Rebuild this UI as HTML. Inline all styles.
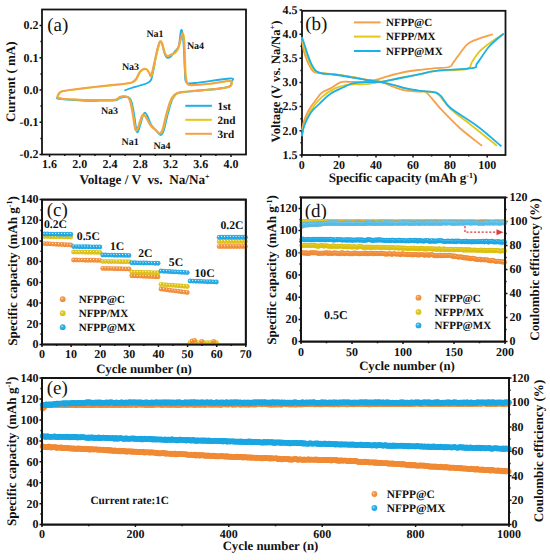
<!DOCTYPE html><html><head><meta charset="utf-8"><style>html,body{margin:0;padding:0;background:#fff;}svg{display:block;}text{font-family:"Liberation Serif", serif;fill:#111;text-rendering:geometricPrecision;}</style></head><body>
<svg width="550" height="560" viewBox="0 0 550 560">
<rect width="550" height="560" fill="#fff"/>
<defs>
<radialGradient id="gb" cx="0.38" cy="0.35" r="0.65"><stop offset="0" stop-color="#fff"/><stop offset="0.28" stop-color="#1aa6e2" stop-opacity="0.85"/><stop offset="1" stop-color="#1aa6e2"/></radialGradient>
<circle id="mb" r="2.45" fill="url(#gb)"/>
<circle id="mlb" r="2.9" fill="url(#gb)"/>
<radialGradient id="gy" cx="0.38" cy="0.35" r="0.65"><stop offset="0" stop-color="#fff"/><stop offset="0.28" stop-color="#dcc00e" stop-opacity="0.85"/><stop offset="1" stop-color="#dcc00e"/></radialGradient>
<circle id="my" r="2.45" fill="url(#gy)"/>
<circle id="mly" r="2.9" fill="url(#gy)"/>
<radialGradient id="go" cx="0.38" cy="0.35" r="0.65"><stop offset="0" stop-color="#fff"/><stop offset="0.28" stop-color="#f08a34" stop-opacity="0.85"/><stop offset="1" stop-color="#f08a34"/></radialGradient>
<circle id="mo" r="2.45" fill="url(#go)"/>
<circle id="mlo" r="2.9" fill="url(#go)"/>
<radialGradient id="gc" cx="0.38" cy="0.35" r="0.65"><stop offset="0" stop-color="#fff"/><stop offset="0.28" stop-color="#52bce8" stop-opacity="0.85"/><stop offset="1" stop-color="#52bce8"/></radialGradient>
<circle id="mc" r="2.45" fill="url(#gc)"/>
<circle id="mlc" r="2.9" fill="url(#gc)"/>
<circle id="msb" r="2.8" fill="#1aa6e2"/><circle id="mso" r="2.8" fill="#f08a34"/>
</defs>
<rect x="42" y="9.5" width="204" height="145" fill="none" stroke="#141414" stroke-width="1.8"/>
<path d="M49.6 154.5v2.5M79.8 154.5v2.5M110.1 154.5v2.5M140.3 154.5v2.5M170.6 154.5v2.5M200.8 154.5v2.5M231 154.5v2.5M64.7 154.5v1.6M95 154.5v1.6M125.2 154.5v1.6M155.4 154.5v1.6M185.7 154.5v1.6M215.9 154.5v1.6" stroke="#141414" stroke-width="1.5" fill="none"/>
<text x="49.6" y="168.2" font-size="12" text-anchor="middle" font-weight="bold">1.6</text>
<text x="79.8" y="168.2" font-size="12" text-anchor="middle" font-weight="bold">2.0</text>
<text x="110.1" y="168.2" font-size="12" text-anchor="middle" font-weight="bold">2.4</text>
<text x="140.3" y="168.2" font-size="12" text-anchor="middle" font-weight="bold">2.8</text>
<text x="170.6" y="168.2" font-size="12" text-anchor="middle" font-weight="bold">3.2</text>
<text x="200.8" y="168.2" font-size="12" text-anchor="middle" font-weight="bold">3.6</text>
<text x="231" y="168.2" font-size="12" text-anchor="middle" font-weight="bold">4.0</text>
<path d="M42 154.5h-2.5M42 122.2h-2.5M42 90h-2.5M42 57.8h-2.5M42 25.5h-2.5M42 138.4h-1.6M42 106.1h-1.6M42 73.9h-1.6M42 41.6h-1.6" stroke="#141414" stroke-width="1.5" fill="none"/>
<text x="38.5" y="158.3" font-size="12" text-anchor="end" font-weight="bold">-0.2</text>
<text x="38.5" y="126" font-size="12" text-anchor="end" font-weight="bold">-0.1</text>
<text x="38.5" y="93.8" font-size="12" text-anchor="end" font-weight="bold">0.0</text>
<text x="38.5" y="61.5" font-size="12" text-anchor="end" font-weight="bold">0.1</text>
<text x="38.5" y="29.3" font-size="12" text-anchor="end" font-weight="bold">0.2</text>
<text x="144.5" y="184.4" font-size="13.2" text-anchor="middle" font-weight="bold">Voltage / V&#160; vs.&#160; Na/Na<tspan dy="-5.5" font-size="8">+</tspan></text>
<text x="15" y="81.8" font-size="13" text-anchor="middle" font-weight="bold" transform="rotate(-90 15 81.8)">Current ( mA)</text>
<text x="47.3" y="31" font-size="19" text-anchor="start" font-weight="normal">(a)</text>
<text x="130.5" y="69.5" font-size="10" text-anchor="middle" font-weight="bold">Na3</text>
<text x="155" y="36.8" font-size="10" text-anchor="middle" font-weight="bold">Na1</text>
<text x="195.5" y="48.5" font-size="10" text-anchor="middle" font-weight="bold">Na4</text>
<text x="109.5" y="113.8" font-size="10" text-anchor="middle" font-weight="bold">Na3</text>
<text x="130.2" y="145.1" font-size="10" text-anchor="middle" font-weight="bold">Na1</text>
<text x="162" y="148.7" font-size="10" text-anchor="middle" font-weight="bold">Na4</text>
<path d="M125 90.3C126.1 89.9 129 88.8 131.5 88C134 87.2 137.4 86.3 140 85.5C142.6 84.7 145.2 84.1 147 83.2C148.8 82.3 149.9 82.2 151 80C152.1 77.8 152.6 74.2 153.5 70C154.4 65.8 155.3 59.2 156.2 55C157.1 50.8 158.1 46.7 158.8 44.5C159.5 42.3 160 41.6 160.6 41.6C161.2 41.6 161.6 42.5 162.3 44.5C163 46.5 163.8 51.3 164.6 53.5C165.4 55.7 165.9 57.3 167 57.8C168.1 58.3 169.7 57.4 171 56.3C172.3 55.2 173.7 53 175 51.3C176.3 49.6 177.7 49.8 178.7 46.3C179.7 42.8 180.3 32.7 181 30.6C181.7 28.5 182.2 31.4 182.6 33.8C183 36.2 183.3 41 183.6 45C183.9 49 184.1 53.2 184.3 58C184.5 62.8 184.7 69.9 185 74C185.3 78.1 184.7 80.9 186.4 82.4C188.1 83.9 187.7 83.7 195 83C202.3 82.3 223.9 78.7 230 78.5C236.1 78.3 231.6 80.4 231.6 81.6C231.6 82.8 232.1 84.8 230.2 85.9C228.3 87.1 225 87.7 220 88.5C215 89.3 206.7 89.9 200 90.6C193.3 91.3 184.2 91.8 180 92.6C175.8 93.4 176.4 93.9 175 95.4C173.6 96.9 172.7 98.3 171.4 101.7C170.1 105.1 168.6 111.1 167.3 115.9C166 120.7 164.9 127.3 163.8 130.5C162.7 133.7 161.8 134.9 160.6 135C159.4 135.1 158.1 132.5 156.5 130.8C154.9 129.1 152.9 127.5 151.3 125C149.8 122.5 148.2 117.5 147.2 115.5C146.1 113.5 145.7 112.8 145 112.7C144.3 112.6 144 112.9 143.2 115C142.4 117.1 141 122.6 140.1 125.5C139.2 128.4 138.2 132.1 137.5 132.4C136.8 132.7 136.6 130.3 136 127.4C135.4 124.5 134.9 119.1 134.2 115C133.5 110.9 132.7 105.9 131.9 103C131.1 100.1 130.6 98.8 129.5 97.8C128.4 96.8 127 96.8 125.5 96.8C124 96.8 122.2 97.2 120.5 97.8C118.8 98.4 118.4 99.9 115 100.4C111.6 100.9 104.5 100.5 100 100.6C95.5 100.7 92.2 101 88 100.9C83.8 100.8 79.3 100.5 75 100.2C70.7 99.9 65 99.5 62 99.2C59 98.9 57.8 98.5 57 98.4" fill="none" stroke="#1ab2e8" stroke-width="1.8" stroke-linejoin="round" stroke-linecap="round"/>
<path d="M57.6 97.7C57.9 97.1 58.3 94.9 59.1 93.9C59.9 92.9 60.7 92.1 62.6 91.5C64.5 90.9 65.9 90.7 70.6 90.1C75.3 89.5 83.9 88.5 90.6 87.7C97.3 86.9 104.8 86.1 110.6 85.5C116.4 84.9 121.9 84.4 125.6 83.9C129.3 83.4 130.8 83.3 132.6 82.5C134.4 81.7 135.3 81 136.6 79.2C137.9 77.4 139 73.3 140.6 71.6C142.2 69.9 144.7 68.9 146.2 69.1C147.7 69.3 148.5 71.6 149.4 72.8C150.3 74 150.7 77.1 151.4 76.3C152.1 75.5 152.8 71.5 153.7 67.8C154.6 64.1 155.8 58 156.8 54.1C157.8 50.1 158.7 46.2 159.4 44.1C160.1 42 160.5 41.3 161 41.3C161.5 41.3 161.9 42.2 162.6 44.1C163.3 46 164.2 50.8 165 52.8C165.8 54.8 166.4 56 167.5 56.3C168.6 56.6 170.4 55.3 171.8 54.7C173.1 54.1 174.4 53.7 175.6 52.6C176.8 51.4 177.8 50 178.7 47.8C179.6 45.5 180.5 41.5 181.2 39.1C181.9 36.7 182.6 33.3 183.1 33.5C183.6 33.7 184.1 36.5 184.4 40.3C184.7 44.1 184.9 50.6 185.1 56.3C185.3 62 185.4 69.8 185.8 74.3C186.2 78.8 186.6 81.7 187.6 83.5C188.6 85.3 188.1 85.2 191.9 85.3C195.7 85.4 204.2 84.6 210.6 83.9C217 83.2 226.7 81.1 230.2 81.1C233.7 81.1 231.8 82.8 231.8 83.7C231.8 84.6 232.1 85.9 230.2 86.7C228.3 87.5 225.5 88 220.6 88.6C215.7 89.2 207.3 89.8 200.6 90.5C193.9 91.2 184.9 91.7 180.6 92.5C176.3 93.3 176.4 93.8 174.7 95.3C173 96.8 172 98.3 170.6 101.8C169.2 105.2 167.7 111.3 166.4 116C165.1 120.7 164 127.3 162.9 130.2C161.8 133.1 161.1 133.6 159.9 133.6C158.7 133.6 157.4 131.7 155.8 130.2C154.2 128.8 152.1 127.1 150.5 124.9C148.9 122.7 147.4 118.9 146.3 117.2C145.2 115.5 144.7 115 144 114.9C143.3 114.8 143 114.8 142.2 116.6C141.4 118.4 140.1 123.1 139.2 125.5C138.3 127.9 137.3 130.5 136.6 130.7C135.9 130.9 135.7 129.3 135.1 126.7C134.5 124.1 134 118.8 133.3 114.9C132.6 110.9 131.8 105.9 131 103C130.2 100.1 129.6 98.8 128.6 97.7C127.6 96.6 126.5 96.6 125.1 96.5C123.7 96.4 121.9 96.5 120.3 97.1C118.7 97.7 118.9 99.4 115.6 99.9C112.3 100.4 105.1 100 100.6 100.1C96.1 100.2 92.8 100.4 88.6 100.3C84.4 100.2 79.9 99.9 75.6 99.7C71.3 99.5 65.6 99.2 62.6 98.9C59.6 98.6 58.4 97.9 57.6 97.7" fill="none" stroke="#e3c81a" stroke-width="1.8" stroke-linejoin="round" stroke-linecap="round"/>
<path d="M57 97.4C57.2 96.8 57.7 94.6 58.5 93.6C59.3 92.6 60.1 91.8 62 91.2C63.9 90.6 65.3 90.4 70 89.8C74.7 89.2 83.3 88.2 90 87.4C96.7 86.6 104.2 85.8 110 85.2C115.8 84.6 121.3 84.1 125 83.6C128.7 83.1 130.2 83 132 82.2C133.8 81.4 134.7 80.7 136 78.9C137.3 77.1 138.4 73 140 71.3C141.6 69.6 144.1 68.6 145.6 68.8C147.1 69 147.9 71.3 148.8 72.5C149.7 73.7 150.1 76.8 150.8 76C151.5 75.2 152.2 71.2 153.1 67.5C154 63.8 155.2 57.8 156.2 53.8C157.1 49.8 158.1 45.9 158.8 43.8C159.5 41.7 159.9 41 160.4 41C160.9 41 161.3 41.9 162 43.8C162.7 45.7 163.6 50.5 164.4 52.5C165.2 54.5 165.8 55.7 166.9 56C168 56.3 169.8 55 171.2 54.4C172.5 53.8 173.8 53.4 175 52.3C176.2 51.1 177.2 49.8 178.1 47.5C179 45.2 179.9 41.2 180.6 38.8C181.3 36.4 182 33 182.5 33.2C183 33.4 183.5 36.2 183.8 40C184.1 43.8 184.3 50.3 184.5 56C184.7 61.7 184.8 69.5 185.2 74C185.6 78.5 186 81.4 187 83.2C188 85 187.5 84.9 191.3 85C195.1 85.1 203.6 84.3 210 83.6C216.4 82.9 226.1 80.8 229.6 80.8C233.1 80.8 231.2 82.5 231.2 83.4C231.2 84.3 231.5 85.6 229.6 86.4C227.7 87.2 224.9 87.7 220 88.3C215.1 88.9 206.7 89.5 200 90.2C193.3 90.9 184.3 91.4 180 92.2C175.7 93 175.8 93.5 174.1 95C172.4 96.5 171.4 98 170 101.5C168.6 105 167.1 111 165.8 115.7C164.5 120.4 163.4 127 162.3 129.9C161.2 132.8 160.5 133.3 159.3 133.3C158.1 133.3 156.8 131.4 155.2 129.9C153.6 128.4 151.5 126.8 149.9 124.6C148.3 122.4 146.8 118.6 145.7 116.9C144.6 115.2 144.1 114.7 143.4 114.6C142.7 114.5 142.4 114.5 141.6 116.3C140.8 118.1 139.5 122.8 138.6 125.2C137.7 127.6 136.7 130.2 136 130.4C135.3 130.6 135.1 129 134.5 126.4C133.9 123.8 133.4 118.5 132.7 114.6C132 110.6 131.2 105.6 130.4 102.7C129.6 99.8 129 98.5 128 97.4C127 96.3 125.9 96.3 124.5 96.2C123.1 96.1 121.3 96.2 119.7 96.8C118.1 97.4 118.3 99.1 115 99.6C111.7 100.1 104.5 99.7 100 99.8C95.5 99.9 92.2 100.1 88 100C83.8 99.9 79.3 99.6 75 99.4C70.7 99.2 65 98.9 62 98.6C59 98.3 57.8 97.6 57 97.4" fill="none" stroke="#f5a04a" stroke-width="1.8" stroke-linejoin="round" stroke-linecap="round"/>
<path d="M185.3 105.8H211.9" stroke="#1ab2e8" stroke-width="2"/>
<text x="217.4" y="110" font-size="11.2" text-anchor="start" font-weight="bold">1st</text>
<path d="M185.3 119.8H211.9" stroke="#e3c81a" stroke-width="2"/>
<text x="217.4" y="124" font-size="11.2" text-anchor="start" font-weight="bold">2nd</text>
<path d="M185.3 133.8H211.9" stroke="#f5a04a" stroke-width="2"/>
<text x="217.4" y="138" font-size="11.2" text-anchor="start" font-weight="bold">3rd</text>
<rect x="302" y="10.8" width="203.5" height="144.2" fill="none" stroke="#141414" stroke-width="1.8"/>
<path d="M301.8 155v2.5M338.9 155v2.5M376 155v2.5M413 155v2.5M450.1 155v2.5M487.2 155v2.5M320.3 155v1.6M357.4 155v1.6M394.5 155v1.6M431.6 155v1.6M468.7 155v1.6" stroke="#141414" stroke-width="1.5" fill="none"/>
<text x="301.8" y="168.7" font-size="12" text-anchor="middle" font-weight="bold">0</text>
<text x="338.9" y="168.7" font-size="12" text-anchor="middle" font-weight="bold">20</text>
<text x="376" y="168.7" font-size="12" text-anchor="middle" font-weight="bold">40</text>
<text x="413" y="168.7" font-size="12" text-anchor="middle" font-weight="bold">60</text>
<text x="450.1" y="168.7" font-size="12" text-anchor="middle" font-weight="bold">80</text>
<text x="487.2" y="168.7" font-size="12" text-anchor="middle" font-weight="bold">100</text>
<path d="M302 154.9h-2.5M302 130.8h-2.5M302 106.6h-2.5M302 82.5h-2.5M302 58.3h-2.5M302 34.2h-2.5M302 10h-2.5M302 142.8h-1.6M302 118.7h-1.6M302 94.5h-1.6M302 70.4h-1.6M302 46.2h-1.6M302 22.1h-1.6" stroke="#141414" stroke-width="1.5" fill="none"/>
<text x="297.5" y="158.7" font-size="12" text-anchor="end" font-weight="bold">1.5</text>
<text x="297.5" y="134.6" font-size="12" text-anchor="end" font-weight="bold">2.0</text>
<text x="297.5" y="110.4" font-size="12" text-anchor="end" font-weight="bold">2.5</text>
<text x="297.5" y="86.3" font-size="12" text-anchor="end" font-weight="bold">3.0</text>
<text x="297.5" y="62.1" font-size="12" text-anchor="end" font-weight="bold">3.5</text>
<text x="297.5" y="38" font-size="12" text-anchor="end" font-weight="bold">4.0</text>
<text x="297.5" y="13.8" font-size="12" text-anchor="end" font-weight="bold">4.5</text>
<text x="403" y="182" font-size="13" text-anchor="middle" font-weight="bold">Specific capacity (mAh g<tspan dy="-4.5" font-size="8">-1</tspan><tspan dy="4.5">)</tspan></text>
<text x="279.5" y="81.5" font-size="12.8" text-anchor="middle" font-weight="bold" transform="rotate(-90 279.5 81.5)">Voltage (V vs. Na/Na<tspan dy="-4.5" font-size="8">+</tspan><tspan dy="4.5">)</tspan></text>
<text x="305.3" y="30" font-size="19" text-anchor="start" font-weight="normal">(b)</text>
<path d="M302 129.8C302.3 128.3 302.9 124.3 304 121C305.1 117.7 306.6 113.8 308.7 110.2C310.8 106.6 314.2 102.2 316.4 99.3C318.6 96.4 319.4 94.5 321.8 92.7C324.2 90.9 327.4 90.1 330.5 88.4C333.6 86.7 337.1 83.4 340.4 82.3C343.7 81.2 346 81.9 350.2 81.8C354.4 81.7 361.1 82.2 365.5 81.8C369.9 81.4 372.8 80.5 376.4 79.6C380 78.7 382.6 77.7 387.3 76.4C392 75.1 399.2 73.1 404.7 72C410.1 70.9 414.9 70.4 420 69.8C425.1 69.2 430.1 68.7 435 68.2C439.9 67.7 446.4 67.9 449.4 67C452.4 66.1 451.6 64.8 453 63C454.4 61.2 455.5 59.4 457.9 56.2C460.3 53.1 464.3 46.9 467.5 44.1C470.7 41.3 473 40.9 477.1 39.3C481.2 37.7 489.6 35.3 492.1 34.5" fill="none" stroke="#f5a04a" stroke-width="1.8" stroke-linejoin="round" stroke-linecap="round"/>
<path d="M302 41C302.3 42.5 302.9 47 303.6 50C304.3 53 305.4 56.3 306.4 59C307.4 61.7 308.5 64.2 309.8 66.4C311.1 68.6 312 70.9 314 72C316 73.1 318.9 72.8 322 73.2C325.1 73.6 327.3 73.5 332.7 74.2C338.1 74.9 349 76.6 354.5 77.5C360 78.4 361.1 78.9 365.5 79.6C369.9 80.3 376 80.6 380.7 81.8C385.4 83 389.8 85.6 393.8 87C397.8 88.4 400.3 89.5 404.7 90.3C409.1 91.1 416.4 91.2 420 91.6C423.6 92 423 89.7 426.5 92.6C430 95.5 435.4 103.2 441 109.2C446.6 115.2 453.6 122.5 460.3 128.5C467.1 134.5 478 142.6 481.5 145.4" fill="none" stroke="#f5a04a" stroke-width="1.8" stroke-linejoin="round" stroke-linecap="round"/>
<path d="M302 135.3C302.4 133.4 303 128.2 304.5 124C306 119.8 308 114.7 310.9 110.2C313.8 105.7 317.8 100.7 321.8 97.1C325.8 93.5 330.9 90.4 334.9 88.4C338.9 86.4 342.5 85.8 345.8 85.1C349.1 84.4 351.2 84.6 354.5 84.4C357.8 84.2 361.9 84.5 365.5 84.2C369.1 83.9 372.8 83.1 376.4 82.5C380 81.9 383.7 81.4 387.3 80.7C390.9 80 392.8 79.4 398.2 78.3C403.6 77.2 413.7 75.5 420 74.2C426.3 73 428.5 71.6 436.2 70.8C443.9 70 460.3 70.7 466.3 69.2C472.3 67.7 469.8 65 472 62C474.2 59 476.3 54.7 479.6 51.3C482.9 47.9 487.8 44.5 491.6 41.7C495.4 38.9 500.7 35.7 502.5 34.5" fill="none" stroke="#e3c81a" stroke-width="1.8" stroke-linejoin="round" stroke-linecap="round"/>
<path d="M302 38C302.3 39.3 303.1 43 304 46C304.9 49 306.1 53.1 307.2 56.2C308.3 59.3 309.1 62 310.5 64.5C311.9 67 313.4 70 315.3 71.5C317.2 73 319.1 72.8 322 73.2C324.9 73.7 327.3 73.5 332.7 74.2C338.1 74.9 349 76.6 354.5 77.5C360 78.4 361.1 78.9 365.5 79.6C369.9 80.3 376 80.9 380.7 81.8C385.4 82.7 389.8 84 393.8 85.1C397.8 86.2 400.3 87.4 404.7 88.4C409.1 89.4 415.8 90.6 420 91.2C424.2 91.8 426.9 91.6 430 92.2C433.1 92.8 435.2 91.9 438.6 94.7C442 97.5 445 104 450.6 109.2C456.2 114.4 464.7 120 472.3 126C479.9 132 492.4 142.2 496.4 145.4" fill="none" stroke="#e3c81a" stroke-width="1.8" stroke-linejoin="round" stroke-linecap="round"/>
<path d="M302 135.5C302.4 133.8 303 128.8 304.5 125C306 121.2 308.4 116 310.9 112.4C313.4 108.8 316.3 106.7 319.6 103.6C322.9 100.5 326.5 96.5 330.5 93.8C334.5 91.1 340 89 343.6 87.3C347.2 85.6 348.8 84.2 352.4 83.4C356 82.6 360.4 82.5 365.5 82.2C370.6 81.9 377.4 82.2 382.9 81.6C388.3 81 392 79.7 398.2 78.5C404.4 77.3 413.7 75.5 420 74.2C426.3 72.9 427.5 71.8 436.2 70.8C444.9 69.8 465.5 69.4 472.3 68.2C479.1 67 474.3 67 477.1 63.4C479.9 59.8 484.9 51.4 489.2 46.5C493.5 41.6 500.9 36.1 503.2 34" fill="none" stroke="#1ab2e8" stroke-width="1.8" stroke-linejoin="round" stroke-linecap="round"/>
<path d="M302 37.5C302.5 38.8 303.8 42.5 304.8 45.5C305.8 48.5 306.9 52.5 308 55.6C309.1 58.7 310.2 61.6 311.5 64.2C312.8 66.8 314.2 69.5 316 71C317.8 72.5 319.2 72.9 322 73.5C324.8 74.1 327.3 73.8 332.7 74.5C338.1 75.2 349 76.9 354.5 77.8C360 78.7 361.1 79.2 365.5 79.9C369.9 80.6 376 81.2 380.7 82.1C385.4 82.9 389.8 84 393.8 85C397.8 86 400.3 87.2 404.7 88.2C409.1 89.2 415.8 90.2 420 90.8C424.2 91.4 427.3 91.3 430 91.6C432.7 91.9 434.4 91.8 436.2 92.5C438 93.2 438.6 93.4 441 96C443.4 98.6 444.6 103 450.6 108C456.6 113 468.7 119.7 477.1 126C485.5 132.3 496.9 142.5 500.8 145.8" fill="none" stroke="#1ab2e8" stroke-width="1.8" stroke-linejoin="round" stroke-linecap="round"/>
<path d="M354 22.4H380.6" stroke="#f5a04a" stroke-width="2"/>
<text x="386" y="26.2" font-size="11" text-anchor="start" font-weight="bold">NFPP@C</text>
<path d="M354 36.6H380.6" stroke="#e3c81a" stroke-width="2"/>
<text x="386" y="40.4" font-size="11" text-anchor="start" font-weight="bold">NFPP/MX</text>
<path d="M354 51H380.6" stroke="#1ab2e8" stroke-width="2"/>
<text x="386" y="54.8" font-size="11" text-anchor="start" font-weight="bold">NFPP@MX</text>
<rect x="42" y="199.6" width="203.8" height="144.9" fill="none" stroke="#141414" stroke-width="1.8"/>
<path d="M42 344.5v2.5M71.1 344.5v2.5M100.2 344.5v2.5M129.3 344.5v2.5M158.4 344.5v2.5M187.6 344.5v2.5M216.7 344.5v2.5M245.8 344.5v2.5M56.6 344.5v1.6M85.7 344.5v1.6M114.8 344.5v1.6M143.9 344.5v1.6M173 344.5v1.6M202.1 344.5v1.6M231.2 344.5v1.6" stroke="#141414" stroke-width="1.5" fill="none"/>
<text x="42" y="358.3" font-size="12" text-anchor="middle" font-weight="bold">0</text>
<text x="71.1" y="358.3" font-size="12" text-anchor="middle" font-weight="bold">10</text>
<text x="100.2" y="358.3" font-size="12" text-anchor="middle" font-weight="bold">20</text>
<text x="129.3" y="358.3" font-size="12" text-anchor="middle" font-weight="bold">30</text>
<text x="158.4" y="358.3" font-size="12" text-anchor="middle" font-weight="bold">40</text>
<text x="187.6" y="358.3" font-size="12" text-anchor="middle" font-weight="bold">50</text>
<text x="216.7" y="358.3" font-size="12" text-anchor="middle" font-weight="bold">60</text>
<text x="245.8" y="358.3" font-size="12" text-anchor="middle" font-weight="bold">70</text>
<path d="M42 344.5h-2.5M42 323.8h-2.5M42 303.1h-2.5M42 282.4h-2.5M42 261.6h-2.5M42 240.9h-2.5M42 220.2h-2.5M42 199.5h-2.5M42 334.1h-1.6M42 313.4h-1.6M42 292.7h-1.6M42 272h-1.6M42 251.3h-1.6M42 230.6h-1.6M42 209.9h-1.6" stroke="#141414" stroke-width="1.5" fill="none"/>
<text x="38.6" y="348.3" font-size="12" text-anchor="end" font-weight="bold">0</text>
<text x="38.6" y="327.6" font-size="12" text-anchor="end" font-weight="bold">20</text>
<text x="38.6" y="306.9" font-size="12" text-anchor="end" font-weight="bold">40</text>
<text x="38.6" y="286.2" font-size="12" text-anchor="end" font-weight="bold">60</text>
<text x="38.6" y="265.4" font-size="12" text-anchor="end" font-weight="bold">80</text>
<text x="38.6" y="244.7" font-size="12" text-anchor="end" font-weight="bold">100</text>
<text x="38.6" y="224" font-size="12" text-anchor="end" font-weight="bold">120</text>
<text x="38.6" y="203.3" font-size="12" text-anchor="end" font-weight="bold">140</text>
<text x="144" y="372.7" font-size="12.8" text-anchor="middle" font-weight="bold">Cycle number (n)</text>
<text x="16.5" y="271" font-size="13.1" text-anchor="middle" font-weight="bold" transform="rotate(-90 16.5 271)">Specific capacity (mAh g<tspan dy="-4.5" font-size="8">-1</tspan><tspan dy="4.5">)</tspan></text>
<text x="46.8" y="216" font-size="19" text-anchor="start" font-weight="normal">(c)</text>
<text x="44" y="227.9" font-size="11.7" text-anchor="start" font-weight="bold">0.2C</text>
<text x="76.8" y="240.3" font-size="11.7" text-anchor="start" font-weight="bold">0.5C</text>
<text x="110" y="250.1" font-size="11.7" text-anchor="start" font-weight="bold">1C</text>
<text x="138.2" y="257.2" font-size="11.7" text-anchor="start" font-weight="bold">2C</text>
<text x="168.8" y="265.9" font-size="11.7" text-anchor="start" font-weight="bold">5C</text>
<text x="194.5" y="276.9" font-size="11.7" text-anchor="start" font-weight="bold">10C</text>
<text x="220.5" y="229.2" font-size="11.7" text-anchor="start" font-weight="bold">0.2C</text>
<use href="#mo" x="44.5" y="243.6"/>
<use href="#mo" x="47.4" y="243.8"/>
<use href="#mo" x="50.3" y="243.9"/>
<use href="#mo" x="53.2" y="244.1"/>
<use href="#mo" x="56.2" y="244.2"/>
<use href="#mo" x="59.1" y="244.4"/>
<use href="#mo" x="62" y="244.5"/>
<use href="#mo" x="64.9" y="244.7"/>
<use href="#mo" x="67.8" y="244.8"/>
<use href="#mo" x="70.7" y="245"/>
<use href="#my" x="44.5" y="236.6"/>
<use href="#my" x="47.4" y="236.6"/>
<use href="#my" x="50.3" y="236.7"/>
<use href="#my" x="53.2" y="236.7"/>
<use href="#my" x="56.2" y="236.8"/>
<use href="#my" x="59.1" y="236.8"/>
<use href="#my" x="62" y="236.9"/>
<use href="#my" x="64.9" y="236.9"/>
<use href="#my" x="67.8" y="237"/>
<use href="#my" x="70.7" y="237"/>
<use href="#mb" x="44.5" y="234"/>
<use href="#mb" x="47.4" y="234"/>
<use href="#mb" x="50.3" y="234.1"/>
<use href="#mb" x="53.2" y="234.1"/>
<use href="#mb" x="56.2" y="234.1"/>
<use href="#mb" x="59.1" y="234.2"/>
<use href="#mb" x="62" y="234.2"/>
<use href="#mb" x="64.9" y="234.2"/>
<use href="#mb" x="67.8" y="234.3"/>
<use href="#mb" x="70.7" y="234.3"/>
<use href="#mo" x="73.6" y="260"/>
<use href="#mo" x="76.5" y="260"/>
<use href="#mo" x="79.4" y="260.1"/>
<use href="#mo" x="82.4" y="260.1"/>
<use href="#mo" x="85.3" y="260.2"/>
<use href="#mo" x="88.2" y="260.2"/>
<use href="#mo" x="91.1" y="260.3"/>
<use href="#mo" x="94" y="260.3"/>
<use href="#mo" x="96.9" y="260.4"/>
<use href="#mo" x="99.8" y="260.4"/>
<use href="#my" x="73.6" y="252"/>
<use href="#my" x="76.5" y="252"/>
<use href="#my" x="79.4" y="252.1"/>
<use href="#my" x="82.4" y="252.1"/>
<use href="#my" x="85.3" y="252.2"/>
<use href="#my" x="88.2" y="252.2"/>
<use href="#my" x="91.1" y="252.3"/>
<use href="#my" x="94" y="252.3"/>
<use href="#my" x="96.9" y="252.4"/>
<use href="#my" x="99.8" y="252.4"/>
<use href="#mb" x="73.6" y="246.6"/>
<use href="#mb" x="76.5" y="246.6"/>
<use href="#mb" x="79.4" y="246.7"/>
<use href="#mb" x="82.4" y="246.7"/>
<use href="#mb" x="85.3" y="246.8"/>
<use href="#mb" x="88.2" y="246.8"/>
<use href="#mb" x="91.1" y="246.9"/>
<use href="#mb" x="94" y="246.9"/>
<use href="#mb" x="96.9" y="247"/>
<use href="#mb" x="99.8" y="247"/>
<use href="#mo" x="102.7" y="268.4"/>
<use href="#mo" x="105.6" y="268.5"/>
<use href="#mo" x="108.6" y="268.5"/>
<use href="#mo" x="111.5" y="268.6"/>
<use href="#mo" x="114.4" y="268.7"/>
<use href="#mo" x="117.3" y="268.7"/>
<use href="#mo" x="120.2" y="268.8"/>
<use href="#mo" x="123.1" y="268.9"/>
<use href="#mo" x="126" y="268.9"/>
<use href="#mo" x="128.9" y="269"/>
<use href="#my" x="102.7" y="261.4"/>
<use href="#my" x="105.6" y="261.4"/>
<use href="#my" x="108.6" y="261.5"/>
<use href="#my" x="111.5" y="261.5"/>
<use href="#my" x="114.4" y="261.6"/>
<use href="#my" x="117.3" y="261.6"/>
<use href="#my" x="120.2" y="261.7"/>
<use href="#my" x="123.1" y="261.7"/>
<use href="#my" x="126" y="261.8"/>
<use href="#my" x="128.9" y="261.8"/>
<use href="#mb" x="102.7" y="255"/>
<use href="#mb" x="105.6" y="255"/>
<use href="#mb" x="108.6" y="255.1"/>
<use href="#mb" x="111.5" y="255.1"/>
<use href="#mb" x="114.4" y="255.2"/>
<use href="#mb" x="117.3" y="255.2"/>
<use href="#mb" x="120.2" y="255.3"/>
<use href="#mb" x="123.1" y="255.3"/>
<use href="#mb" x="126" y="255.4"/>
<use href="#mb" x="128.9" y="255.4"/>
<use href="#mo" x="131.8" y="275.8"/>
<use href="#mo" x="134.8" y="275.9"/>
<use href="#mo" x="137.7" y="276"/>
<use href="#mo" x="140.6" y="276.1"/>
<use href="#mo" x="143.5" y="276.2"/>
<use href="#mo" x="146.4" y="276.4"/>
<use href="#mo" x="149.3" y="276.5"/>
<use href="#mo" x="152.2" y="276.6"/>
<use href="#mo" x="155.1" y="276.7"/>
<use href="#mo" x="158" y="276.8"/>
<use href="#my" x="131.8" y="272"/>
<use href="#my" x="134.8" y="272.1"/>
<use href="#my" x="137.7" y="272.2"/>
<use href="#my" x="140.6" y="272.3"/>
<use href="#my" x="143.5" y="272.4"/>
<use href="#my" x="146.4" y="272.4"/>
<use href="#my" x="149.3" y="272.5"/>
<use href="#my" x="152.2" y="272.6"/>
<use href="#my" x="155.1" y="272.7"/>
<use href="#my" x="158" y="272.8"/>
<use href="#mb" x="131.8" y="262.8"/>
<use href="#mb" x="134.8" y="262.8"/>
<use href="#mb" x="137.7" y="262.9"/>
<use href="#mb" x="140.6" y="262.9"/>
<use href="#mb" x="143.5" y="263"/>
<use href="#mb" x="146.4" y="263"/>
<use href="#mb" x="149.3" y="263.1"/>
<use href="#mb" x="152.2" y="263.1"/>
<use href="#mb" x="155.1" y="263.2"/>
<use href="#mb" x="158" y="263.2"/>
<use href="#mo" x="161" y="289"/>
<use href="#mo" x="163.9" y="289.4"/>
<use href="#mo" x="166.8" y="289.8"/>
<use href="#mo" x="169.7" y="290.2"/>
<use href="#mo" x="172.6" y="290.6"/>
<use href="#mo" x="175.5" y="290.9"/>
<use href="#mo" x="178.4" y="291.3"/>
<use href="#mo" x="181.3" y="291.7"/>
<use href="#mo" x="184.2" y="292.1"/>
<use href="#mo" x="187.2" y="292.5"/>
<use href="#my" x="161" y="284.4"/>
<use href="#my" x="163.9" y="284.6"/>
<use href="#my" x="166.8" y="284.9"/>
<use href="#my" x="169.7" y="285.1"/>
<use href="#my" x="172.6" y="285.3"/>
<use href="#my" x="175.5" y="285.6"/>
<use href="#my" x="178.4" y="285.8"/>
<use href="#my" x="181.3" y="286"/>
<use href="#my" x="184.2" y="286.3"/>
<use href="#my" x="187.2" y="286.5"/>
<use href="#mb" x="161" y="271"/>
<use href="#mb" x="163.9" y="271.2"/>
<use href="#mb" x="166.8" y="271.4"/>
<use href="#mb" x="169.7" y="271.5"/>
<use href="#mb" x="172.6" y="271.7"/>
<use href="#mb" x="175.5" y="271.9"/>
<use href="#mb" x="178.4" y="272.1"/>
<use href="#mb" x="181.3" y="272.2"/>
<use href="#mb" x="184.2" y="272.4"/>
<use href="#mb" x="187.2" y="272.6"/>
<use href="#mb" x="190.1" y="281"/>
<use href="#mb" x="193" y="281.1"/>
<use href="#mb" x="195.9" y="281.2"/>
<use href="#mb" x="198.8" y="281.3"/>
<use href="#mb" x="201.7" y="281.4"/>
<use href="#mb" x="204.6" y="281.6"/>
<use href="#mb" x="207.5" y="281.7"/>
<use href="#mb" x="210.4" y="281.8"/>
<use href="#mb" x="213.3" y="281.9"/>
<use href="#mb" x="216.3" y="282"/>
<use href="#mo" x="219.2" y="246.5"/>
<use href="#mo" x="222.1" y="246.5"/>
<use href="#mo" x="225" y="246.5"/>
<use href="#mo" x="227.9" y="246.5"/>
<use href="#mo" x="230.8" y="246.5"/>
<use href="#mo" x="233.7" y="246.5"/>
<use href="#mo" x="236.6" y="246.5"/>
<use href="#mo" x="239.5" y="246.5"/>
<use href="#mo" x="242.5" y="246.5"/>
<use href="#mo" x="245.4" y="246.5"/>
<use href="#my" x="219.2" y="241.5"/>
<use href="#my" x="222.1" y="241.5"/>
<use href="#my" x="225" y="241.5"/>
<use href="#my" x="227.9" y="241.5"/>
<use href="#my" x="230.8" y="241.5"/>
<use href="#my" x="233.7" y="241.5"/>
<use href="#my" x="236.6" y="241.5"/>
<use href="#my" x="239.5" y="241.5"/>
<use href="#my" x="242.5" y="241.5"/>
<use href="#my" x="245.4" y="241.5"/>
<use href="#mb" x="219.2" y="237.2"/>
<use href="#mb" x="222.1" y="237.2"/>
<use href="#mb" x="225" y="237.2"/>
<use href="#mb" x="227.9" y="237.2"/>
<use href="#mb" x="230.8" y="237.2"/>
<use href="#mb" x="233.7" y="237.2"/>
<use href="#mb" x="236.6" y="237.2"/>
<use href="#mb" x="239.5" y="237.2"/>
<use href="#mb" x="242.5" y="237.2"/>
<use href="#mb" x="245.4" y="237.2"/>
<use href="#my" x="190.1" y="342.6"/>
<use href="#my" x="193" y="342.6"/>
<use href="#my" x="195.9" y="342.6"/>
<use href="#my" x="198.8" y="342.6"/>
<use href="#my" x="201.7" y="342.6"/>
<use href="#my" x="204.6" y="342.6"/>
<use href="#my" x="207.5" y="342.6"/>
<use href="#my" x="210.4" y="342.6"/>
<use href="#my" x="213.3" y="342.6"/>
<use href="#my" x="216.3" y="342.6"/>
<use href="#mo" x="192" y="341"/>
<use href="#mo" x="194.6" y="340.4"/>
<use href="#mo" x="201.8" y="341.4"/>
<use href="#mo" x="213.6" y="341.4"/>
<rect x="42" y="199.6" width="203.8" height="144.9" fill="none" stroke="#141414" stroke-width="1.8"/>
<use href="#mlo" x="62.7" y="299.2"/>
<text x="78.7" y="303.1" font-size="11" text-anchor="start" font-weight="bold">NFPP@C</text>
<use href="#mly" x="62.7" y="313.2"/>
<text x="78.7" y="317.1" font-size="11" text-anchor="start" font-weight="bold">NFPP/MX</text>
<use href="#mlb" x="62.7" y="327.2"/>
<text x="78.7" y="331.1" font-size="11" text-anchor="start" font-weight="bold">NFPP@MX</text>
<rect x="301" y="197.5" width="204" height="144.1" fill="none" stroke="#141414" stroke-width="1.8"/>
<path d="M301 341.6v2.5M352 341.6v2.5M403 341.6v2.5M454 341.6v2.5M505 341.6v2.5M326.5 341.6v1.6M377.5 341.6v1.6M428.5 341.6v1.6M479.5 341.6v1.6" stroke="#141414" stroke-width="1.5" fill="none"/>
<text x="301" y="355.6" font-size="12" text-anchor="middle" font-weight="bold">0</text>
<text x="352" y="355.6" font-size="12" text-anchor="middle" font-weight="bold">50</text>
<text x="403" y="355.6" font-size="12" text-anchor="middle" font-weight="bold">100</text>
<text x="454" y="355.6" font-size="12" text-anchor="middle" font-weight="bold">150</text>
<text x="505" y="355.6" font-size="12" text-anchor="middle" font-weight="bold">200</text>
<path d="M301 341.6h-2.5M301 319.4h-2.5M301 297.2h-2.5M301 275h-2.5M301 252.8h-2.5M301 230.6h-2.5M301 208.4h-2.5M301 330.5h-1.6M301 308.3h-1.6M301 286.1h-1.6M301 263.9h-1.6M301 241.7h-1.6M301 219.5h-1.6M301 197.3h-1.6" stroke="#141414" stroke-width="1.5" fill="none"/>
<text x="297.4" y="345.4" font-size="12" text-anchor="end" font-weight="bold">0</text>
<text x="297.4" y="323.2" font-size="12" text-anchor="end" font-weight="bold">20</text>
<text x="297.4" y="301" font-size="12" text-anchor="end" font-weight="bold">40</text>
<text x="297.4" y="278.8" font-size="12" text-anchor="end" font-weight="bold">60</text>
<text x="297.4" y="256.6" font-size="12" text-anchor="end" font-weight="bold">80</text>
<text x="297.4" y="234.4" font-size="12" text-anchor="end" font-weight="bold">100</text>
<text x="297.4" y="212.2" font-size="12" text-anchor="end" font-weight="bold">120</text>
<path d="M505 341.6h2.5M505 317.6h2.5M505 293.6h2.5M505 269.6h2.5M505 245.6h2.5M505 221.6h2.5M505 197.6h2.5M505 329.6h1.6M505 305.6h1.6M505 281.6h1.6M505 257.6h1.6M505 233.6h1.6M505 209.6h1.6" stroke="#141414" stroke-width="1.5" fill="none"/>
<text x="509.4" y="345.4" font-size="12" text-anchor="start" font-weight="bold">0</text>
<text x="509.4" y="321.4" font-size="12" text-anchor="start" font-weight="bold">20</text>
<text x="509.4" y="297.4" font-size="12" text-anchor="start" font-weight="bold">40</text>
<text x="509.4" y="273.4" font-size="12" text-anchor="start" font-weight="bold">60</text>
<text x="509.4" y="249.4" font-size="12" text-anchor="start" font-weight="bold">80</text>
<text x="509.4" y="225.4" font-size="12" text-anchor="start" font-weight="bold">100</text>
<text x="509.4" y="201.4" font-size="12" text-anchor="start" font-weight="bold">120</text>
<text x="407" y="369.5" font-size="12.8" text-anchor="middle" font-weight="bold">Cycle number (n)</text>
<text x="276" y="270" font-size="13.1" text-anchor="middle" font-weight="bold" transform="rotate(-90 276 270)">Specific capacity (mAh g<tspan dy="-4.5" font-size="8">-1</tspan><tspan dy="4.5">)</tspan></text>
<text x="539" y="269.5" font-size="13.1" text-anchor="middle" font-weight="bold" transform="rotate(-90 539 269.5)">Coulombic efficiency (%)</text>
<text x="304.8" y="216.5" font-size="19" text-anchor="start" font-weight="normal">(d)</text>
<text x="324" y="319" font-size="12" text-anchor="start" font-weight="bold">0.5C</text>
<use href="#my" x="301.6" y="221.6"/>
<use href="#my" x="302.6" y="221.5"/>
<use href="#my" x="303.6" y="221.8"/>
<use href="#my" x="304.7" y="221.5"/>
<use href="#my" x="305.7" y="221.7"/>
<use href="#my" x="306.7" y="221.6"/>
<use href="#my" x="307.7" y="221.5"/>
<use href="#my" x="308.7" y="221.7"/>
<use href="#my" x="309.8" y="221.5"/>
<use href="#my" x="310.8" y="221.7"/>
<use href="#my" x="311.8" y="221.5"/>
<use href="#my" x="312.8" y="221.5"/>
<use href="#my" x="313.8" y="221.7"/>
<use href="#my" x="314.9" y="221.9"/>
<use href="#my" x="315.9" y="221.5"/>
<use href="#my" x="316.9" y="221.6"/>
<use href="#my" x="317.9" y="221.8"/>
<use href="#my" x="318.9" y="221.9"/>
<use href="#my" x="320" y="221.7"/>
<use href="#my" x="321" y="221.6"/>
<use href="#my" x="322" y="221.9"/>
<use href="#my" x="323" y="221.5"/>
<use href="#my" x="324" y="221.9"/>
<use href="#my" x="325.1" y="221.6"/>
<use href="#my" x="326.1" y="221.5"/>
<use href="#my" x="327.1" y="221.5"/>
<use href="#my" x="328.1" y="221.6"/>
<use href="#my" x="329.1" y="221.9"/>
<use href="#my" x="330.2" y="221.5"/>
<use href="#my" x="331.2" y="221.7"/>
<use href="#my" x="332.2" y="221.8"/>
<use href="#my" x="333.2" y="221.6"/>
<use href="#my" x="334.2" y="221.7"/>
<use href="#my" x="335.3" y="221.5"/>
<use href="#my" x="336.3" y="221.5"/>
<use href="#my" x="337.3" y="221.6"/>
<use href="#my" x="338.3" y="221.8"/>
<use href="#my" x="339.3" y="221.7"/>
<use href="#my" x="340.4" y="221.6"/>
<use href="#my" x="341.4" y="221.7"/>
<use href="#my" x="342.4" y="221.7"/>
<use href="#my" x="343.4" y="221.6"/>
<use href="#my" x="344.4" y="221.8"/>
<use href="#my" x="345.5" y="221.8"/>
<use href="#my" x="346.5" y="221.6"/>
<use href="#my" x="347.5" y="221.7"/>
<use href="#my" x="348.5" y="221.7"/>
<use href="#my" x="349.5" y="221.9"/>
<use href="#my" x="350.6" y="221.8"/>
<use href="#my" x="351.6" y="221.6"/>
<use href="#my" x="352.6" y="221.9"/>
<use href="#my" x="353.6" y="221.5"/>
<use href="#my" x="354.6" y="221.7"/>
<use href="#my" x="355.7" y="221.8"/>
<use href="#my" x="356.7" y="221.5"/>
<use href="#my" x="357.7" y="221.7"/>
<use href="#my" x="358.7" y="221.5"/>
<use href="#my" x="359.7" y="221.8"/>
<use href="#my" x="360.8" y="221.8"/>
<use href="#my" x="361.8" y="221.7"/>
<use href="#my" x="362.8" y="221.9"/>
<use href="#my" x="363.8" y="221.6"/>
<use href="#my" x="364.8" y="221.8"/>
<use href="#my" x="365.9" y="221.7"/>
<use href="#my" x="366.9" y="221.7"/>
<use href="#my" x="367.9" y="221.7"/>
<use href="#my" x="368.9" y="221.9"/>
<use href="#my" x="369.9" y="221.9"/>
<use href="#my" x="371" y="221.7"/>
<use href="#my" x="372" y="221.8"/>
<use href="#my" x="373" y="221.5"/>
<use href="#my" x="374" y="221.8"/>
<use href="#my" x="375" y="221.8"/>
<use href="#my" x="376.1" y="221.9"/>
<use href="#my" x="377.1" y="221.9"/>
<use href="#my" x="378.1" y="221.6"/>
<use href="#my" x="379.1" y="221.6"/>
<use href="#my" x="380.1" y="221.8"/>
<use href="#my" x="381.2" y="221.5"/>
<use href="#my" x="382.2" y="221.7"/>
<use href="#my" x="383.2" y="221.5"/>
<use href="#my" x="384.2" y="221.5"/>
<use href="#my" x="385.2" y="221.5"/>
<use href="#my" x="386.3" y="221.8"/>
<use href="#my" x="387.3" y="221.5"/>
<use href="#my" x="388.3" y="221.6"/>
<use href="#my" x="389.3" y="221.6"/>
<use href="#my" x="390.3" y="221.9"/>
<use href="#my" x="391.4" y="221.5"/>
<use href="#my" x="392.4" y="221.7"/>
<use href="#my" x="393.4" y="221.7"/>
<use href="#my" x="394.4" y="221.9"/>
<use href="#my" x="395.4" y="221.9"/>
<use href="#my" x="396.5" y="221.9"/>
<use href="#my" x="397.5" y="221.6"/>
<use href="#my" x="398.5" y="221.7"/>
<use href="#my" x="399.5" y="221.6"/>
<use href="#my" x="400.5" y="221.9"/>
<use href="#my" x="401.6" y="221.9"/>
<use href="#my" x="402.6" y="221.5"/>
<use href="#my" x="403.6" y="221.5"/>
<use href="#my" x="404.6" y="221.6"/>
<use href="#my" x="405.6" y="221.6"/>
<use href="#my" x="406.7" y="221.7"/>
<use href="#my" x="407.7" y="221.7"/>
<use href="#my" x="408.7" y="221.6"/>
<use href="#my" x="409.7" y="221.5"/>
<use href="#my" x="410.7" y="221.7"/>
<use href="#my" x="411.8" y="221.6"/>
<use href="#my" x="412.8" y="221.7"/>
<use href="#my" x="413.8" y="221.9"/>
<use href="#my" x="414.8" y="221.8"/>
<use href="#my" x="415.8" y="221.7"/>
<use href="#my" x="416.9" y="221.8"/>
<use href="#my" x="417.9" y="221.8"/>
<use href="#my" x="418.9" y="221.5"/>
<use href="#my" x="419.9" y="221.9"/>
<use href="#my" x="420.9" y="221.8"/>
<use href="#my" x="422" y="221.9"/>
<use href="#my" x="423" y="221.8"/>
<use href="#my" x="424" y="221.6"/>
<use href="#my" x="425" y="221.6"/>
<use href="#my" x="426" y="221.5"/>
<use href="#my" x="427.1" y="221.8"/>
<use href="#my" x="428.1" y="221.5"/>
<use href="#my" x="429.1" y="221.5"/>
<use href="#my" x="430.1" y="221.6"/>
<use href="#my" x="431.1" y="221.5"/>
<use href="#my" x="432.2" y="221.6"/>
<use href="#my" x="433.2" y="221.5"/>
<use href="#my" x="434.2" y="221.5"/>
<use href="#my" x="435.2" y="221.5"/>
<use href="#my" x="436.2" y="221.5"/>
<use href="#my" x="437.3" y="221.6"/>
<use href="#my" x="438.3" y="221.5"/>
<use href="#my" x="439.3" y="221.9"/>
<use href="#my" x="440.3" y="221.8"/>
<use href="#my" x="441.3" y="221.5"/>
<use href="#my" x="442.4" y="221.6"/>
<use href="#my" x="443.4" y="221.6"/>
<use href="#my" x="444.4" y="221.6"/>
<use href="#my" x="445.4" y="221.5"/>
<use href="#my" x="446.4" y="221.9"/>
<use href="#my" x="447.5" y="221.9"/>
<use href="#my" x="448.5" y="221.7"/>
<use href="#my" x="449.5" y="221.7"/>
<use href="#my" x="450.5" y="221.5"/>
<use href="#my" x="451.5" y="221.5"/>
<use href="#my" x="452.6" y="221.6"/>
<use href="#my" x="453.6" y="221.6"/>
<use href="#my" x="454.6" y="221.9"/>
<use href="#my" x="455.6" y="221.5"/>
<use href="#my" x="456.6" y="221.5"/>
<use href="#my" x="457.7" y="221.9"/>
<use href="#my" x="458.7" y="221.7"/>
<use href="#my" x="459.7" y="221.5"/>
<use href="#my" x="460.7" y="221.7"/>
<use href="#my" x="461.7" y="221.5"/>
<use href="#my" x="462.8" y="221.7"/>
<use href="#my" x="463.8" y="221.9"/>
<use href="#my" x="464.8" y="221.9"/>
<use href="#my" x="465.8" y="221.8"/>
<use href="#my" x="466.8" y="221.6"/>
<use href="#my" x="467.9" y="221.6"/>
<use href="#my" x="468.9" y="221.5"/>
<use href="#my" x="469.9" y="221.8"/>
<use href="#my" x="470.9" y="221.7"/>
<use href="#my" x="471.9" y="221.8"/>
<use href="#my" x="473" y="221.6"/>
<use href="#my" x="474" y="221.6"/>
<use href="#my" x="475" y="221.9"/>
<use href="#my" x="476" y="221.9"/>
<use href="#my" x="477" y="221.9"/>
<use href="#my" x="478.1" y="221.9"/>
<use href="#my" x="479.1" y="221.9"/>
<use href="#my" x="480.1" y="221.8"/>
<use href="#my" x="481.1" y="221.6"/>
<use href="#my" x="482.1" y="221.7"/>
<use href="#my" x="483.2" y="221.6"/>
<use href="#my" x="484.2" y="221.5"/>
<use href="#my" x="485.2" y="221.5"/>
<use href="#my" x="486.2" y="221.6"/>
<use href="#my" x="487.2" y="221.6"/>
<use href="#my" x="488.3" y="221.8"/>
<use href="#my" x="489.3" y="221.9"/>
<use href="#my" x="490.3" y="221.7"/>
<use href="#my" x="491.3" y="221.9"/>
<use href="#my" x="492.3" y="221.9"/>
<use href="#my" x="493.4" y="221.9"/>
<use href="#my" x="494.4" y="221.6"/>
<use href="#my" x="495.4" y="221.6"/>
<use href="#my" x="496.4" y="221.6"/>
<use href="#my" x="497.4" y="221.5"/>
<use href="#my" x="498.5" y="221.6"/>
<use href="#my" x="499.5" y="221.8"/>
<use href="#my" x="500.5" y="221.9"/>
<use href="#my" x="501.5" y="221.9"/>
<use href="#my" x="502.5" y="221.7"/>
<use href="#my" x="503.6" y="221.8"/>
<use href="#my" x="504.6" y="221.8"/>
<use href="#mo" x="301.6" y="226.4"/>
<use href="#mo" x="302.6" y="226"/>
<use href="#mo" x="303.6" y="225.4"/>
<use href="#mo" x="304.7" y="225.1"/>
<use href="#mo" x="305.7" y="225"/>
<use href="#mo" x="306.7" y="224.8"/>
<use href="#mo" x="307.7" y="224.6"/>
<use href="#mo" x="308.7" y="224.8"/>
<use href="#mo" x="309.8" y="224.5"/>
<use href="#mo" x="310.8" y="224.7"/>
<use href="#mo" x="311.8" y="224.6"/>
<use href="#mo" x="312.8" y="224.3"/>
<use href="#mo" x="313.8" y="224.3"/>
<use href="#mo" x="314.9" y="224.4"/>
<use href="#mo" x="315.9" y="224.3"/>
<use href="#mo" x="316.9" y="224"/>
<use href="#mo" x="317.9" y="223.9"/>
<use href="#mo" x="318.9" y="223.8"/>
<use href="#mo" x="320" y="224.1"/>
<use href="#mo" x="321" y="223.9"/>
<use href="#mo" x="322" y="223.6"/>
<use href="#mo" x="323" y="223.8"/>
<use href="#mo" x="324" y="223.8"/>
<use href="#mo" x="325.1" y="223.6"/>
<use href="#mo" x="326.1" y="223.4"/>
<use href="#mo" x="327.1" y="223.4"/>
<use href="#mo" x="328.1" y="223.2"/>
<use href="#mo" x="329.1" y="223.1"/>
<use href="#mo" x="330.2" y="223.4"/>
<use href="#mo" x="331.2" y="223.3"/>
<use href="#mo" x="332.2" y="223.2"/>
<use href="#mo" x="333.2" y="223.4"/>
<use href="#mo" x="334.2" y="223.2"/>
<use href="#mo" x="335.3" y="223.3"/>
<use href="#mo" x="336.3" y="223.3"/>
<use href="#mo" x="337.3" y="223.1"/>
<use href="#mo" x="338.3" y="223.1"/>
<use href="#mo" x="339.3" y="223.1"/>
<use href="#mo" x="340.4" y="223.1"/>
<use href="#mo" x="341.4" y="223.2"/>
<use href="#mo" x="342.4" y="223.1"/>
<use href="#mo" x="343.4" y="223.1"/>
<use href="#mo" x="344.4" y="223"/>
<use href="#mo" x="345.5" y="223.3"/>
<use href="#mo" x="346.5" y="223.1"/>
<use href="#mo" x="347.5" y="223.2"/>
<use href="#mo" x="348.5" y="223.2"/>
<use href="#mo" x="349.5" y="223.3"/>
<use href="#mo" x="350.6" y="223.1"/>
<use href="#mo" x="351.6" y="223.3"/>
<use href="#mo" x="352.6" y="223.2"/>
<use href="#mo" x="353.6" y="223.2"/>
<use href="#mo" x="354.6" y="223.2"/>
<use href="#mo" x="355.7" y="223"/>
<use href="#mo" x="356.7" y="223.1"/>
<use href="#mo" x="357.7" y="223"/>
<use href="#mo" x="358.7" y="223"/>
<use href="#mo" x="359.7" y="223.3"/>
<use href="#mo" x="360.8" y="223"/>
<use href="#mo" x="361.8" y="223.1"/>
<use href="#mo" x="362.8" y="223.2"/>
<use href="#mo" x="363.8" y="223.2"/>
<use href="#mo" x="364.8" y="223.1"/>
<use href="#mo" x="365.9" y="223.1"/>
<use href="#mo" x="366.9" y="223.2"/>
<use href="#mo" x="367.9" y="223.2"/>
<use href="#mo" x="368.9" y="223"/>
<use href="#mo" x="369.9" y="223.2"/>
<use href="#mo" x="371" y="223"/>
<use href="#mo" x="372" y="223"/>
<use href="#mo" x="373" y="223.2"/>
<use href="#mo" x="374" y="223.1"/>
<use href="#mo" x="375" y="223.1"/>
<use href="#mo" x="376.1" y="223.2"/>
<use href="#mo" x="377.1" y="223.3"/>
<use href="#mo" x="378.1" y="223.1"/>
<use href="#mo" x="379.1" y="223.2"/>
<use href="#mo" x="380.1" y="223.1"/>
<use href="#mo" x="381.2" y="223.1"/>
<use href="#mo" x="382.2" y="223.2"/>
<use href="#mo" x="383.2" y="223.1"/>
<use href="#mo" x="384.2" y="223.1"/>
<use href="#mo" x="385.2" y="223.1"/>
<use href="#mo" x="386.3" y="223.3"/>
<use href="#mo" x="387.3" y="223.2"/>
<use href="#mo" x="388.3" y="223.3"/>
<use href="#mo" x="389.3" y="223.3"/>
<use href="#mo" x="390.3" y="223"/>
<use href="#mo" x="391.4" y="223.1"/>
<use href="#mo" x="392.4" y="223.3"/>
<use href="#mo" x="393.4" y="223.2"/>
<use href="#mo" x="394.4" y="222.9"/>
<use href="#mo" x="395.4" y="222.9"/>
<use href="#mo" x="396.5" y="223.1"/>
<use href="#mo" x="397.5" y="222.9"/>
<use href="#mo" x="398.5" y="223"/>
<use href="#mo" x="399.5" y="222.9"/>
<use href="#mo" x="400.5" y="223.1"/>
<use href="#mo" x="401.6" y="223.2"/>
<use href="#mo" x="402.6" y="223.2"/>
<use href="#mo" x="403.6" y="222.9"/>
<use href="#mo" x="404.6" y="223.2"/>
<use href="#mo" x="405.6" y="223.1"/>
<use href="#mo" x="406.7" y="222.9"/>
<use href="#mo" x="407.7" y="223.2"/>
<use href="#mo" x="408.7" y="223.3"/>
<use href="#mo" x="409.7" y="223"/>
<use href="#mo" x="410.7" y="223.2"/>
<use href="#mo" x="411.8" y="223"/>
<use href="#mo" x="412.8" y="223.1"/>
<use href="#mo" x="413.8" y="223.3"/>
<use href="#mo" x="414.8" y="223.2"/>
<use href="#mo" x="415.8" y="222.9"/>
<use href="#mo" x="416.9" y="223"/>
<use href="#mo" x="417.9" y="223.1"/>
<use href="#mo" x="418.9" y="223"/>
<use href="#mo" x="419.9" y="222.9"/>
<use href="#mo" x="420.9" y="223"/>
<use href="#mo" x="422" y="223.1"/>
<use href="#mo" x="423" y="222.8"/>
<use href="#mo" x="424" y="223.1"/>
<use href="#mo" x="425" y="223"/>
<use href="#mo" x="426" y="222.8"/>
<use href="#mo" x="427.1" y="223"/>
<use href="#mo" x="428.1" y="223.1"/>
<use href="#mo" x="429.1" y="223"/>
<use href="#mo" x="430.1" y="222.9"/>
<use href="#mo" x="431.1" y="223.2"/>
<use href="#mo" x="432.2" y="223.1"/>
<use href="#mo" x="433.2" y="223.2"/>
<use href="#mo" x="434.2" y="222.9"/>
<use href="#mo" x="435.2" y="222.9"/>
<use href="#mo" x="436.2" y="222.8"/>
<use href="#mo" x="437.3" y="223.1"/>
<use href="#mo" x="438.3" y="222.9"/>
<use href="#mo" x="439.3" y="222.9"/>
<use href="#mo" x="440.3" y="223"/>
<use href="#mo" x="441.3" y="223.2"/>
<use href="#mo" x="442.4" y="223.1"/>
<use href="#mo" x="443.4" y="222.9"/>
<use href="#mo" x="444.4" y="222.9"/>
<use href="#mo" x="445.4" y="223.2"/>
<use href="#mo" x="446.4" y="223"/>
<use href="#mo" x="447.5" y="223.1"/>
<use href="#mo" x="448.5" y="222.8"/>
<use href="#mo" x="449.5" y="222.8"/>
<use href="#mo" x="450.5" y="223.1"/>
<use href="#mo" x="451.5" y="223"/>
<use href="#mo" x="452.6" y="222.8"/>
<use href="#mo" x="453.6" y="223.2"/>
<use href="#mo" x="454.6" y="223"/>
<use href="#mo" x="455.6" y="223.1"/>
<use href="#mo" x="456.6" y="222.8"/>
<use href="#mo" x="457.7" y="223.1"/>
<use href="#mo" x="458.7" y="222.8"/>
<use href="#mo" x="459.7" y="223.1"/>
<use href="#mo" x="460.7" y="223"/>
<use href="#mo" x="461.7" y="222.9"/>
<use href="#mo" x="462.8" y="223"/>
<use href="#mo" x="463.8" y="223.1"/>
<use href="#mo" x="464.8" y="222.9"/>
<use href="#mo" x="465.8" y="222.8"/>
<use href="#mo" x="466.8" y="223"/>
<use href="#mo" x="467.9" y="222.9"/>
<use href="#mo" x="468.9" y="222.8"/>
<use href="#mo" x="469.9" y="222.8"/>
<use href="#mo" x="470.9" y="222.8"/>
<use href="#mo" x="471.9" y="222.8"/>
<use href="#mo" x="473" y="222.9"/>
<use href="#mo" x="474" y="222.9"/>
<use href="#mo" x="475" y="223.1"/>
<use href="#mo" x="476" y="222.9"/>
<use href="#mo" x="477" y="222.9"/>
<use href="#mo" x="478.1" y="222.8"/>
<use href="#mo" x="479.1" y="222.9"/>
<use href="#mo" x="480.1" y="222.7"/>
<use href="#mo" x="481.1" y="222.8"/>
<use href="#mo" x="482.1" y="222.7"/>
<use href="#mo" x="483.2" y="223"/>
<use href="#mo" x="484.2" y="223"/>
<use href="#mo" x="485.2" y="222.8"/>
<use href="#mo" x="486.2" y="222.9"/>
<use href="#mo" x="487.2" y="223.1"/>
<use href="#mo" x="488.3" y="222.8"/>
<use href="#mo" x="489.3" y="223.1"/>
<use href="#mo" x="490.3" y="222.9"/>
<use href="#mo" x="491.3" y="222.9"/>
<use href="#mo" x="492.3" y="223.1"/>
<use href="#mo" x="493.4" y="222.9"/>
<use href="#mo" x="494.4" y="222.9"/>
<use href="#mo" x="495.4" y="223"/>
<use href="#mo" x="496.4" y="223.1"/>
<use href="#mo" x="497.4" y="222.9"/>
<use href="#mo" x="498.5" y="223"/>
<use href="#mo" x="499.5" y="223"/>
<use href="#mo" x="500.5" y="223"/>
<use href="#mo" x="501.5" y="222.9"/>
<use href="#mo" x="502.5" y="222.8"/>
<use href="#mo" x="503.6" y="222.7"/>
<use href="#mo" x="504.6" y="222.8"/>
<use href="#mc" x="301.6" y="224.7"/>
<use href="#mc" x="302.6" y="225.3"/>
<use href="#mc" x="303.6" y="224.8"/>
<use href="#mc" x="304.7" y="224.6"/>
<use href="#mc" x="305.7" y="224.5"/>
<use href="#mc" x="306.7" y="225.1"/>
<use href="#mc" x="307.7" y="225.1"/>
<use href="#mc" x="308.7" y="224.8"/>
<use href="#mc" x="309.8" y="224.4"/>
<use href="#mc" x="310.8" y="224.3"/>
<use href="#mc" x="311.8" y="224.2"/>
<use href="#mc" x="312.8" y="224.3"/>
<use href="#mc" x="313.8" y="224"/>
<use href="#mc" x="314.9" y="224.2"/>
<use href="#mc" x="315.9" y="223.9"/>
<use href="#mc" x="316.9" y="224.6"/>
<use href="#mc" x="317.9" y="224.5"/>
<use href="#mc" x="318.9" y="224"/>
<use href="#mc" x="320" y="223.6"/>
<use href="#mc" x="321" y="224.3"/>
<use href="#mc" x="322" y="223.6"/>
<use href="#mc" x="323" y="223.5"/>
<use href="#mc" x="324" y="223.1"/>
<use href="#mc" x="325.1" y="223.4"/>
<use href="#mc" x="326.1" y="223.4"/>
<use href="#mc" x="327.1" y="223.4"/>
<use href="#mc" x="328.1" y="223"/>
<use href="#mc" x="329.1" y="223.3"/>
<use href="#mc" x="330.2" y="222.7"/>
<use href="#mc" x="331.2" y="223"/>
<use href="#mc" x="332.2" y="222.8"/>
<use href="#mc" x="333.2" y="223.1"/>
<use href="#mc" x="334.2" y="222.7"/>
<use href="#mc" x="335.3" y="222.7"/>
<use href="#mc" x="336.3" y="223"/>
<use href="#mc" x="337.3" y="222.9"/>
<use href="#mc" x="338.3" y="223.3"/>
<use href="#mc" x="339.3" y="223.2"/>
<use href="#mc" x="340.4" y="223.4"/>
<use href="#mc" x="341.4" y="223.3"/>
<use href="#mc" x="342.4" y="223.4"/>
<use href="#mc" x="343.4" y="223.5"/>
<use href="#mc" x="344.4" y="223.1"/>
<use href="#mc" x="345.5" y="223"/>
<use href="#mc" x="346.5" y="223.6"/>
<use href="#mc" x="347.5" y="222.8"/>
<use href="#mc" x="348.5" y="223.4"/>
<use href="#mc" x="349.5" y="223.3"/>
<use href="#mc" x="350.6" y="222.7"/>
<use href="#mc" x="351.6" y="223.5"/>
<use href="#mc" x="352.6" y="223.5"/>
<use href="#mc" x="353.6" y="223.3"/>
<use href="#mc" x="354.6" y="223.4"/>
<use href="#mc" x="355.7" y="223.5"/>
<use href="#mc" x="356.7" y="222.8"/>
<use href="#mc" x="357.7" y="223.2"/>
<use href="#mc" x="358.7" y="223.1"/>
<use href="#mc" x="359.7" y="223.5"/>
<use href="#mc" x="360.8" y="223.4"/>
<use href="#mc" x="361.8" y="223.5"/>
<use href="#mc" x="362.8" y="223.2"/>
<use href="#mc" x="363.8" y="223.5"/>
<use href="#mc" x="364.8" y="223.3"/>
<use href="#mc" x="365.9" y="223.3"/>
<use href="#mc" x="366.9" y="222.8"/>
<use href="#mc" x="367.9" y="222.6"/>
<use href="#mc" x="368.9" y="222.7"/>
<use href="#mc" x="369.9" y="223"/>
<use href="#mc" x="371" y="222.7"/>
<use href="#mc" x="372" y="223.4"/>
<use href="#mc" x="373" y="223.2"/>
<use href="#mc" x="374" y="223.2"/>
<use href="#mc" x="375" y="223.2"/>
<use href="#mc" x="376.1" y="223.3"/>
<use href="#mc" x="377.1" y="223.1"/>
<use href="#mc" x="378.1" y="222.6"/>
<use href="#mc" x="379.1" y="223.4"/>
<use href="#mc" x="380.1" y="223.3"/>
<use href="#mc" x="381.2" y="223.1"/>
<use href="#mc" x="382.2" y="223.1"/>
<use href="#mc" x="383.2" y="223.2"/>
<use href="#mc" x="384.2" y="222.6"/>
<use href="#mc" x="385.2" y="223.3"/>
<use href="#mc" x="386.3" y="222.8"/>
<use href="#mc" x="387.3" y="222.6"/>
<use href="#mc" x="388.3" y="222.8"/>
<use href="#mc" x="389.3" y="223.3"/>
<use href="#mc" x="390.3" y="222.8"/>
<use href="#mc" x="391.4" y="223.3"/>
<use href="#mc" x="392.4" y="223.5"/>
<use href="#mc" x="393.4" y="223"/>
<use href="#mc" x="394.4" y="222.9"/>
<use href="#mc" x="395.4" y="223"/>
<use href="#mc" x="396.5" y="223.2"/>
<use href="#mc" x="397.5" y="223.3"/>
<use href="#mc" x="398.5" y="223.2"/>
<use href="#mc" x="399.5" y="223.2"/>
<use href="#mc" x="400.5" y="222.6"/>
<use href="#mc" x="401.6" y="222.7"/>
<use href="#mc" x="402.6" y="222.8"/>
<use href="#mc" x="403.6" y="223.3"/>
<use href="#mc" x="404.6" y="222.8"/>
<use href="#mc" x="405.6" y="223.1"/>
<use href="#mc" x="406.7" y="222.5"/>
<use href="#mc" x="407.7" y="222.6"/>
<use href="#mc" x="408.7" y="222.8"/>
<use href="#mc" x="409.7" y="223.2"/>
<use href="#mc" x="410.7" y="223.2"/>
<use href="#mc" x="411.8" y="223.2"/>
<use href="#mc" x="412.8" y="222.8"/>
<use href="#mc" x="413.8" y="223"/>
<use href="#mc" x="414.8" y="223"/>
<use href="#mc" x="415.8" y="223"/>
<use href="#mc" x="416.9" y="222.6"/>
<use href="#mc" x="417.9" y="223.4"/>
<use href="#mc" x="418.9" y="222.7"/>
<use href="#mc" x="419.9" y="223.5"/>
<use href="#mc" x="420.9" y="223.4"/>
<use href="#mc" x="422" y="222.5"/>
<use href="#mc" x="423" y="222.9"/>
<use href="#mc" x="424" y="223.3"/>
<use href="#mc" x="425" y="223.5"/>
<use href="#mc" x="426" y="222.9"/>
<use href="#mc" x="427.1" y="222.7"/>
<use href="#mc" x="428.1" y="222.7"/>
<use href="#mc" x="429.1" y="223.4"/>
<use href="#mc" x="430.1" y="222.7"/>
<use href="#mc" x="431.1" y="223.1"/>
<use href="#mc" x="432.2" y="222.6"/>
<use href="#mc" x="433.2" y="223"/>
<use href="#mc" x="434.2" y="223.4"/>
<use href="#mc" x="435.2" y="222.6"/>
<use href="#mc" x="436.2" y="223.3"/>
<use href="#mc" x="437.3" y="223"/>
<use href="#mc" x="438.3" y="223.3"/>
<use href="#mc" x="439.3" y="223.2"/>
<use href="#mc" x="440.3" y="222.7"/>
<use href="#mc" x="441.3" y="223.3"/>
<use href="#mc" x="442.4" y="222.9"/>
<use href="#mc" x="443.4" y="222.5"/>
<use href="#mc" x="444.4" y="222.4"/>
<use href="#mc" x="445.4" y="222.9"/>
<use href="#mc" x="446.4" y="222.9"/>
<use href="#mc" x="447.5" y="222.7"/>
<use href="#mc" x="448.5" y="222.6"/>
<use href="#mc" x="449.5" y="222.8"/>
<use href="#mc" x="450.5" y="222.7"/>
<use href="#mc" x="451.5" y="223.3"/>
<use href="#mc" x="452.6" y="222.4"/>
<use href="#mc" x="453.6" y="223.2"/>
<use href="#mc" x="454.6" y="223.3"/>
<use href="#mc" x="455.6" y="222.5"/>
<use href="#mc" x="456.6" y="223.3"/>
<use href="#mc" x="457.7" y="223.1"/>
<use href="#mc" x="458.7" y="223.3"/>
<use href="#mc" x="459.7" y="222.7"/>
<use href="#mc" x="460.7" y="222.8"/>
<use href="#mc" x="461.7" y="222.8"/>
<use href="#mc" x="462.8" y="223.4"/>
<use href="#mc" x="463.8" y="223"/>
<use href="#mc" x="464.8" y="222.8"/>
<use href="#mc" x="465.8" y="222.8"/>
<use href="#mc" x="466.8" y="222.7"/>
<use href="#mc" x="467.9" y="222.4"/>
<use href="#mc" x="468.9" y="222.5"/>
<use href="#mc" x="469.9" y="223.2"/>
<use href="#mc" x="470.9" y="222.7"/>
<use href="#mc" x="471.9" y="223.3"/>
<use href="#mc" x="473" y="222.6"/>
<use href="#mc" x="474" y="222.6"/>
<use href="#mc" x="475" y="222.9"/>
<use href="#mc" x="476" y="222.6"/>
<use href="#mc" x="477" y="222.7"/>
<use href="#mc" x="478.1" y="223.3"/>
<use href="#mc" x="479.1" y="223.2"/>
<use href="#mc" x="480.1" y="223.2"/>
<use href="#mc" x="481.1" y="223"/>
<use href="#mc" x="482.1" y="223.3"/>
<use href="#mc" x="483.2" y="223.3"/>
<use href="#mc" x="484.2" y="222.9"/>
<use href="#mc" x="485.2" y="223.1"/>
<use href="#mc" x="486.2" y="222.4"/>
<use href="#mc" x="487.2" y="223.1"/>
<use href="#mc" x="488.3" y="222.8"/>
<use href="#mc" x="489.3" y="223.1"/>
<use href="#mc" x="490.3" y="223"/>
<use href="#mc" x="491.3" y="222.6"/>
<use href="#mc" x="492.3" y="222.4"/>
<use href="#mc" x="493.4" y="223.3"/>
<use href="#mc" x="494.4" y="222.5"/>
<use href="#mc" x="495.4" y="222.8"/>
<use href="#mc" x="496.4" y="222.7"/>
<use href="#mc" x="497.4" y="222.6"/>
<use href="#mc" x="498.5" y="223.1"/>
<use href="#mc" x="499.5" y="223.3"/>
<use href="#mc" x="500.5" y="222.6"/>
<use href="#mc" x="501.5" y="223"/>
<use href="#mc" x="502.5" y="222.6"/>
<use href="#mc" x="503.6" y="222.9"/>
<use href="#mc" x="504.6" y="222.7"/>
<use href="#mo" x="301.6" y="252.7"/>
<use href="#mo" x="302.6" y="252.7"/>
<use href="#mo" x="303.6" y="252.7"/>
<use href="#mo" x="304.7" y="253.4"/>
<use href="#mo" x="305.7" y="253"/>
<use href="#mo" x="306.7" y="252.8"/>
<use href="#mo" x="307.7" y="253.5"/>
<use href="#mo" x="308.7" y="253.6"/>
<use href="#mo" x="309.8" y="253"/>
<use href="#mo" x="310.8" y="252.7"/>
<use href="#mo" x="311.8" y="252.8"/>
<use href="#mo" x="312.8" y="252.7"/>
<use href="#mo" x="313.8" y="252.9"/>
<use href="#mo" x="314.9" y="252.7"/>
<use href="#mo" x="315.9" y="252.9"/>
<use href="#mo" x="316.9" y="252.9"/>
<use href="#mo" x="317.9" y="253.2"/>
<use href="#mo" x="318.9" y="253.5"/>
<use href="#mo" x="320" y="253.4"/>
<use href="#mo" x="321" y="253.1"/>
<use href="#mo" x="322" y="253.1"/>
<use href="#mo" x="323" y="253.2"/>
<use href="#mo" x="324" y="253.1"/>
<use href="#mo" x="325.1" y="253"/>
<use href="#mo" x="326.1" y="252.8"/>
<use href="#mo" x="327.1" y="253"/>
<use href="#mo" x="328.1" y="253.7"/>
<use href="#mo" x="329.1" y="252.8"/>
<use href="#mo" x="330.2" y="253.2"/>
<use href="#mo" x="331.2" y="253.4"/>
<use href="#mo" x="332.2" y="253.6"/>
<use href="#mo" x="333.2" y="253"/>
<use href="#mo" x="334.2" y="253"/>
<use href="#mo" x="335.3" y="253"/>
<use href="#mo" x="336.3" y="253.2"/>
<use href="#mo" x="337.3" y="253.2"/>
<use href="#mo" x="338.3" y="253.7"/>
<use href="#mo" x="339.3" y="253.6"/>
<use href="#mo" x="340.4" y="253.7"/>
<use href="#mo" x="341.4" y="252.8"/>
<use href="#mo" x="342.4" y="252.8"/>
<use href="#mo" x="343.4" y="253.5"/>
<use href="#mo" x="344.4" y="253.7"/>
<use href="#mo" x="345.5" y="253.3"/>
<use href="#mo" x="346.5" y="253.4"/>
<use href="#mo" x="347.5" y="252.9"/>
<use href="#mo" x="348.5" y="253.3"/>
<use href="#mo" x="349.5" y="253.8"/>
<use href="#mo" x="350.6" y="253.7"/>
<use href="#mo" x="351.6" y="253.7"/>
<use href="#mo" x="352.6" y="253.9"/>
<use href="#mo" x="353.6" y="253.1"/>
<use href="#mo" x="354.6" y="253"/>
<use href="#mo" x="355.7" y="253.1"/>
<use href="#mo" x="356.7" y="253.4"/>
<use href="#mo" x="357.7" y="253.6"/>
<use href="#mo" x="358.7" y="253.9"/>
<use href="#mo" x="359.7" y="253.7"/>
<use href="#mo" x="360.8" y="253.6"/>
<use href="#mo" x="361.8" y="253.7"/>
<use href="#mo" x="362.8" y="253.4"/>
<use href="#mo" x="363.8" y="253.5"/>
<use href="#mo" x="364.8" y="253"/>
<use href="#mo" x="365.9" y="253.8"/>
<use href="#mo" x="366.9" y="253.2"/>
<use href="#mo" x="367.9" y="253.9"/>
<use href="#mo" x="368.9" y="253.7"/>
<use href="#mo" x="369.9" y="253.3"/>
<use href="#mo" x="371" y="253.2"/>
<use href="#mo" x="372" y="253.3"/>
<use href="#mo" x="373" y="253.7"/>
<use href="#mo" x="374" y="253.8"/>
<use href="#mo" x="375" y="253.2"/>
<use href="#mo" x="376.1" y="253.1"/>
<use href="#mo" x="377.1" y="253.6"/>
<use href="#mo" x="378.1" y="253.7"/>
<use href="#mo" x="379.1" y="253.5"/>
<use href="#mo" x="380.1" y="253.3"/>
<use href="#mo" x="381.2" y="253.7"/>
<use href="#mo" x="382.2" y="253.2"/>
<use href="#mo" x="383.2" y="253.5"/>
<use href="#mo" x="384.2" y="253.7"/>
<use href="#mo" x="385.2" y="254.2"/>
<use href="#mo" x="386.3" y="253.9"/>
<use href="#mo" x="387.3" y="254.2"/>
<use href="#mo" x="388.3" y="253.8"/>
<use href="#mo" x="389.3" y="253.6"/>
<use href="#mo" x="390.3" y="253.7"/>
<use href="#mo" x="391.4" y="254.4"/>
<use href="#mo" x="392.4" y="254.2"/>
<use href="#mo" x="393.4" y="253.8"/>
<use href="#mo" x="394.4" y="253.6"/>
<use href="#mo" x="395.4" y="254.1"/>
<use href="#mo" x="396.5" y="254.3"/>
<use href="#mo" x="397.5" y="254.1"/>
<use href="#mo" x="398.5" y="253.9"/>
<use href="#mo" x="399.5" y="254.4"/>
<use href="#mo" x="400.5" y="254.7"/>
<use href="#mo" x="401.6" y="254"/>
<use href="#mo" x="402.6" y="253.8"/>
<use href="#mo" x="403.6" y="254.2"/>
<use href="#mo" x="404.6" y="254.3"/>
<use href="#mo" x="405.6" y="254.6"/>
<use href="#mo" x="406.7" y="254.1"/>
<use href="#mo" x="407.7" y="254.8"/>
<use href="#mo" x="408.7" y="254.7"/>
<use href="#mo" x="409.7" y="254.5"/>
<use href="#mo" x="410.7" y="254.3"/>
<use href="#mo" x="411.8" y="255.1"/>
<use href="#mo" x="412.8" y="254.4"/>
<use href="#mo" x="413.8" y="255"/>
<use href="#mo" x="414.8" y="254.4"/>
<use href="#mo" x="415.8" y="254.4"/>
<use href="#mo" x="416.9" y="255"/>
<use href="#mo" x="417.9" y="254.6"/>
<use href="#mo" x="418.9" y="255.3"/>
<use href="#mo" x="419.9" y="254.8"/>
<use href="#mo" x="420.9" y="254.6"/>
<use href="#mo" x="422" y="254.6"/>
<use href="#mo" x="423" y="254.8"/>
<use href="#mo" x="424" y="255.1"/>
<use href="#mo" x="425" y="255.4"/>
<use href="#mo" x="426" y="254.7"/>
<use href="#mo" x="427.1" y="255"/>
<use href="#mo" x="428.1" y="254.8"/>
<use href="#mo" x="429.1" y="255.6"/>
<use href="#mo" x="430.1" y="254.8"/>
<use href="#mo" x="431.1" y="254.7"/>
<use href="#mo" x="432.2" y="254.8"/>
<use href="#mo" x="433.2" y="255.1"/>
<use href="#mo" x="434.2" y="255.7"/>
<use href="#mo" x="435.2" y="255.7"/>
<use href="#mo" x="436.2" y="255.6"/>
<use href="#mo" x="437.3" y="255.9"/>
<use href="#mo" x="438.3" y="255.8"/>
<use href="#mo" x="439.3" y="255.3"/>
<use href="#mo" x="440.3" y="255.2"/>
<use href="#mo" x="441.3" y="255.9"/>
<use href="#mo" x="442.4" y="255.8"/>
<use href="#mo" x="443.4" y="255.1"/>
<use href="#mo" x="444.4" y="255.8"/>
<use href="#mo" x="445.4" y="255.5"/>
<use href="#mo" x="446.4" y="255.5"/>
<use href="#mo" x="447.5" y="255.5"/>
<use href="#mo" x="448.5" y="255.4"/>
<use href="#mo" x="449.5" y="255.3"/>
<use href="#mo" x="450.5" y="255.6"/>
<use href="#mo" x="451.5" y="255.7"/>
<use href="#mo" x="452.6" y="256.5"/>
<use href="#mo" x="453.6" y="255.8"/>
<use href="#mo" x="454.6" y="256.8"/>
<use href="#mo" x="455.6" y="256.2"/>
<use href="#mo" x="456.6" y="256.5"/>
<use href="#mo" x="457.7" y="257.1"/>
<use href="#mo" x="458.7" y="257.2"/>
<use href="#mo" x="459.7" y="257"/>
<use href="#mo" x="460.7" y="256.7"/>
<use href="#mo" x="461.7" y="257.3"/>
<use href="#mo" x="462.8" y="257.3"/>
<use href="#mo" x="463.8" y="258"/>
<use href="#mo" x="464.8" y="257.5"/>
<use href="#mo" x="465.8" y="257.8"/>
<use href="#mo" x="466.8" y="258.4"/>
<use href="#mo" x="467.9" y="257.7"/>
<use href="#mo" x="468.9" y="258.3"/>
<use href="#mo" x="469.9" y="258.8"/>
<use href="#mo" x="470.9" y="258.9"/>
<use href="#mo" x="471.9" y="258.2"/>
<use href="#mo" x="473" y="258.3"/>
<use href="#mo" x="474" y="258.5"/>
<use href="#mo" x="475" y="259.4"/>
<use href="#mo" x="476" y="258.9"/>
<use href="#mo" x="477" y="259.5"/>
<use href="#mo" x="478.1" y="259.7"/>
<use href="#mo" x="479.1" y="259.2"/>
<use href="#mo" x="480.1" y="259.3"/>
<use href="#mo" x="481.1" y="260.1"/>
<use href="#mo" x="482.1" y="259.8"/>
<use href="#mo" x="483.2" y="259.6"/>
<use href="#mo" x="484.2" y="260.1"/>
<use href="#mo" x="485.2" y="259.8"/>
<use href="#mo" x="486.2" y="259.9"/>
<use href="#mo" x="487.2" y="259.7"/>
<use href="#mo" x="488.3" y="260.6"/>
<use href="#mo" x="489.3" y="260.8"/>
<use href="#mo" x="490.3" y="260.7"/>
<use href="#mo" x="491.3" y="261.1"/>
<use href="#mo" x="492.3" y="260.3"/>
<use href="#mo" x="493.4" y="260.6"/>
<use href="#mo" x="494.4" y="260.9"/>
<use href="#mo" x="495.4" y="261.5"/>
<use href="#mo" x="496.4" y="261.6"/>
<use href="#mo" x="497.4" y="261.1"/>
<use href="#mo" x="498.5" y="261.1"/>
<use href="#mo" x="499.5" y="261.4"/>
<use href="#mo" x="500.5" y="261.5"/>
<use href="#mo" x="501.5" y="262.1"/>
<use href="#mo" x="502.5" y="261.4"/>
<use href="#mo" x="503.6" y="262.2"/>
<use href="#mo" x="504.6" y="262.2"/>
<use href="#my" x="301.6" y="245.6"/>
<use href="#my" x="302.6" y="245.6"/>
<use href="#my" x="303.6" y="245.5"/>
<use href="#my" x="304.7" y="245.2"/>
<use href="#my" x="305.7" y="245.3"/>
<use href="#my" x="306.7" y="245.3"/>
<use href="#my" x="307.7" y="245.8"/>
<use href="#my" x="308.7" y="245.1"/>
<use href="#my" x="309.8" y="245.2"/>
<use href="#my" x="310.8" y="245.8"/>
<use href="#my" x="311.8" y="245.3"/>
<use href="#my" x="312.8" y="245.2"/>
<use href="#my" x="313.8" y="245.2"/>
<use href="#my" x="314.9" y="245.7"/>
<use href="#my" x="315.9" y="245.5"/>
<use href="#my" x="316.9" y="246.2"/>
<use href="#my" x="317.9" y="246.2"/>
<use href="#my" x="318.9" y="246.3"/>
<use href="#my" x="320" y="245.6"/>
<use href="#my" x="321" y="245.4"/>
<use href="#my" x="322" y="245.5"/>
<use href="#my" x="323" y="245.9"/>
<use href="#my" x="324" y="246.2"/>
<use href="#my" x="325.1" y="245.9"/>
<use href="#my" x="326.1" y="245.7"/>
<use href="#my" x="327.1" y="245.9"/>
<use href="#my" x="328.1" y="246.2"/>
<use href="#my" x="329.1" y="246.3"/>
<use href="#my" x="330.2" y="246.4"/>
<use href="#my" x="331.2" y="246.5"/>
<use href="#my" x="332.2" y="246.3"/>
<use href="#my" x="333.2" y="245.8"/>
<use href="#my" x="334.2" y="246.6"/>
<use href="#my" x="335.3" y="246.1"/>
<use href="#my" x="336.3" y="246.4"/>
<use href="#my" x="337.3" y="246.2"/>
<use href="#my" x="338.3" y="246.6"/>
<use href="#my" x="339.3" y="246.1"/>
<use href="#my" x="340.4" y="246.1"/>
<use href="#my" x="341.4" y="246.2"/>
<use href="#my" x="342.4" y="246.1"/>
<use href="#my" x="343.4" y="246.9"/>
<use href="#my" x="344.4" y="246.6"/>
<use href="#my" x="345.5" y="246.4"/>
<use href="#my" x="346.5" y="246.5"/>
<use href="#my" x="347.5" y="247.1"/>
<use href="#my" x="348.5" y="246.6"/>
<use href="#my" x="349.5" y="246.4"/>
<use href="#my" x="350.6" y="247"/>
<use href="#my" x="351.6" y="246.9"/>
<use href="#my" x="352.6" y="247.2"/>
<use href="#my" x="353.6" y="246.4"/>
<use href="#my" x="354.6" y="246.8"/>
<use href="#my" x="355.7" y="247.1"/>
<use href="#my" x="356.7" y="247.2"/>
<use href="#my" x="357.7" y="247.3"/>
<use href="#my" x="358.7" y="246.5"/>
<use href="#my" x="359.7" y="246.7"/>
<use href="#my" x="360.8" y="246.6"/>
<use href="#my" x="361.8" y="246.7"/>
<use href="#my" x="362.8" y="247.5"/>
<use href="#my" x="363.8" y="247.1"/>
<use href="#my" x="364.8" y="247.5"/>
<use href="#my" x="365.9" y="247"/>
<use href="#my" x="366.9" y="247.5"/>
<use href="#my" x="367.9" y="247.1"/>
<use href="#my" x="368.9" y="247"/>
<use href="#my" x="369.9" y="247.5"/>
<use href="#my" x="371" y="247.7"/>
<use href="#my" x="372" y="246.9"/>
<use href="#my" x="373" y="247.4"/>
<use href="#my" x="374" y="247.5"/>
<use href="#my" x="375" y="247.1"/>
<use href="#my" x="376.1" y="247.3"/>
<use href="#my" x="377.1" y="247.1"/>
<use href="#my" x="378.1" y="247.2"/>
<use href="#my" x="379.1" y="247.2"/>
<use href="#my" x="380.1" y="247.6"/>
<use href="#my" x="381.2" y="247.7"/>
<use href="#my" x="382.2" y="247.3"/>
<use href="#my" x="383.2" y="247.1"/>
<use href="#my" x="384.2" y="247.5"/>
<use href="#my" x="385.2" y="247.8"/>
<use href="#my" x="386.3" y="247.4"/>
<use href="#my" x="387.3" y="247.5"/>
<use href="#my" x="388.3" y="247.4"/>
<use href="#my" x="389.3" y="248.1"/>
<use href="#my" x="390.3" y="247.8"/>
<use href="#my" x="391.4" y="247.4"/>
<use href="#my" x="392.4" y="247.5"/>
<use href="#my" x="393.4" y="247.8"/>
<use href="#my" x="394.4" y="248"/>
<use href="#my" x="395.4" y="248.1"/>
<use href="#my" x="396.5" y="247.6"/>
<use href="#my" x="397.5" y="247.7"/>
<use href="#my" x="398.5" y="248.2"/>
<use href="#my" x="399.5" y="248"/>
<use href="#my" x="400.5" y="247.9"/>
<use href="#my" x="401.6" y="247.9"/>
<use href="#my" x="402.6" y="248.6"/>
<use href="#my" x="403.6" y="248"/>
<use href="#my" x="404.6" y="248.3"/>
<use href="#my" x="405.6" y="248.1"/>
<use href="#my" x="406.7" y="248.2"/>
<use href="#my" x="407.7" y="248.7"/>
<use href="#my" x="408.7" y="248.8"/>
<use href="#my" x="409.7" y="248.2"/>
<use href="#my" x="410.7" y="248.1"/>
<use href="#my" x="411.8" y="248.6"/>
<use href="#my" x="412.8" y="248.1"/>
<use href="#my" x="413.8" y="248"/>
<use href="#my" x="414.8" y="248.9"/>
<use href="#my" x="415.8" y="248.4"/>
<use href="#my" x="416.9" y="248.9"/>
<use href="#my" x="417.9" y="248.5"/>
<use href="#my" x="418.9" y="249"/>
<use href="#my" x="419.9" y="248.6"/>
<use href="#my" x="420.9" y="248.3"/>
<use href="#my" x="422" y="248.2"/>
<use href="#my" x="423" y="248.8"/>
<use href="#my" x="424" y="248.9"/>
<use href="#my" x="425" y="249.2"/>
<use href="#my" x="426" y="248.4"/>
<use href="#my" x="427.1" y="249"/>
<use href="#my" x="428.1" y="248.7"/>
<use href="#my" x="429.1" y="248.9"/>
<use href="#my" x="430.1" y="248.6"/>
<use href="#my" x="431.1" y="248.7"/>
<use href="#my" x="432.2" y="249"/>
<use href="#my" x="433.2" y="249.4"/>
<use href="#my" x="434.2" y="248.6"/>
<use href="#my" x="435.2" y="249"/>
<use href="#my" x="436.2" y="249.4"/>
<use href="#my" x="437.3" y="249.6"/>
<use href="#my" x="438.3" y="248.8"/>
<use href="#my" x="439.3" y="248.8"/>
<use href="#my" x="440.3" y="249.6"/>
<use href="#my" x="441.3" y="249.7"/>
<use href="#my" x="442.4" y="249.2"/>
<use href="#my" x="443.4" y="248.8"/>
<use href="#my" x="444.4" y="249.7"/>
<use href="#my" x="445.4" y="249.2"/>
<use href="#my" x="446.4" y="249.8"/>
<use href="#my" x="447.5" y="249.5"/>
<use href="#my" x="448.5" y="249.8"/>
<use href="#my" x="449.5" y="249.1"/>
<use href="#my" x="450.5" y="249.8"/>
<use href="#my" x="451.5" y="249.2"/>
<use href="#my" x="452.6" y="249.4"/>
<use href="#my" x="453.6" y="249.9"/>
<use href="#my" x="454.6" y="249.9"/>
<use href="#my" x="455.6" y="249.3"/>
<use href="#my" x="456.6" y="249.4"/>
<use href="#my" x="457.7" y="249.6"/>
<use href="#my" x="458.7" y="249.7"/>
<use href="#my" x="459.7" y="249.6"/>
<use href="#my" x="460.7" y="249.4"/>
<use href="#my" x="461.7" y="249.5"/>
<use href="#my" x="462.8" y="250.1"/>
<use href="#my" x="463.8" y="250.3"/>
<use href="#my" x="464.8" y="249.4"/>
<use href="#my" x="465.8" y="250"/>
<use href="#my" x="466.8" y="250.2"/>
<use href="#my" x="467.9" y="249.5"/>
<use href="#my" x="468.9" y="250.3"/>
<use href="#my" x="469.9" y="249.6"/>
<use href="#my" x="470.9" y="250.2"/>
<use href="#my" x="471.9" y="250.1"/>
<use href="#my" x="473" y="250.2"/>
<use href="#my" x="474" y="249.9"/>
<use href="#my" x="475" y="250.1"/>
<use href="#my" x="476" y="250.3"/>
<use href="#my" x="477" y="250.2"/>
<use href="#my" x="478.1" y="250.4"/>
<use href="#my" x="479.1" y="250.2"/>
<use href="#my" x="480.1" y="250.3"/>
<use href="#my" x="481.1" y="249.9"/>
<use href="#my" x="482.1" y="250.5"/>
<use href="#my" x="483.2" y="250.4"/>
<use href="#my" x="484.2" y="250.2"/>
<use href="#my" x="485.2" y="250.7"/>
<use href="#my" x="486.2" y="250.8"/>
<use href="#my" x="487.2" y="250.5"/>
<use href="#my" x="488.3" y="250.2"/>
<use href="#my" x="489.3" y="250.5"/>
<use href="#my" x="490.3" y="250.2"/>
<use href="#my" x="491.3" y="250.3"/>
<use href="#my" x="492.3" y="250.6"/>
<use href="#my" x="493.4" y="250.3"/>
<use href="#my" x="494.4" y="250.7"/>
<use href="#my" x="495.4" y="250.8"/>
<use href="#my" x="496.4" y="250.3"/>
<use href="#my" x="497.4" y="250.9"/>
<use href="#my" x="498.5" y="250.4"/>
<use href="#my" x="499.5" y="251.1"/>
<use href="#my" x="500.5" y="251.2"/>
<use href="#my" x="501.5" y="250.9"/>
<use href="#my" x="502.5" y="250.5"/>
<use href="#my" x="503.6" y="251"/>
<use href="#my" x="504.6" y="250.9"/>
<use href="#mb" x="301.6" y="239.8"/>
<use href="#mb" x="302.6" y="239"/>
<use href="#mb" x="303.6" y="239.7"/>
<use href="#mb" x="304.7" y="239.8"/>
<use href="#mb" x="305.7" y="239.6"/>
<use href="#mb" x="306.7" y="239.7"/>
<use href="#mb" x="307.7" y="239.1"/>
<use href="#mb" x="308.7" y="239.9"/>
<use href="#mb" x="309.8" y="239.4"/>
<use href="#mb" x="310.8" y="239.9"/>
<use href="#mb" x="311.8" y="239.9"/>
<use href="#mb" x="312.8" y="239.1"/>
<use href="#mb" x="313.8" y="239.8"/>
<use href="#mb" x="314.9" y="239.9"/>
<use href="#mb" x="315.9" y="239.1"/>
<use href="#mb" x="316.9" y="239.4"/>
<use href="#mb" x="317.9" y="239.8"/>
<use href="#mb" x="318.9" y="239.2"/>
<use href="#mb" x="320" y="239.9"/>
<use href="#mb" x="321" y="239.3"/>
<use href="#mb" x="322" y="239.9"/>
<use href="#mb" x="323" y="239.2"/>
<use href="#mb" x="324" y="239.6"/>
<use href="#mb" x="325.1" y="240"/>
<use href="#mb" x="326.1" y="239.3"/>
<use href="#mb" x="327.1" y="239.4"/>
<use href="#mb" x="328.1" y="239.7"/>
<use href="#mb" x="329.1" y="239.5"/>
<use href="#mb" x="330.2" y="239.2"/>
<use href="#mb" x="331.2" y="239.4"/>
<use href="#mb" x="332.2" y="239.4"/>
<use href="#mb" x="333.2" y="240.2"/>
<use href="#mb" x="334.2" y="239.9"/>
<use href="#mb" x="335.3" y="240.1"/>
<use href="#mb" x="336.3" y="239.4"/>
<use href="#mb" x="337.3" y="240.1"/>
<use href="#mb" x="338.3" y="239.4"/>
<use href="#mb" x="339.3" y="239.8"/>
<use href="#mb" x="340.4" y="239.9"/>
<use href="#mb" x="341.4" y="239.7"/>
<use href="#mb" x="342.4" y="240.2"/>
<use href="#mb" x="343.4" y="239.9"/>
<use href="#mb" x="344.4" y="239.9"/>
<use href="#mb" x="345.5" y="240.3"/>
<use href="#mb" x="346.5" y="239.5"/>
<use href="#mb" x="347.5" y="240.4"/>
<use href="#mb" x="348.5" y="240"/>
<use href="#mb" x="349.5" y="239.8"/>
<use href="#mb" x="350.6" y="240.2"/>
<use href="#mb" x="351.6" y="239.7"/>
<use href="#mb" x="352.6" y="240.5"/>
<use href="#mb" x="353.6" y="240.1"/>
<use href="#mb" x="354.6" y="239.9"/>
<use href="#mb" x="355.7" y="240.3"/>
<use href="#mb" x="356.7" y="240"/>
<use href="#mb" x="357.7" y="239.7"/>
<use href="#mb" x="358.7" y="240.3"/>
<use href="#mb" x="359.7" y="239.6"/>
<use href="#mb" x="360.8" y="240.4"/>
<use href="#mb" x="361.8" y="239.8"/>
<use href="#mb" x="362.8" y="240.2"/>
<use href="#mb" x="363.8" y="240.6"/>
<use href="#mb" x="364.8" y="240.2"/>
<use href="#mb" x="365.9" y="240.3"/>
<use href="#mb" x="366.9" y="240"/>
<use href="#mb" x="367.9" y="239.7"/>
<use href="#mb" x="368.9" y="239.7"/>
<use href="#mb" x="369.9" y="239.8"/>
<use href="#mb" x="371" y="240.3"/>
<use href="#mb" x="372" y="240.2"/>
<use href="#mb" x="373" y="240.2"/>
<use href="#mb" x="374" y="240.6"/>
<use href="#mb" x="375" y="239.9"/>
<use href="#mb" x="376.1" y="240"/>
<use href="#mb" x="377.1" y="240.4"/>
<use href="#mb" x="378.1" y="239.8"/>
<use href="#mb" x="379.1" y="239.8"/>
<use href="#mb" x="380.1" y="240.2"/>
<use href="#mb" x="381.2" y="239.9"/>
<use href="#mb" x="382.2" y="240.2"/>
<use href="#mb" x="383.2" y="240.1"/>
<use href="#mb" x="384.2" y="240.5"/>
<use href="#mb" x="385.2" y="240.5"/>
<use href="#mb" x="386.3" y="240.1"/>
<use href="#mb" x="387.3" y="240.5"/>
<use href="#mb" x="388.3" y="240.4"/>
<use href="#mb" x="389.3" y="240.1"/>
<use href="#mb" x="390.3" y="240.9"/>
<use href="#mb" x="391.4" y="240.2"/>
<use href="#mb" x="392.4" y="240.1"/>
<use href="#mb" x="393.4" y="240.1"/>
<use href="#mb" x="394.4" y="240.7"/>
<use href="#mb" x="395.4" y="240.9"/>
<use href="#mb" x="396.5" y="240.8"/>
<use href="#mb" x="397.5" y="240.5"/>
<use href="#mb" x="398.5" y="240.3"/>
<use href="#mb" x="399.5" y="240.1"/>
<use href="#mb" x="400.5" y="240.7"/>
<use href="#mb" x="401.6" y="240.7"/>
<use href="#mb" x="402.6" y="240.5"/>
<use href="#mb" x="403.6" y="240.8"/>
<use href="#mb" x="404.6" y="240.6"/>
<use href="#mb" x="405.6" y="241.1"/>
<use href="#mb" x="406.7" y="240.9"/>
<use href="#mb" x="407.7" y="240.4"/>
<use href="#mb" x="408.7" y="241.1"/>
<use href="#mb" x="409.7" y="240.3"/>
<use href="#mb" x="410.7" y="240.8"/>
<use href="#mb" x="411.8" y="240.6"/>
<use href="#mb" x="412.8" y="240.5"/>
<use href="#mb" x="413.8" y="240.3"/>
<use href="#mb" x="414.8" y="241.1"/>
<use href="#mb" x="415.8" y="240.3"/>
<use href="#mb" x="416.9" y="240.9"/>
<use href="#mb" x="417.9" y="241.3"/>
<use href="#mb" x="418.9" y="240.5"/>
<use href="#mb" x="419.9" y="240.5"/>
<use href="#mb" x="420.9" y="241"/>
<use href="#mb" x="422" y="240.9"/>
<use href="#mb" x="423" y="241"/>
<use href="#mb" x="424" y="241.2"/>
<use href="#mb" x="425" y="240.6"/>
<use href="#mb" x="426" y="240.7"/>
<use href="#mb" x="427.1" y="240.7"/>
<use href="#mb" x="428.1" y="240.5"/>
<use href="#mb" x="429.1" y="241.4"/>
<use href="#mb" x="430.1" y="241.3"/>
<use href="#mb" x="431.1" y="241.2"/>
<use href="#mb" x="432.2" y="240.5"/>
<use href="#mb" x="433.2" y="241.4"/>
<use href="#mb" x="434.2" y="241.3"/>
<use href="#mb" x="435.2" y="241"/>
<use href="#mb" x="436.2" y="241.3"/>
<use href="#mb" x="437.3" y="241"/>
<use href="#mb" x="438.3" y="240.8"/>
<use href="#mb" x="439.3" y="240.7"/>
<use href="#mb" x="440.3" y="240.8"/>
<use href="#mb" x="441.3" y="240.7"/>
<use href="#mb" x="442.4" y="241"/>
<use href="#mb" x="443.4" y="241.4"/>
<use href="#mb" x="444.4" y="241.4"/>
<use href="#mb" x="445.4" y="241.5"/>
<use href="#mb" x="446.4" y="241.4"/>
<use href="#mb" x="447.5" y="241"/>
<use href="#mb" x="448.5" y="241.3"/>
<use href="#mb" x="449.5" y="241.2"/>
<use href="#mb" x="450.5" y="241.5"/>
<use href="#mb" x="451.5" y="241.3"/>
<use href="#mb" x="452.6" y="241"/>
<use href="#mb" x="453.6" y="241.4"/>
<use href="#mb" x="454.6" y="241.8"/>
<use href="#mb" x="455.6" y="241"/>
<use href="#mb" x="456.6" y="241.7"/>
<use href="#mb" x="457.7" y="240.9"/>
<use href="#mb" x="458.7" y="241.1"/>
<use href="#mb" x="459.7" y="241.1"/>
<use href="#mb" x="460.7" y="241.6"/>
<use href="#mb" x="461.7" y="241.8"/>
<use href="#mb" x="462.8" y="241.6"/>
<use href="#mb" x="463.8" y="241.2"/>
<use href="#mb" x="464.8" y="241.8"/>
<use href="#mb" x="465.8" y="241.3"/>
<use href="#mb" x="466.8" y="241.2"/>
<use href="#mb" x="467.9" y="241.9"/>
<use href="#mb" x="468.9" y="241.6"/>
<use href="#mb" x="469.9" y="241.7"/>
<use href="#mb" x="470.9" y="241.7"/>
<use href="#mb" x="471.9" y="242"/>
<use href="#mb" x="473" y="241.5"/>
<use href="#mb" x="474" y="241.9"/>
<use href="#mb" x="475" y="241.8"/>
<use href="#mb" x="476" y="241.9"/>
<use href="#mb" x="477" y="241.5"/>
<use href="#mb" x="478.1" y="241.8"/>
<use href="#mb" x="479.1" y="241.7"/>
<use href="#mb" x="480.1" y="241.4"/>
<use href="#mb" x="481.1" y="241.4"/>
<use href="#mb" x="482.1" y="241.8"/>
<use href="#mb" x="483.2" y="241.2"/>
<use href="#mb" x="484.2" y="242.1"/>
<use href="#mb" x="485.2" y="241.3"/>
<use href="#mb" x="486.2" y="241.2"/>
<use href="#mb" x="487.2" y="241.3"/>
<use href="#mb" x="488.3" y="242.2"/>
<use href="#mb" x="489.3" y="241.6"/>
<use href="#mb" x="490.3" y="241.4"/>
<use href="#mb" x="491.3" y="241.3"/>
<use href="#mb" x="492.3" y="241.3"/>
<use href="#mb" x="493.4" y="242"/>
<use href="#mb" x="494.4" y="241.9"/>
<use href="#mb" x="495.4" y="242"/>
<use href="#mb" x="496.4" y="242.1"/>
<use href="#mb" x="497.4" y="241.4"/>
<use href="#mb" x="498.5" y="242"/>
<use href="#mb" x="499.5" y="241.7"/>
<use href="#mb" x="500.5" y="242.2"/>
<use href="#mb" x="501.5" y="242.2"/>
<use href="#mb" x="502.5" y="242.3"/>
<use href="#mb" x="503.6" y="241.5"/>
<use href="#mb" x="504.6" y="242.3"/>
<rect x="301" y="197.5" width="204" height="144.1" fill="none" stroke="#141414" stroke-width="1.8"/>
<path d="M465 226V232.2H497" fill="none" stroke="#e23a3a" stroke-width="1.3" stroke-dasharray="2.2 1.6"/>
<path d="M503.5 232.2L496.5 229.2V235.2Z" fill="#e23a3a"/>
<use href="#mlo" x="418.5" y="297.7"/>
<text x="434.5" y="301.5" font-size="11" text-anchor="start" font-weight="bold">NFPP@C</text>
<use href="#mly" x="418.5" y="311.9"/>
<text x="434.5" y="315.7" font-size="11" text-anchor="start" font-weight="bold">NFPP/MX</text>
<use href="#mlb" x="418.5" y="325.4"/>
<text x="434.5" y="329.2" font-size="11" text-anchor="start" font-weight="bold">NFPP@MX</text>
<rect x="42" y="378" width="467" height="146.6" fill="none" stroke="#141414" stroke-width="1.8"/>
<path d="M42 524.6v2.5M135.4 524.6v2.5M228.8 524.6v2.5M322.2 524.6v2.5M415.6 524.6v2.5M509 524.6v2.5M88.7 524.6v1.6M182.1 524.6v1.6M275.5 524.6v1.6M368.9 524.6v1.6M462.3 524.6v1.6" stroke="#141414" stroke-width="1.5" fill="none"/>
<text x="42" y="537.9" font-size="12" text-anchor="middle" font-weight="bold">0</text>
<text x="135.4" y="537.9" font-size="12" text-anchor="middle" font-weight="bold">200</text>
<text x="228.8" y="537.9" font-size="12" text-anchor="middle" font-weight="bold">400</text>
<text x="322.2" y="537.9" font-size="12" text-anchor="middle" font-weight="bold">600</text>
<text x="415.6" y="537.9" font-size="12" text-anchor="middle" font-weight="bold">800</text>
<text x="509" y="537.9" font-size="12" text-anchor="middle" font-weight="bold">1000</text>
<path d="M42 524.6h-2.5M42 503.7h-2.5M42 482.7h-2.5M42 461.8h-2.5M42 440.9h-2.5M42 420h-2.5M42 399h-2.5M42 378.1h-2.5M42 514.1h-1.6M42 493.2h-1.6M42 472.3h-1.6M42 451.4h-1.6M42 430.4h-1.6M42 409.5h-1.6M42 388.6h-1.6" stroke="#141414" stroke-width="1.5" fill="none"/>
<text x="38.6" y="528.4" font-size="12" text-anchor="end" font-weight="bold">0</text>
<text x="38.6" y="507.5" font-size="12" text-anchor="end" font-weight="bold">20</text>
<text x="38.6" y="486.5" font-size="12" text-anchor="end" font-weight="bold">40</text>
<text x="38.6" y="465.6" font-size="12" text-anchor="end" font-weight="bold">60</text>
<text x="38.6" y="444.7" font-size="12" text-anchor="end" font-weight="bold">80</text>
<text x="38.6" y="423.8" font-size="12" text-anchor="end" font-weight="bold">100</text>
<text x="38.6" y="402.8" font-size="12" text-anchor="end" font-weight="bold">120</text>
<text x="38.6" y="381.9" font-size="12" text-anchor="end" font-weight="bold">140</text>
<path d="M509 524.6h2.5M509 500.2h2.5M509 475.7h2.5M509 451.3h2.5M509 426.9h2.5M509 402.4h2.5M509 378h2.5M509 512.4h1.6M509 487.9h1.6M509 463.5h1.6M509 439.1h1.6M509 414.6h1.6M509 390.2h1.6" stroke="#141414" stroke-width="1.5" fill="none"/>
<text x="511.5" y="528.4" font-size="12" text-anchor="start" font-weight="bold">0</text>
<text x="511.5" y="504" font-size="12" text-anchor="start" font-weight="bold">20</text>
<text x="511.5" y="479.5" font-size="12" text-anchor="start" font-weight="bold">40</text>
<text x="511.5" y="455.1" font-size="12" text-anchor="start" font-weight="bold">60</text>
<text x="511.5" y="430.7" font-size="12" text-anchor="start" font-weight="bold">80</text>
<text x="511.5" y="406.2" font-size="12" text-anchor="start" font-weight="bold">100</text>
<text x="511.5" y="381.8" font-size="12" text-anchor="start" font-weight="bold">120</text>
<text x="270.5" y="549.7" font-size="12.8" text-anchor="middle" font-weight="bold">Cycle number (n)</text>
<text x="16" y="451.3" font-size="13.1" text-anchor="middle" font-weight="bold" transform="rotate(-90 16 451.3)">Specific capacity (mAh g<tspan dy="-4.5" font-size="8">-1</tspan><tspan dy="4.5">)</tspan></text>
<text x="543" y="451" font-size="13.1" text-anchor="middle" font-weight="bold" transform="rotate(-90 543 451)">Coulombic efficiency (%)</text>
<text x="46.8" y="393.6" font-size="19" text-anchor="start" font-weight="normal">(e)</text>
<text x="90.5" y="503.6" font-size="11.2" text-anchor="start" font-weight="bold">Current rate:1C</text>
<use href="#mso" x="42.6" y="408.4"/>
<use href="#mso" x="43.5" y="407.8"/>
<use href="#mso" x="44.5" y="406.5"/>
<use href="#mso" x="45.4" y="405.9"/>
<use href="#mso" x="46.3" y="405.2"/>
<use href="#mso" x="47.3" y="404.6"/>
<use href="#mso" x="48.2" y="405.3"/>
<use href="#mso" x="49.1" y="405.2"/>
<use href="#mso" x="50.1" y="405.1"/>
<use href="#mso" x="51" y="405.2"/>
<use href="#mso" x="51.9" y="405.1"/>
<use href="#mso" x="52.9" y="404.8"/>
<use href="#mso" x="53.8" y="404.7"/>
<use href="#mso" x="54.7" y="404.7"/>
<use href="#mso" x="55.7" y="405.2"/>
<use href="#mso" x="56.6" y="404.7"/>
<use href="#mso" x="57.5" y="404.8"/>
<use href="#mso" x="58.5" y="404.9"/>
<use href="#mso" x="59.4" y="404.6"/>
<use href="#mso" x="60.3" y="404.8"/>
<use href="#mso" x="61.3" y="404.8"/>
<use href="#mso" x="62.2" y="405.1"/>
<use href="#mso" x="63.1" y="404.8"/>
<use href="#mso" x="64.1" y="404.8"/>
<use href="#mso" x="65" y="405.3"/>
<use href="#mso" x="66" y="404.9"/>
<use href="#mso" x="66.9" y="405.2"/>
<use href="#mso" x="67.8" y="405"/>
<use href="#mso" x="68.8" y="404.6"/>
<use href="#mso" x="69.7" y="404.9"/>
<use href="#mso" x="70.6" y="404.9"/>
<use href="#mso" x="71.6" y="405.1"/>
<use href="#mso" x="72.5" y="404.8"/>
<use href="#mso" x="73.4" y="405.1"/>
<use href="#mso" x="74.4" y="404.9"/>
<use href="#mso" x="75.3" y="404.7"/>
<use href="#mso" x="76.2" y="405.2"/>
<use href="#mso" x="77.2" y="404.6"/>
<use href="#mso" x="78.1" y="405.2"/>
<use href="#mso" x="79" y="404.6"/>
<use href="#mso" x="80" y="404.5"/>
<use href="#mso" x="80.9" y="404.7"/>
<use href="#mso" x="81.8" y="405.1"/>
<use href="#mso" x="82.8" y="405.3"/>
<use href="#mso" x="83.7" y="404.5"/>
<use href="#mso" x="84.6" y="404.9"/>
<use href="#mso" x="85.6" y="404.9"/>
<use href="#mso" x="86.5" y="405.1"/>
<use href="#mso" x="87.4" y="404.6"/>
<use href="#mso" x="88.4" y="404.9"/>
<use href="#mso" x="89.3" y="404.7"/>
<use href="#mso" x="90.2" y="405.1"/>
<use href="#mso" x="91.2" y="404.7"/>
<use href="#mso" x="92.1" y="405.2"/>
<use href="#mso" x="93" y="404.7"/>
<use href="#mso" x="94" y="404.6"/>
<use href="#mso" x="94.9" y="405"/>
<use href="#mso" x="95.8" y="404.9"/>
<use href="#mso" x="96.8" y="404.5"/>
<use href="#mso" x="97.7" y="405"/>
<use href="#mso" x="98.6" y="404.5"/>
<use href="#mso" x="99.6" y="405.1"/>
<use href="#mso" x="100.5" y="405"/>
<use href="#mso" x="101.4" y="405.1"/>
<use href="#mso" x="102.4" y="404.9"/>
<use href="#mso" x="103.3" y="404.7"/>
<use href="#mso" x="104.2" y="404.7"/>
<use href="#mso" x="105.2" y="404.7"/>
<use href="#mso" x="106.1" y="405.1"/>
<use href="#mso" x="107" y="404.5"/>
<use href="#mso" x="108" y="405.1"/>
<use href="#mso" x="108.9" y="404.4"/>
<use href="#mso" x="109.8" y="404.6"/>
<use href="#mso" x="110.8" y="404.6"/>
<use href="#mso" x="111.7" y="405.1"/>
<use href="#mso" x="112.7" y="404.8"/>
<use href="#mso" x="113.6" y="404.7"/>
<use href="#mso" x="114.5" y="405.1"/>
<use href="#mso" x="115.5" y="404.6"/>
<use href="#mso" x="116.4" y="404.8"/>
<use href="#mso" x="117.3" y="404.8"/>
<use href="#mso" x="118.3" y="405"/>
<use href="#mso" x="119.2" y="405"/>
<use href="#mso" x="120.1" y="404.9"/>
<use href="#mso" x="121.1" y="404.7"/>
<use href="#mso" x="122" y="404.6"/>
<use href="#mso" x="122.9" y="404.5"/>
<use href="#mso" x="123.9" y="405"/>
<use href="#mso" x="124.8" y="404.9"/>
<use href="#mso" x="125.7" y="405"/>
<use href="#mso" x="126.7" y="404.5"/>
<use href="#mso" x="127.6" y="404.7"/>
<use href="#mso" x="128.5" y="405"/>
<use href="#mso" x="129.5" y="404.8"/>
<use href="#mso" x="130.4" y="404.4"/>
<use href="#mso" x="131.3" y="404.7"/>
<use href="#mso" x="132.3" y="405"/>
<use href="#mso" x="133.2" y="404.5"/>
<use href="#mso" x="134.1" y="404.5"/>
<use href="#mso" x="135.1" y="404.6"/>
<use href="#mso" x="136" y="404.9"/>
<use href="#mso" x="136.9" y="405"/>
<use href="#mso" x="137.9" y="404.4"/>
<use href="#mso" x="138.8" y="404.4"/>
<use href="#mso" x="139.7" y="404.5"/>
<use href="#mso" x="140.7" y="404.6"/>
<use href="#mso" x="141.6" y="404.7"/>
<use href="#mso" x="142.5" y="404.4"/>
<use href="#mso" x="143.5" y="404.6"/>
<use href="#mso" x="144.4" y="404.5"/>
<use href="#mso" x="145.3" y="405.1"/>
<use href="#mso" x="146.3" y="404.9"/>
<use href="#mso" x="147.2" y="404.4"/>
<use href="#mso" x="148.1" y="405.1"/>
<use href="#mso" x="149.1" y="404.4"/>
<use href="#mso" x="150" y="404.6"/>
<use href="#mso" x="150.9" y="405.1"/>
<use href="#mso" x="151.9" y="404.9"/>
<use href="#mso" x="152.8" y="404.9"/>
<use href="#mso" x="153.7" y="404.6"/>
<use href="#mso" x="154.7" y="404.4"/>
<use href="#mso" x="155.6" y="404.8"/>
<use href="#mso" x="156.5" y="404.4"/>
<use href="#mso" x="157.5" y="404.4"/>
<use href="#mso" x="158.4" y="404.6"/>
<use href="#mso" x="159.3" y="404.3"/>
<use href="#mso" x="160.3" y="404.6"/>
<use href="#mso" x="161.2" y="404.9"/>
<use href="#mso" x="162.2" y="404.8"/>
<use href="#mso" x="163.1" y="404.6"/>
<use href="#mso" x="164" y="404.8"/>
<use href="#mso" x="165" y="404.6"/>
<use href="#mso" x="165.9" y="404.4"/>
<use href="#mso" x="166.8" y="404.7"/>
<use href="#mso" x="167.8" y="404.6"/>
<use href="#mso" x="168.7" y="404.8"/>
<use href="#mso" x="169.6" y="405"/>
<use href="#mso" x="170.6" y="404.6"/>
<use href="#mso" x="171.5" y="404.7"/>
<use href="#mso" x="172.4" y="404.8"/>
<use href="#mso" x="173.4" y="404.6"/>
<use href="#mso" x="174.3" y="404.4"/>
<use href="#mso" x="175.2" y="404.8"/>
<use href="#mso" x="176.2" y="404.9"/>
<use href="#mso" x="177.1" y="404.8"/>
<use href="#mso" x="178" y="404.8"/>
<use href="#mso" x="179" y="404.9"/>
<use href="#mso" x="179.9" y="404.7"/>
<use href="#mso" x="180.8" y="404.7"/>
<use href="#mso" x="181.8" y="404.6"/>
<use href="#mso" x="182.7" y="404.4"/>
<use href="#mso" x="183.6" y="404.7"/>
<use href="#mso" x="184.6" y="404.3"/>
<use href="#mso" x="185.5" y="404.5"/>
<use href="#mso" x="186.4" y="404.8"/>
<use href="#mso" x="187.4" y="404.7"/>
<use href="#mso" x="188.3" y="404.7"/>
<use href="#mso" x="189.2" y="404.4"/>
<use href="#mso" x="190.2" y="404.5"/>
<use href="#mso" x="191.1" y="404.5"/>
<use href="#mso" x="192" y="404.7"/>
<use href="#mso" x="193" y="404.5"/>
<use href="#mso" x="193.9" y="404.7"/>
<use href="#mso" x="194.8" y="404.9"/>
<use href="#mso" x="195.8" y="404.3"/>
<use href="#mso" x="196.7" y="404.7"/>
<use href="#mso" x="197.6" y="404.8"/>
<use href="#mso" x="198.6" y="404.5"/>
<use href="#mso" x="199.5" y="404.5"/>
<use href="#mso" x="200.4" y="404.9"/>
<use href="#mso" x="201.4" y="404.2"/>
<use href="#mso" x="202.3" y="404.6"/>
<use href="#mso" x="203.2" y="404.3"/>
<use href="#mso" x="204.2" y="404.7"/>
<use href="#mso" x="205.1" y="404.9"/>
<use href="#mso" x="206.1" y="404.5"/>
<use href="#mso" x="207" y="404.2"/>
<use href="#mso" x="207.9" y="404.6"/>
<use href="#mso" x="208.9" y="404.5"/>
<use href="#mso" x="209.8" y="404.7"/>
<use href="#mso" x="210.7" y="404.5"/>
<use href="#mso" x="211.7" y="404.6"/>
<use href="#mso" x="212.6" y="404.8"/>
<use href="#mso" x="213.5" y="404.5"/>
<use href="#mso" x="214.5" y="404.4"/>
<use href="#mso" x="215.4" y="404.8"/>
<use href="#mso" x="216.3" y="404.3"/>
<use href="#mso" x="217.3" y="404.6"/>
<use href="#mso" x="218.2" y="404.4"/>
<use href="#mso" x="219.1" y="404.7"/>
<use href="#mso" x="220.1" y="404.2"/>
<use href="#mso" x="221" y="404.9"/>
<use href="#mso" x="221.9" y="404.4"/>
<use href="#mso" x="222.9" y="404.1"/>
<use href="#mso" x="223.8" y="404.3"/>
<use href="#mso" x="224.7" y="404.4"/>
<use href="#mso" x="225.7" y="404.1"/>
<use href="#mso" x="226.6" y="404.4"/>
<use href="#mso" x="227.5" y="404.4"/>
<use href="#mso" x="228.5" y="404.6"/>
<use href="#mso" x="229.4" y="404.3"/>
<use href="#mso" x="230.3" y="404.3"/>
<use href="#mso" x="231.3" y="404.2"/>
<use href="#mso" x="232.2" y="404.6"/>
<use href="#mso" x="233.1" y="404.8"/>
<use href="#mso" x="234.1" y="404.5"/>
<use href="#mso" x="235" y="404.2"/>
<use href="#mso" x="235.9" y="404.7"/>
<use href="#mso" x="236.9" y="404.3"/>
<use href="#mso" x="237.8" y="404.2"/>
<use href="#mso" x="238.7" y="404.1"/>
<use href="#mso" x="239.7" y="404.6"/>
<use href="#mso" x="240.6" y="404.7"/>
<use href="#mso" x="241.5" y="404.5"/>
<use href="#mso" x="242.5" y="404.4"/>
<use href="#mso" x="243.4" y="404.5"/>
<use href="#mso" x="244.3" y="404.2"/>
<use href="#mso" x="245.3" y="404.8"/>
<use href="#mso" x="246.2" y="404.3"/>
<use href="#mso" x="247.1" y="404.5"/>
<use href="#mso" x="248.1" y="404.6"/>
<use href="#mso" x="249" y="404.6"/>
<use href="#mso" x="249.9" y="404.4"/>
<use href="#mso" x="250.9" y="404.2"/>
<use href="#mso" x="251.8" y="404.4"/>
<use href="#mso" x="252.8" y="404.1"/>
<use href="#mso" x="253.7" y="404.6"/>
<use href="#mso" x="254.6" y="404.3"/>
<use href="#mso" x="255.6" y="404.6"/>
<use href="#mso" x="256.5" y="404.2"/>
<use href="#mso" x="257.4" y="404.3"/>
<use href="#mso" x="258.4" y="404.2"/>
<use href="#mso" x="259.3" y="404.3"/>
<use href="#mso" x="260.2" y="404.1"/>
<use href="#mso" x="261.2" y="404"/>
<use href="#mso" x="262.1" y="404.5"/>
<use href="#mso" x="263" y="404.2"/>
<use href="#mso" x="264" y="404.1"/>
<use href="#mso" x="264.9" y="404.2"/>
<use href="#mso" x="265.8" y="404.3"/>
<use href="#mso" x="266.8" y="404.3"/>
<use href="#mso" x="267.7" y="404.4"/>
<use href="#mso" x="268.6" y="404.5"/>
<use href="#mso" x="269.6" y="404.2"/>
<use href="#mso" x="270.5" y="404.7"/>
<use href="#mso" x="271.4" y="404.6"/>
<use href="#mso" x="272.4" y="404"/>
<use href="#mso" x="273.3" y="404.6"/>
<use href="#mso" x="274.2" y="404.6"/>
<use href="#mso" x="275.2" y="404.5"/>
<use href="#mso" x="276.1" y="404"/>
<use href="#mso" x="277" y="404.6"/>
<use href="#mso" x="278" y="404.4"/>
<use href="#mso" x="278.9" y="403.9"/>
<use href="#mso" x="279.8" y="403.9"/>
<use href="#mso" x="280.8" y="404.7"/>
<use href="#mso" x="281.7" y="404.4"/>
<use href="#mso" x="282.6" y="404.1"/>
<use href="#mso" x="283.6" y="404"/>
<use href="#mso" x="284.5" y="404"/>
<use href="#mso" x="285.4" y="404.1"/>
<use href="#mso" x="286.4" y="404.5"/>
<use href="#mso" x="287.3" y="404.1"/>
<use href="#mso" x="288.2" y="404"/>
<use href="#mso" x="289.2" y="404.6"/>
<use href="#mso" x="290.1" y="404.5"/>
<use href="#mso" x="291" y="404"/>
<use href="#mso" x="292" y="404.6"/>
<use href="#mso" x="292.9" y="404.3"/>
<use href="#mso" x="293.8" y="404.5"/>
<use href="#mso" x="294.8" y="404.4"/>
<use href="#mso" x="295.7" y="404.6"/>
<use href="#mso" x="296.6" y="404.5"/>
<use href="#mso" x="297.6" y="404.5"/>
<use href="#mso" x="298.5" y="404"/>
<use href="#mso" x="299.5" y="404.4"/>
<use href="#mso" x="300.4" y="404.3"/>
<use href="#mso" x="301.3" y="404.4"/>
<use href="#mso" x="302.3" y="404.2"/>
<use href="#mso" x="303.2" y="404.5"/>
<use href="#mso" x="304.1" y="404.3"/>
<use href="#mso" x="305.1" y="404"/>
<use href="#mso" x="306" y="404"/>
<use href="#mso" x="306.9" y="403.9"/>
<use href="#mso" x="307.9" y="404.2"/>
<use href="#mso" x="308.8" y="403.9"/>
<use href="#mso" x="309.7" y="404.2"/>
<use href="#mso" x="310.7" y="403.9"/>
<use href="#mso" x="311.6" y="404.2"/>
<use href="#mso" x="312.5" y="404.2"/>
<use href="#mso" x="313.5" y="404.2"/>
<use href="#mso" x="314.4" y="404.5"/>
<use href="#mso" x="315.3" y="403.8"/>
<use href="#mso" x="316.3" y="404.5"/>
<use href="#mso" x="317.2" y="404.2"/>
<use href="#mso" x="318.1" y="404.2"/>
<use href="#mso" x="319.1" y="404.3"/>
<use href="#mso" x="320" y="404.4"/>
<use href="#mso" x="320.9" y="404.1"/>
<use href="#mso" x="321.9" y="404.1"/>
<use href="#mso" x="322.8" y="404.5"/>
<use href="#mso" x="323.7" y="403.8"/>
<use href="#mso" x="324.7" y="404.3"/>
<use href="#mso" x="325.6" y="404.3"/>
<use href="#mso" x="326.5" y="403.8"/>
<use href="#mso" x="327.5" y="404.2"/>
<use href="#mso" x="328.4" y="404.3"/>
<use href="#mso" x="329.3" y="404.5"/>
<use href="#mso" x="330.3" y="404"/>
<use href="#mso" x="331.2" y="404.5"/>
<use href="#mso" x="332.1" y="404.1"/>
<use href="#mso" x="333.1" y="404.1"/>
<use href="#mso" x="334" y="404.4"/>
<use href="#mso" x="334.9" y="403.8"/>
<use href="#mso" x="335.9" y="404.3"/>
<use href="#mso" x="336.8" y="404.2"/>
<use href="#mso" x="337.7" y="404"/>
<use href="#mso" x="338.7" y="404.4"/>
<use href="#mso" x="339.6" y="404"/>
<use href="#mso" x="340.5" y="404.1"/>
<use href="#mso" x="341.5" y="404.1"/>
<use href="#mso" x="342.4" y="404.3"/>
<use href="#mso" x="343.3" y="403.9"/>
<use href="#mso" x="344.3" y="404"/>
<use href="#mso" x="345.2" y="404"/>
<use href="#mso" x="346.2" y="404.1"/>
<use href="#mso" x="347.1" y="404.4"/>
<use href="#mso" x="348" y="403.9"/>
<use href="#mso" x="349" y="404.3"/>
<use href="#mso" x="349.9" y="404"/>
<use href="#mso" x="350.8" y="404.1"/>
<use href="#mso" x="351.8" y="403.9"/>
<use href="#mso" x="352.7" y="404.1"/>
<use href="#mso" x="353.6" y="404.5"/>
<use href="#mso" x="354.6" y="404.2"/>
<use href="#mso" x="355.5" y="404.3"/>
<use href="#mso" x="356.4" y="403.9"/>
<use href="#mso" x="357.4" y="403.9"/>
<use href="#mso" x="358.3" y="403.9"/>
<use href="#mso" x="359.2" y="404.1"/>
<use href="#mso" x="360.2" y="404.2"/>
<use href="#mso" x="361.1" y="404.3"/>
<use href="#mso" x="362" y="403.7"/>
<use href="#mso" x="363" y="404.2"/>
<use href="#mso" x="363.9" y="404.3"/>
<use href="#mso" x="364.8" y="404.1"/>
<use href="#mso" x="365.8" y="403.7"/>
<use href="#mso" x="366.7" y="403.9"/>
<use href="#mso" x="367.6" y="403.6"/>
<use href="#mso" x="368.6" y="403.8"/>
<use href="#mso" x="369.5" y="404.4"/>
<use href="#mso" x="370.4" y="404.1"/>
<use href="#mso" x="371.4" y="404.1"/>
<use href="#mso" x="372.3" y="404.2"/>
<use href="#mso" x="373.2" y="404.3"/>
<use href="#mso" x="374.2" y="404.1"/>
<use href="#mso" x="375.1" y="404.1"/>
<use href="#mso" x="376" y="404.1"/>
<use href="#mso" x="377" y="404.2"/>
<use href="#mso" x="377.9" y="404.1"/>
<use href="#mso" x="378.8" y="404.1"/>
<use href="#mso" x="379.8" y="403.8"/>
<use href="#mso" x="380.7" y="404.1"/>
<use href="#mso" x="381.6" y="404"/>
<use href="#mso" x="382.6" y="404.2"/>
<use href="#mso" x="383.5" y="403.7"/>
<use href="#mso" x="384.4" y="403.7"/>
<use href="#mso" x="385.4" y="403.6"/>
<use href="#mso" x="386.3" y="404.2"/>
<use href="#mso" x="387.2" y="404.3"/>
<use href="#mso" x="388.2" y="404.1"/>
<use href="#mso" x="389.1" y="403.9"/>
<use href="#mso" x="390" y="404.2"/>
<use href="#mso" x="391" y="404.2"/>
<use href="#mso" x="391.9" y="404"/>
<use href="#mso" x="392.9" y="403.8"/>
<use href="#mso" x="393.8" y="403.8"/>
<use href="#mso" x="394.7" y="403.9"/>
<use href="#mso" x="395.7" y="403.8"/>
<use href="#mso" x="396.6" y="403.9"/>
<use href="#mso" x="397.5" y="404.1"/>
<use href="#mso" x="398.5" y="404.3"/>
<use href="#mso" x="399.4" y="403.6"/>
<use href="#mso" x="400.3" y="404"/>
<use href="#mso" x="401.3" y="403.6"/>
<use href="#mso" x="402.2" y="403.6"/>
<use href="#mso" x="403.1" y="404.2"/>
<use href="#mso" x="404.1" y="404"/>
<use href="#mso" x="405" y="404.3"/>
<use href="#mso" x="405.9" y="403.9"/>
<use href="#mso" x="406.9" y="403.5"/>
<use href="#mso" x="407.8" y="403.8"/>
<use href="#mso" x="408.7" y="404"/>
<use href="#mso" x="409.7" y="404.3"/>
<use href="#mso" x="410.6" y="404.3"/>
<use href="#mso" x="411.5" y="403.9"/>
<use href="#mso" x="412.5" y="403.8"/>
<use href="#mso" x="413.4" y="403.6"/>
<use href="#mso" x="414.3" y="404"/>
<use href="#mso" x="415.3" y="403.7"/>
<use href="#mso" x="416.2" y="403.6"/>
<use href="#mso" x="417.1" y="403.5"/>
<use href="#mso" x="418.1" y="403.5"/>
<use href="#mso" x="419" y="404"/>
<use href="#mso" x="419.9" y="403.6"/>
<use href="#mso" x="420.9" y="404.2"/>
<use href="#mso" x="421.8" y="403.5"/>
<use href="#mso" x="422.7" y="404.2"/>
<use href="#mso" x="423.7" y="403.6"/>
<use href="#mso" x="424.6" y="403.5"/>
<use href="#mso" x="425.5" y="404"/>
<use href="#mso" x="426.5" y="403.6"/>
<use href="#mso" x="427.4" y="404"/>
<use href="#mso" x="428.3" y="403.6"/>
<use href="#mso" x="429.3" y="403.5"/>
<use href="#mso" x="430.2" y="404.1"/>
<use href="#mso" x="431.1" y="404"/>
<use href="#mso" x="432.1" y="404.1"/>
<use href="#mso" x="433" y="404"/>
<use href="#mso" x="433.9" y="403.5"/>
<use href="#mso" x="434.9" y="403.9"/>
<use href="#mso" x="435.8" y="404"/>
<use href="#mso" x="436.7" y="403.8"/>
<use href="#mso" x="437.7" y="404.2"/>
<use href="#mso" x="438.6" y="403.6"/>
<use href="#mso" x="439.6" y="404.2"/>
<use href="#mso" x="440.5" y="404"/>
<use href="#mso" x="441.4" y="403.4"/>
<use href="#mso" x="442.4" y="403.4"/>
<use href="#mso" x="443.3" y="403.9"/>
<use href="#mso" x="444.2" y="404.1"/>
<use href="#mso" x="445.2" y="403.5"/>
<use href="#mso" x="446.1" y="403.6"/>
<use href="#mso" x="447" y="404"/>
<use href="#mso" x="448" y="403.5"/>
<use href="#mso" x="448.9" y="404.1"/>
<use href="#mso" x="449.8" y="403.8"/>
<use href="#mso" x="450.8" y="403.4"/>
<use href="#mso" x="451.7" y="403.7"/>
<use href="#mso" x="452.6" y="403.8"/>
<use href="#mso" x="453.6" y="403.7"/>
<use href="#mso" x="454.5" y="403.9"/>
<use href="#mso" x="455.4" y="403.5"/>
<use href="#mso" x="456.4" y="404"/>
<use href="#mso" x="457.3" y="403.6"/>
<use href="#mso" x="458.2" y="403.9"/>
<use href="#mso" x="459.2" y="403.9"/>
<use href="#mso" x="460.1" y="403.7"/>
<use href="#mso" x="461" y="403.7"/>
<use href="#mso" x="462" y="404"/>
<use href="#mso" x="462.9" y="404.1"/>
<use href="#mso" x="463.8" y="404"/>
<use href="#mso" x="464.8" y="403.8"/>
<use href="#mso" x="465.7" y="403.6"/>
<use href="#mso" x="466.6" y="403.4"/>
<use href="#mso" x="467.6" y="404.1"/>
<use href="#mso" x="468.5" y="403.9"/>
<use href="#mso" x="469.4" y="404"/>
<use href="#mso" x="470.4" y="403.6"/>
<use href="#mso" x="471.3" y="403.8"/>
<use href="#mso" x="472.2" y="404.1"/>
<use href="#mso" x="473.2" y="404"/>
<use href="#mso" x="474.1" y="403.8"/>
<use href="#mso" x="475" y="403.5"/>
<use href="#mso" x="476" y="403.6"/>
<use href="#mso" x="476.9" y="404"/>
<use href="#mso" x="477.8" y="403.6"/>
<use href="#mso" x="478.8" y="403.8"/>
<use href="#mso" x="479.7" y="403.8"/>
<use href="#mso" x="480.6" y="404"/>
<use href="#mso" x="481.6" y="403.9"/>
<use href="#mso" x="482.5" y="403.5"/>
<use href="#mso" x="483.4" y="403.3"/>
<use href="#mso" x="484.4" y="403.5"/>
<use href="#mso" x="485.3" y="403.6"/>
<use href="#mso" x="486.3" y="403.7"/>
<use href="#mso" x="487.2" y="403.9"/>
<use href="#mso" x="488.1" y="404"/>
<use href="#mso" x="489.1" y="403.3"/>
<use href="#mso" x="490" y="403.9"/>
<use href="#mso" x="490.9" y="403.9"/>
<use href="#mso" x="491.9" y="403.9"/>
<use href="#mso" x="492.8" y="403.7"/>
<use href="#mso" x="493.7" y="403.5"/>
<use href="#mso" x="494.7" y="403.9"/>
<use href="#mso" x="495.6" y="403.9"/>
<use href="#mso" x="496.5" y="403.8"/>
<use href="#mso" x="497.5" y="404"/>
<use href="#mso" x="498.4" y="403.5"/>
<use href="#mso" x="499.3" y="403.3"/>
<use href="#mso" x="500.3" y="403.7"/>
<use href="#mso" x="501.2" y="403.9"/>
<use href="#mso" x="502.1" y="403.4"/>
<use href="#mso" x="503.1" y="403.8"/>
<use href="#mso" x="504" y="404"/>
<use href="#mso" x="504.9" y="403.4"/>
<use href="#mso" x="505.9" y="403.7"/>
<use href="#mso" x="506.8" y="403.7"/>
<use href="#mso" x="507.7" y="403.6"/>
<use href="#mso" x="508.7" y="403.4"/>
<use href="#msb" x="42.6" y="404.7"/>
<use href="#msb" x="43.5" y="405.1"/>
<use href="#msb" x="44.5" y="405.1"/>
<use href="#msb" x="45.4" y="404.7"/>
<use href="#msb" x="46.3" y="404.3"/>
<use href="#msb" x="47.3" y="404.9"/>
<use href="#msb" x="48.2" y="404.8"/>
<use href="#msb" x="49.1" y="404.2"/>
<use href="#msb" x="50.1" y="404.4"/>
<use href="#msb" x="51" y="404.7"/>
<use href="#msb" x="51.9" y="404.6"/>
<use href="#msb" x="52.9" y="404.2"/>
<use href="#msb" x="53.8" y="404.1"/>
<use href="#msb" x="54.7" y="404.1"/>
<use href="#msb" x="55.7" y="403.7"/>
<use href="#msb" x="56.6" y="403.6"/>
<use href="#msb" x="57.5" y="403.5"/>
<use href="#msb" x="58.5" y="403.9"/>
<use href="#msb" x="59.4" y="403.5"/>
<use href="#msb" x="60.3" y="403.6"/>
<use href="#msb" x="61.3" y="403.5"/>
<use href="#msb" x="62.2" y="403.5"/>
<use href="#msb" x="63.1" y="403.2"/>
<use href="#msb" x="64.1" y="403.1"/>
<use href="#msb" x="65" y="403.9"/>
<use href="#msb" x="66" y="403.3"/>
<use href="#msb" x="66.9" y="403"/>
<use href="#msb" x="67.8" y="403.5"/>
<use href="#msb" x="68.8" y="403.6"/>
<use href="#msb" x="69.7" y="403"/>
<use href="#msb" x="70.6" y="403.3"/>
<use href="#msb" x="71.6" y="403.1"/>
<use href="#msb" x="72.5" y="403.2"/>
<use href="#msb" x="73.4" y="402.7"/>
<use href="#msb" x="74.4" y="402.7"/>
<use href="#msb" x="75.3" y="403.5"/>
<use href="#msb" x="76.2" y="403.4"/>
<use href="#msb" x="77.2" y="403"/>
<use href="#msb" x="78.1" y="403.1"/>
<use href="#msb" x="79" y="402.8"/>
<use href="#msb" x="80" y="403.2"/>
<use href="#msb" x="80.9" y="402.8"/>
<use href="#msb" x="81.8" y="403.3"/>
<use href="#msb" x="82.8" y="403.1"/>
<use href="#msb" x="83.7" y="403.1"/>
<use href="#msb" x="84.6" y="403.2"/>
<use href="#msb" x="85.6" y="402.5"/>
<use href="#msb" x="86.5" y="402.3"/>
<use href="#msb" x="87.4" y="402.4"/>
<use href="#msb" x="88.4" y="402.4"/>
<use href="#msb" x="89.3" y="402.2"/>
<use href="#msb" x="90.2" y="402.2"/>
<use href="#msb" x="91.2" y="402.7"/>
<use href="#msb" x="92.1" y="402.9"/>
<use href="#msb" x="93" y="402.6"/>
<use href="#msb" x="94" y="403"/>
<use href="#msb" x="94.9" y="403"/>
<use href="#msb" x="95.8" y="402.2"/>
<use href="#msb" x="96.8" y="402.7"/>
<use href="#msb" x="97.7" y="402.5"/>
<use href="#msb" x="98.6" y="402.3"/>
<use href="#msb" x="99.6" y="403"/>
<use href="#msb" x="100.5" y="402.4"/>
<use href="#msb" x="101.4" y="402.7"/>
<use href="#msb" x="102.4" y="402.7"/>
<use href="#msb" x="103.3" y="403"/>
<use href="#msb" x="104.2" y="402.7"/>
<use href="#msb" x="105.2" y="402.5"/>
<use href="#msb" x="106.1" y="402.5"/>
<use href="#msb" x="107" y="402.3"/>
<use href="#msb" x="108" y="403"/>
<use href="#msb" x="108.9" y="403"/>
<use href="#msb" x="109.8" y="402.3"/>
<use href="#msb" x="110.8" y="402.2"/>
<use href="#msb" x="111.7" y="402.4"/>
<use href="#msb" x="112.7" y="402.5"/>
<use href="#msb" x="113.6" y="403"/>
<use href="#msb" x="114.5" y="403"/>
<use href="#msb" x="115.5" y="402.9"/>
<use href="#msb" x="116.4" y="402.2"/>
<use href="#msb" x="117.3" y="402.9"/>
<use href="#msb" x="118.3" y="402.8"/>
<use href="#msb" x="119.2" y="402.7"/>
<use href="#msb" x="120.1" y="403"/>
<use href="#msb" x="121.1" y="402.2"/>
<use href="#msb" x="122" y="402.3"/>
<use href="#msb" x="122.9" y="402.8"/>
<use href="#msb" x="123.9" y="403"/>
<use href="#msb" x="124.8" y="402.8"/>
<use href="#msb" x="125.7" y="402.4"/>
<use href="#msb" x="126.7" y="402.7"/>
<use href="#msb" x="127.6" y="402.8"/>
<use href="#msb" x="128.5" y="402.2"/>
<use href="#msb" x="129.5" y="402.4"/>
<use href="#msb" x="130.4" y="402.4"/>
<use href="#msb" x="131.3" y="402.3"/>
<use href="#msb" x="132.3" y="402.6"/>
<use href="#msb" x="133.2" y="402.3"/>
<use href="#msb" x="134.1" y="402.4"/>
<use href="#msb" x="135.1" y="402.3"/>
<use href="#msb" x="136" y="402.7"/>
<use href="#msb" x="136.9" y="402.2"/>
<use href="#msb" x="137.9" y="402.8"/>
<use href="#msb" x="138.8" y="402.3"/>
<use href="#msb" x="139.7" y="402.2"/>
<use href="#msb" x="140.7" y="403"/>
<use href="#msb" x="141.6" y="402.3"/>
<use href="#msb" x="142.5" y="403"/>
<use href="#msb" x="143.5" y="402.9"/>
<use href="#msb" x="144.4" y="402.9"/>
<use href="#msb" x="145.3" y="402.3"/>
<use href="#msb" x="146.3" y="402.5"/>
<use href="#msb" x="147.2" y="402.2"/>
<use href="#msb" x="148.1" y="403"/>
<use href="#msb" x="149.1" y="402.9"/>
<use href="#msb" x="150" y="402.7"/>
<use href="#msb" x="150.9" y="402.5"/>
<use href="#msb" x="151.9" y="402.4"/>
<use href="#msb" x="152.8" y="402.9"/>
<use href="#msb" x="153.7" y="402.6"/>
<use href="#msb" x="154.7" y="402.7"/>
<use href="#msb" x="155.6" y="402.3"/>
<use href="#msb" x="156.5" y="402.3"/>
<use href="#msb" x="157.5" y="402.2"/>
<use href="#msb" x="158.4" y="402.8"/>
<use href="#msb" x="159.3" y="402.6"/>
<use href="#msb" x="160.3" y="402.3"/>
<use href="#msb" x="161.2" y="402.9"/>
<use href="#msb" x="162.2" y="402.4"/>
<use href="#msb" x="163.1" y="402.5"/>
<use href="#msb" x="164" y="402.3"/>
<use href="#msb" x="165" y="402.4"/>
<use href="#msb" x="165.9" y="402.9"/>
<use href="#msb" x="166.8" y="402.4"/>
<use href="#msb" x="167.8" y="402.3"/>
<use href="#msb" x="168.7" y="402.6"/>
<use href="#msb" x="169.6" y="402.4"/>
<use href="#msb" x="170.6" y="402.9"/>
<use href="#msb" x="171.5" y="402.2"/>
<use href="#msb" x="172.4" y="403"/>
<use href="#msb" x="173.4" y="402.2"/>
<use href="#msb" x="174.3" y="402.9"/>
<use href="#msb" x="175.2" y="402.7"/>
<use href="#msb" x="176.2" y="402.3"/>
<use href="#msb" x="177.1" y="402.6"/>
<use href="#msb" x="178" y="402.4"/>
<use href="#msb" x="179" y="402.4"/>
<use href="#msb" x="179.9" y="402.3"/>
<use href="#msb" x="180.8" y="402.5"/>
<use href="#msb" x="181.8" y="403"/>
<use href="#msb" x="182.7" y="403"/>
<use href="#msb" x="183.6" y="403"/>
<use href="#msb" x="184.6" y="402.2"/>
<use href="#msb" x="185.5" y="402.4"/>
<use href="#msb" x="186.4" y="402.9"/>
<use href="#msb" x="187.4" y="402.2"/>
<use href="#msb" x="188.3" y="402.8"/>
<use href="#msb" x="189.2" y="402.4"/>
<use href="#msb" x="190.2" y="403"/>
<use href="#msb" x="191.1" y="402.1"/>
<use href="#msb" x="192" y="402.9"/>
<use href="#msb" x="193" y="402.4"/>
<use href="#msb" x="193.9" y="402.3"/>
<use href="#msb" x="194.8" y="402.1"/>
<use href="#msb" x="195.8" y="402.9"/>
<use href="#msb" x="196.7" y="402.6"/>
<use href="#msb" x="197.6" y="402.3"/>
<use href="#msb" x="198.6" y="402.5"/>
<use href="#msb" x="199.5" y="402.9"/>
<use href="#msb" x="200.4" y="402.3"/>
<use href="#msb" x="201.4" y="402.6"/>
<use href="#msb" x="202.3" y="402.2"/>
<use href="#msb" x="203.2" y="402.3"/>
<use href="#msb" x="204.2" y="402.8"/>
<use href="#msb" x="205.1" y="402.8"/>
<use href="#msb" x="206.1" y="402.3"/>
<use href="#msb" x="207" y="402.2"/>
<use href="#msb" x="207.9" y="402.2"/>
<use href="#msb" x="208.9" y="402.7"/>
<use href="#msb" x="209.8" y="402.6"/>
<use href="#msb" x="210.7" y="402.4"/>
<use href="#msb" x="211.7" y="402.3"/>
<use href="#msb" x="212.6" y="402.7"/>
<use href="#msb" x="213.5" y="402.8"/>
<use href="#msb" x="214.5" y="402.9"/>
<use href="#msb" x="215.4" y="402.6"/>
<use href="#msb" x="216.3" y="402.3"/>
<use href="#msb" x="217.3" y="402.2"/>
<use href="#msb" x="218.2" y="402.8"/>
<use href="#msb" x="219.1" y="402.5"/>
<use href="#msb" x="220.1" y="402.8"/>
<use href="#msb" x="221" y="402.2"/>
<use href="#msb" x="221.9" y="402.8"/>
<use href="#msb" x="222.9" y="402.4"/>
<use href="#msb" x="223.8" y="402.9"/>
<use href="#msb" x="224.7" y="402.9"/>
<use href="#msb" x="225.7" y="402.6"/>
<use href="#msb" x="226.6" y="402.1"/>
<use href="#msb" x="227.5" y="402.9"/>
<use href="#msb" x="228.5" y="402.5"/>
<use href="#msb" x="229.4" y="402.9"/>
<use href="#msb" x="230.3" y="402.4"/>
<use href="#msb" x="231.3" y="402.3"/>
<use href="#msb" x="232.2" y="402.9"/>
<use href="#msb" x="233.1" y="402.4"/>
<use href="#msb" x="234.1" y="402.3"/>
<use href="#msb" x="235" y="402.4"/>
<use href="#msb" x="235.9" y="402.7"/>
<use href="#msb" x="236.9" y="402.1"/>
<use href="#msb" x="237.8" y="402.6"/>
<use href="#msb" x="238.7" y="402.5"/>
<use href="#msb" x="239.7" y="402.6"/>
<use href="#msb" x="240.6" y="402.2"/>
<use href="#msb" x="241.5" y="402.8"/>
<use href="#msb" x="242.5" y="402.8"/>
<use href="#msb" x="243.4" y="402.9"/>
<use href="#msb" x="244.3" y="402.4"/>
<use href="#msb" x="245.3" y="402.8"/>
<use href="#msb" x="246.2" y="402.5"/>
<use href="#msb" x="247.1" y="402.8"/>
<use href="#msb" x="248.1" y="402.2"/>
<use href="#msb" x="249" y="402.9"/>
<use href="#msb" x="249.9" y="403"/>
<use href="#msb" x="250.9" y="402.6"/>
<use href="#msb" x="251.8" y="402.6"/>
<use href="#msb" x="252.8" y="402.6"/>
<use href="#msb" x="253.7" y="402.6"/>
<use href="#msb" x="254.6" y="402.1"/>
<use href="#msb" x="255.6" y="403"/>
<use href="#msb" x="256.5" y="402.3"/>
<use href="#msb" x="257.4" y="402.3"/>
<use href="#msb" x="258.4" y="402.2"/>
<use href="#msb" x="259.3" y="402.3"/>
<use href="#msb" x="260.2" y="402.8"/>
<use href="#msb" x="261.2" y="402.1"/>
<use href="#msb" x="262.1" y="402.2"/>
<use href="#msb" x="263" y="402.7"/>
<use href="#msb" x="264" y="402.3"/>
<use href="#msb" x="264.9" y="402.1"/>
<use href="#msb" x="265.8" y="402.6"/>
<use href="#msb" x="266.8" y="402.6"/>
<use href="#msb" x="267.7" y="402.6"/>
<use href="#msb" x="268.6" y="402.7"/>
<use href="#msb" x="269.6" y="402.2"/>
<use href="#msb" x="270.5" y="402.9"/>
<use href="#msb" x="271.4" y="402.8"/>
<use href="#msb" x="272.4" y="402.1"/>
<use href="#msb" x="273.3" y="402.2"/>
<use href="#msb" x="274.2" y="402.6"/>
<use href="#msb" x="275.2" y="402.6"/>
<use href="#msb" x="276.1" y="402.4"/>
<use href="#msb" x="277" y="402.2"/>
<use href="#msb" x="278" y="402.5"/>
<use href="#msb" x="278.9" y="402.2"/>
<use href="#msb" x="279.8" y="402.6"/>
<use href="#msb" x="280.8" y="402.9"/>
<use href="#msb" x="281.7" y="402.2"/>
<use href="#msb" x="282.6" y="402.6"/>
<use href="#msb" x="283.6" y="402.8"/>
<use href="#msb" x="284.5" y="402.3"/>
<use href="#msb" x="285.4" y="402.8"/>
<use href="#msb" x="286.4" y="402.9"/>
<use href="#msb" x="287.3" y="402.5"/>
<use href="#msb" x="288.2" y="402.5"/>
<use href="#msb" x="289.2" y="402.9"/>
<use href="#msb" x="290.1" y="402.6"/>
<use href="#msb" x="291" y="402.5"/>
<use href="#msb" x="292" y="402.9"/>
<use href="#msb" x="292.9" y="402.8"/>
<use href="#msb" x="293.8" y="402.4"/>
<use href="#msb" x="294.8" y="402.3"/>
<use href="#msb" x="295.7" y="402.4"/>
<use href="#msb" x="296.6" y="402.5"/>
<use href="#msb" x="297.6" y="403"/>
<use href="#msb" x="298.5" y="402.8"/>
<use href="#msb" x="299.5" y="402.9"/>
<use href="#msb" x="300.4" y="402.8"/>
<use href="#msb" x="301.3" y="402.9"/>
<use href="#msb" x="302.3" y="402.1"/>
<use href="#msb" x="303.2" y="402.6"/>
<use href="#msb" x="304.1" y="403"/>
<use href="#msb" x="305.1" y="402.9"/>
<use href="#msb" x="306" y="402.3"/>
<use href="#msb" x="306.9" y="402.5"/>
<use href="#msb" x="307.9" y="402.7"/>
<use href="#msb" x="308.8" y="402.4"/>
<use href="#msb" x="309.7" y="402.6"/>
<use href="#msb" x="310.7" y="402.2"/>
<use href="#msb" x="311.6" y="402.5"/>
<use href="#msb" x="312.5" y="402.6"/>
<use href="#msb" x="313.5" y="402.1"/>
<use href="#msb" x="314.4" y="402.2"/>
<use href="#msb" x="315.3" y="403"/>
<use href="#msb" x="316.3" y="402.8"/>
<use href="#msb" x="317.2" y="402.9"/>
<use href="#msb" x="318.1" y="402.7"/>
<use href="#msb" x="319.1" y="402.8"/>
<use href="#msb" x="320" y="402.9"/>
<use href="#msb" x="320.9" y="402.9"/>
<use href="#msb" x="321.9" y="402.1"/>
<use href="#msb" x="322.8" y="402.7"/>
<use href="#msb" x="323.7" y="402.3"/>
<use href="#msb" x="324.7" y="402.7"/>
<use href="#msb" x="325.6" y="402.3"/>
<use href="#msb" x="326.5" y="402.6"/>
<use href="#msb" x="327.5" y="402.9"/>
<use href="#msb" x="328.4" y="402.7"/>
<use href="#msb" x="329.3" y="402.3"/>
<use href="#msb" x="330.3" y="402.6"/>
<use href="#msb" x="331.2" y="402.5"/>
<use href="#msb" x="332.1" y="402.9"/>
<use href="#msb" x="333.1" y="402.4"/>
<use href="#msb" x="334" y="402.4"/>
<use href="#msb" x="334.9" y="402.7"/>
<use href="#msb" x="335.9" y="402.2"/>
<use href="#msb" x="336.8" y="402.6"/>
<use href="#msb" x="337.7" y="403"/>
<use href="#msb" x="338.7" y="402.6"/>
<use href="#msb" x="339.6" y="402.3"/>
<use href="#msb" x="340.5" y="402.5"/>
<use href="#msb" x="341.5" y="402.6"/>
<use href="#msb" x="342.4" y="402.2"/>
<use href="#msb" x="343.3" y="402.2"/>
<use href="#msb" x="344.3" y="402.2"/>
<use href="#msb" x="345.2" y="402.4"/>
<use href="#msb" x="346.2" y="402.5"/>
<use href="#msb" x="347.1" y="402.3"/>
<use href="#msb" x="348" y="402.3"/>
<use href="#msb" x="349" y="402.2"/>
<use href="#msb" x="349.9" y="402.6"/>
<use href="#msb" x="350.8" y="402.8"/>
<use href="#msb" x="351.8" y="402.6"/>
<use href="#msb" x="352.7" y="402.6"/>
<use href="#msb" x="353.6" y="402.7"/>
<use href="#msb" x="354.6" y="402.3"/>
<use href="#msb" x="355.5" y="402.7"/>
<use href="#msb" x="356.4" y="402.5"/>
<use href="#msb" x="357.4" y="402.6"/>
<use href="#msb" x="358.3" y="402.6"/>
<use href="#msb" x="359.2" y="402.5"/>
<use href="#msb" x="360.2" y="402.4"/>
<use href="#msb" x="361.1" y="402.3"/>
<use href="#msb" x="362" y="402.3"/>
<use href="#msb" x="363" y="402.5"/>
<use href="#msb" x="363.9" y="402.4"/>
<use href="#msb" x="364.8" y="402.6"/>
<use href="#msb" x="365.8" y="402.1"/>
<use href="#msb" x="366.7" y="402.4"/>
<use href="#msb" x="367.6" y="402.9"/>
<use href="#msb" x="368.6" y="402.3"/>
<use href="#msb" x="369.5" y="402.6"/>
<use href="#msb" x="370.4" y="402.5"/>
<use href="#msb" x="371.4" y="402.3"/>
<use href="#msb" x="372.3" y="403"/>
<use href="#msb" x="373.2" y="402.3"/>
<use href="#msb" x="374.2" y="402.8"/>
<use href="#msb" x="375.1" y="402.2"/>
<use href="#msb" x="376" y="402.1"/>
<use href="#msb" x="377" y="402.9"/>
<use href="#msb" x="377.9" y="402.5"/>
<use href="#msb" x="378.8" y="402.1"/>
<use href="#msb" x="379.8" y="402.4"/>
<use href="#msb" x="380.7" y="402.5"/>
<use href="#msb" x="381.6" y="402.7"/>
<use href="#msb" x="382.6" y="402.2"/>
<use href="#msb" x="383.5" y="402.3"/>
<use href="#msb" x="384.4" y="402.9"/>
<use href="#msb" x="385.4" y="402.7"/>
<use href="#msb" x="386.3" y="402.2"/>
<use href="#msb" x="387.2" y="402.4"/>
<use href="#msb" x="388.2" y="402.4"/>
<use href="#msb" x="389.1" y="402.7"/>
<use href="#msb" x="390" y="402.6"/>
<use href="#msb" x="391" y="402.8"/>
<use href="#msb" x="391.9" y="402.8"/>
<use href="#msb" x="392.9" y="402.5"/>
<use href="#msb" x="393.8" y="402.7"/>
<use href="#msb" x="394.7" y="402.7"/>
<use href="#msb" x="395.7" y="402.8"/>
<use href="#msb" x="396.6" y="402.5"/>
<use href="#msb" x="397.5" y="402.8"/>
<use href="#msb" x="398.5" y="402.7"/>
<use href="#msb" x="399.4" y="402.9"/>
<use href="#msb" x="400.3" y="402.2"/>
<use href="#msb" x="401.3" y="402.9"/>
<use href="#msb" x="402.2" y="402.1"/>
<use href="#msb" x="403.1" y="402.8"/>
<use href="#msb" x="404.1" y="402.6"/>
<use href="#msb" x="405" y="402.5"/>
<use href="#msb" x="405.9" y="402.9"/>
<use href="#msb" x="406.9" y="402.6"/>
<use href="#msb" x="407.8" y="402.5"/>
<use href="#msb" x="408.7" y="402.8"/>
<use href="#msb" x="409.7" y="402.9"/>
<use href="#msb" x="410.6" y="402.6"/>
<use href="#msb" x="411.5" y="402.4"/>
<use href="#msb" x="412.5" y="402.5"/>
<use href="#msb" x="413.4" y="402.5"/>
<use href="#msb" x="414.3" y="402.7"/>
<use href="#msb" x="415.3" y="402.3"/>
<use href="#msb" x="416.2" y="402.4"/>
<use href="#msb" x="417.1" y="402.6"/>
<use href="#msb" x="418.1" y="402.4"/>
<use href="#msb" x="419" y="402.4"/>
<use href="#msb" x="419.9" y="402.8"/>
<use href="#msb" x="420.9" y="402.8"/>
<use href="#msb" x="421.8" y="402.5"/>
<use href="#msb" x="422.7" y="402.5"/>
<use href="#msb" x="423.7" y="402.2"/>
<use href="#msb" x="424.6" y="402.3"/>
<use href="#msb" x="425.5" y="402.2"/>
<use href="#msb" x="426.5" y="402.6"/>
<use href="#msb" x="427.4" y="402.6"/>
<use href="#msb" x="428.3" y="402.1"/>
<use href="#msb" x="429.3" y="402.9"/>
<use href="#msb" x="430.2" y="402.4"/>
<use href="#msb" x="431.1" y="402.8"/>
<use href="#msb" x="432.1" y="402.8"/>
<use href="#msb" x="433" y="402.9"/>
<use href="#msb" x="433.9" y="402.3"/>
<use href="#msb" x="434.9" y="402.5"/>
<use href="#msb" x="435.8" y="402.9"/>
<use href="#msb" x="436.7" y="402.1"/>
<use href="#msb" x="437.7" y="402.1"/>
<use href="#msb" x="438.6" y="402.6"/>
<use href="#msb" x="439.6" y="402.5"/>
<use href="#msb" x="440.5" y="402.9"/>
<use href="#msb" x="441.4" y="402.8"/>
<use href="#msb" x="442.4" y="402.6"/>
<use href="#msb" x="443.3" y="403"/>
<use href="#msb" x="444.2" y="402.5"/>
<use href="#msb" x="445.2" y="402.5"/>
<use href="#msb" x="446.1" y="402.7"/>
<use href="#msb" x="447" y="402.4"/>
<use href="#msb" x="448" y="402.4"/>
<use href="#msb" x="448.9" y="402.6"/>
<use href="#msb" x="449.8" y="402.4"/>
<use href="#msb" x="450.8" y="402.9"/>
<use href="#msb" x="451.7" y="402.7"/>
<use href="#msb" x="452.6" y="402.5"/>
<use href="#msb" x="453.6" y="402.2"/>
<use href="#msb" x="454.5" y="402.4"/>
<use href="#msb" x="455.4" y="402.4"/>
<use href="#msb" x="456.4" y="402.6"/>
<use href="#msb" x="457.3" y="402.6"/>
<use href="#msb" x="458.2" y="402.9"/>
<use href="#msb" x="459.2" y="402.9"/>
<use href="#msb" x="460.1" y="402.5"/>
<use href="#msb" x="461" y="402.5"/>
<use href="#msb" x="462" y="402.6"/>
<use href="#msb" x="462.9" y="403"/>
<use href="#msb" x="463.8" y="402.4"/>
<use href="#msb" x="464.8" y="402.5"/>
<use href="#msb" x="465.7" y="402.8"/>
<use href="#msb" x="466.6" y="402.2"/>
<use href="#msb" x="467.6" y="402.3"/>
<use href="#msb" x="468.5" y="402.9"/>
<use href="#msb" x="469.4" y="402.8"/>
<use href="#msb" x="470.4" y="402.5"/>
<use href="#msb" x="471.3" y="402.2"/>
<use href="#msb" x="472.2" y="402.9"/>
<use href="#msb" x="473.2" y="402.7"/>
<use href="#msb" x="474.1" y="402.8"/>
<use href="#msb" x="475" y="402.9"/>
<use href="#msb" x="476" y="402.9"/>
<use href="#msb" x="476.9" y="402.4"/>
<use href="#msb" x="477.8" y="402.2"/>
<use href="#msb" x="478.8" y="402.3"/>
<use href="#msb" x="479.7" y="402.5"/>
<use href="#msb" x="480.6" y="402.5"/>
<use href="#msb" x="481.6" y="402.2"/>
<use href="#msb" x="482.5" y="402.2"/>
<use href="#msb" x="483.4" y="402.6"/>
<use href="#msb" x="484.4" y="402.6"/>
<use href="#msb" x="485.3" y="402.4"/>
<use href="#msb" x="486.3" y="402.9"/>
<use href="#msb" x="487.2" y="402.6"/>
<use href="#msb" x="488.1" y="402.1"/>
<use href="#msb" x="489.1" y="402.4"/>
<use href="#msb" x="490" y="402.8"/>
<use href="#msb" x="490.9" y="402.3"/>
<use href="#msb" x="491.9" y="402.7"/>
<use href="#msb" x="492.8" y="402.1"/>
<use href="#msb" x="493.7" y="402.3"/>
<use href="#msb" x="494.7" y="402.8"/>
<use href="#msb" x="495.6" y="402.6"/>
<use href="#msb" x="496.5" y="402.7"/>
<use href="#msb" x="497.5" y="402.2"/>
<use href="#msb" x="498.4" y="402.5"/>
<use href="#msb" x="499.3" y="402.6"/>
<use href="#msb" x="500.3" y="402.3"/>
<use href="#msb" x="501.2" y="402.6"/>
<use href="#msb" x="502.1" y="402.5"/>
<use href="#msb" x="503.1" y="402.9"/>
<use href="#msb" x="504" y="402.6"/>
<use href="#msb" x="504.9" y="402.4"/>
<use href="#msb" x="505.9" y="402.2"/>
<use href="#msb" x="506.8" y="402.2"/>
<use href="#msb" x="507.7" y="402.7"/>
<use href="#msb" x="508.7" y="402.1"/>
<use href="#mso" x="42.6" y="446.4"/>
<use href="#mso" x="43.5" y="446.5"/>
<use href="#mso" x="44.5" y="446.9"/>
<use href="#mso" x="45.4" y="447.2"/>
<use href="#mso" x="46.3" y="447"/>
<use href="#mso" x="47.3" y="447.3"/>
<use href="#mso" x="48.2" y="446.6"/>
<use href="#mso" x="49.1" y="446.6"/>
<use href="#mso" x="50.1" y="447.4"/>
<use href="#mso" x="51" y="447"/>
<use href="#mso" x="51.9" y="447.4"/>
<use href="#mso" x="52.9" y="447.2"/>
<use href="#mso" x="53.8" y="447"/>
<use href="#mso" x="54.7" y="447.2"/>
<use href="#mso" x="55.7" y="447.1"/>
<use href="#mso" x="56.6" y="447.9"/>
<use href="#mso" x="57.5" y="447.6"/>
<use href="#mso" x="58.5" y="447.5"/>
<use href="#mso" x="59.4" y="447.6"/>
<use href="#mso" x="60.3" y="447.6"/>
<use href="#mso" x="61.3" y="447.3"/>
<use href="#mso" x="62.2" y="448.2"/>
<use href="#mso" x="63.1" y="447.9"/>
<use href="#mso" x="64.1" y="448.3"/>
<use href="#mso" x="65" y="447.9"/>
<use href="#mso" x="66" y="448.1"/>
<use href="#mso" x="66.9" y="447.8"/>
<use href="#mso" x="67.8" y="447.7"/>
<use href="#mso" x="68.8" y="448.5"/>
<use href="#mso" x="69.7" y="448.5"/>
<use href="#mso" x="70.6" y="448.1"/>
<use href="#mso" x="71.6" y="448.7"/>
<use href="#mso" x="72.5" y="448.6"/>
<use href="#mso" x="73.4" y="448.2"/>
<use href="#mso" x="74.4" y="448.6"/>
<use href="#mso" x="75.3" y="448.9"/>
<use href="#mso" x="76.2" y="448.6"/>
<use href="#mso" x="77.2" y="449"/>
<use href="#mso" x="78.1" y="448.4"/>
<use href="#mso" x="79" y="448.6"/>
<use href="#mso" x="80" y="449"/>
<use href="#mso" x="80.9" y="448.6"/>
<use href="#mso" x="81.8" y="448.7"/>
<use href="#mso" x="82.8" y="449.3"/>
<use href="#mso" x="83.7" y="449"/>
<use href="#mso" x="84.6" y="449.3"/>
<use href="#mso" x="85.6" y="448.8"/>
<use href="#mso" x="86.5" y="448.8"/>
<use href="#mso" x="87.4" y="449"/>
<use href="#mso" x="88.4" y="448.9"/>
<use href="#mso" x="89.3" y="449.7"/>
<use href="#mso" x="90.2" y="449.1"/>
<use href="#mso" x="91.2" y="449.4"/>
<use href="#mso" x="92.1" y="449.1"/>
<use href="#mso" x="93" y="449.5"/>
<use href="#mso" x="94" y="449.4"/>
<use href="#mso" x="94.9" y="449.5"/>
<use href="#mso" x="95.8" y="449.2"/>
<use href="#mso" x="96.8" y="449.3"/>
<use href="#mso" x="97.7" y="450"/>
<use href="#mso" x="98.6" y="449.6"/>
<use href="#mso" x="99.6" y="449.6"/>
<use href="#mso" x="100.5" y="449.6"/>
<use href="#mso" x="101.4" y="449.7"/>
<use href="#mso" x="102.4" y="449.7"/>
<use href="#mso" x="103.3" y="449.6"/>
<use href="#mso" x="104.2" y="450.2"/>
<use href="#mso" x="105.2" y="450"/>
<use href="#mso" x="106.1" y="449.9"/>
<use href="#mso" x="107" y="450.4"/>
<use href="#mso" x="108" y="449.9"/>
<use href="#mso" x="108.9" y="450.1"/>
<use href="#mso" x="109.8" y="450.7"/>
<use href="#mso" x="110.8" y="450.1"/>
<use href="#mso" x="111.7" y="450.4"/>
<use href="#mso" x="112.7" y="450.8"/>
<use href="#mso" x="113.6" y="450.9"/>
<use href="#mso" x="114.5" y="450.3"/>
<use href="#mso" x="115.5" y="450.6"/>
<use href="#mso" x="116.4" y="450.9"/>
<use href="#mso" x="117.3" y="450.7"/>
<use href="#mso" x="118.3" y="451.3"/>
<use href="#mso" x="119.2" y="450.6"/>
<use href="#mso" x="120.1" y="451.4"/>
<use href="#mso" x="121.1" y="451"/>
<use href="#mso" x="122" y="450.8"/>
<use href="#mso" x="122.9" y="451.1"/>
<use href="#mso" x="123.9" y="450.8"/>
<use href="#mso" x="124.8" y="451.4"/>
<use href="#mso" x="125.7" y="451"/>
<use href="#mso" x="126.7" y="451.7"/>
<use href="#mso" x="127.6" y="451.4"/>
<use href="#mso" x="128.5" y="451.3"/>
<use href="#mso" x="129.5" y="451.2"/>
<use href="#mso" x="130.4" y="451.6"/>
<use href="#mso" x="131.3" y="451.3"/>
<use href="#mso" x="132.3" y="451.9"/>
<use href="#mso" x="133.2" y="451.3"/>
<use href="#mso" x="134.1" y="451.7"/>
<use href="#mso" x="135.1" y="451.8"/>
<use href="#mso" x="136" y="451.6"/>
<use href="#mso" x="136.9" y="452.1"/>
<use href="#mso" x="137.9" y="451.8"/>
<use href="#mso" x="138.8" y="452.1"/>
<use href="#mso" x="139.7" y="452.1"/>
<use href="#mso" x="140.7" y="451.9"/>
<use href="#mso" x="141.6" y="452"/>
<use href="#mso" x="142.5" y="451.8"/>
<use href="#mso" x="143.5" y="451.9"/>
<use href="#mso" x="144.4" y="452.6"/>
<use href="#mso" x="145.3" y="452.2"/>
<use href="#mso" x="146.3" y="452.5"/>
<use href="#mso" x="147.2" y="452.1"/>
<use href="#mso" x="148.1" y="452.5"/>
<use href="#mso" x="149.1" y="452.4"/>
<use href="#mso" x="150" y="452.6"/>
<use href="#mso" x="150.9" y="452.4"/>
<use href="#mso" x="151.9" y="452.3"/>
<use href="#mso" x="152.8" y="452.6"/>
<use href="#mso" x="153.7" y="452.5"/>
<use href="#mso" x="154.7" y="452.5"/>
<use href="#mso" x="155.6" y="453.1"/>
<use href="#mso" x="156.5" y="452.7"/>
<use href="#mso" x="157.5" y="452.9"/>
<use href="#mso" x="158.4" y="453.4"/>
<use href="#mso" x="159.3" y="453.3"/>
<use href="#mso" x="160.3" y="453.5"/>
<use href="#mso" x="161.2" y="453.5"/>
<use href="#mso" x="162.2" y="452.9"/>
<use href="#mso" x="163.1" y="453.1"/>
<use href="#mso" x="164" y="452.9"/>
<use href="#mso" x="165" y="453.6"/>
<use href="#mso" x="165.9" y="453.6"/>
<use href="#mso" x="166.8" y="453.4"/>
<use href="#mso" x="167.8" y="453.5"/>
<use href="#mso" x="168.7" y="453.7"/>
<use href="#mso" x="169.6" y="453.8"/>
<use href="#mso" x="170.6" y="453.5"/>
<use href="#mso" x="171.5" y="454.1"/>
<use href="#mso" x="172.4" y="453.7"/>
<use href="#mso" x="173.4" y="454"/>
<use href="#mso" x="174.3" y="453.6"/>
<use href="#mso" x="175.2" y="453.6"/>
<use href="#mso" x="176.2" y="454.4"/>
<use href="#mso" x="177.1" y="454.3"/>
<use href="#mso" x="178" y="454.3"/>
<use href="#mso" x="179" y="453.7"/>
<use href="#mso" x="179.9" y="453.8"/>
<use href="#mso" x="180.8" y="454"/>
<use href="#mso" x="181.8" y="454"/>
<use href="#mso" x="182.7" y="454.2"/>
<use href="#mso" x="183.6" y="454.3"/>
<use href="#mso" x="184.6" y="454"/>
<use href="#mso" x="185.5" y="454.3"/>
<use href="#mso" x="186.4" y="454.7"/>
<use href="#mso" x="187.4" y="454.3"/>
<use href="#mso" x="188.3" y="455"/>
<use href="#mso" x="189.2" y="454.8"/>
<use href="#mso" x="190.2" y="455"/>
<use href="#mso" x="191.1" y="454.6"/>
<use href="#mso" x="192" y="454.8"/>
<use href="#mso" x="193" y="455.1"/>
<use href="#mso" x="193.9" y="454.8"/>
<use href="#mso" x="194.8" y="454.6"/>
<use href="#mso" x="195.8" y="455.4"/>
<use href="#mso" x="196.7" y="455.4"/>
<use href="#mso" x="197.6" y="455"/>
<use href="#mso" x="198.6" y="454.8"/>
<use href="#mso" x="199.5" y="455.6"/>
<use href="#mso" x="200.4" y="455.4"/>
<use href="#mso" x="201.4" y="455"/>
<use href="#mso" x="202.3" y="455.2"/>
<use href="#mso" x="203.2" y="455.1"/>
<use href="#mso" x="204.2" y="455.7"/>
<use href="#mso" x="205.1" y="455.3"/>
<use href="#mso" x="206.1" y="455.9"/>
<use href="#mso" x="207" y="455.8"/>
<use href="#mso" x="207.9" y="455.3"/>
<use href="#mso" x="208.9" y="455.9"/>
<use href="#mso" x="209.8" y="455.6"/>
<use href="#mso" x="210.7" y="456"/>
<use href="#mso" x="211.7" y="456.1"/>
<use href="#mso" x="212.6" y="455.7"/>
<use href="#mso" x="213.5" y="455.5"/>
<use href="#mso" x="214.5" y="456.3"/>
<use href="#mso" x="215.4" y="455.9"/>
<use href="#mso" x="216.3" y="456.4"/>
<use href="#mso" x="217.3" y="456.2"/>
<use href="#mso" x="218.2" y="456.3"/>
<use href="#mso" x="219.1" y="456.4"/>
<use href="#mso" x="220.1" y="456.3"/>
<use href="#mso" x="221" y="456.2"/>
<use href="#mso" x="221.9" y="455.9"/>
<use href="#mso" x="222.9" y="456.5"/>
<use href="#mso" x="223.8" y="456.3"/>
<use href="#mso" x="224.7" y="456.4"/>
<use href="#mso" x="225.7" y="456.8"/>
<use href="#mso" x="226.6" y="456.1"/>
<use href="#mso" x="227.5" y="456.8"/>
<use href="#mso" x="228.5" y="456.2"/>
<use href="#mso" x="229.4" y="456.8"/>
<use href="#mso" x="230.3" y="456.9"/>
<use href="#mso" x="231.3" y="456.5"/>
<use href="#mso" x="232.2" y="456.8"/>
<use href="#mso" x="233.1" y="457.2"/>
<use href="#mso" x="234.1" y="456.9"/>
<use href="#mso" x="235" y="456.9"/>
<use href="#mso" x="235.9" y="456.7"/>
<use href="#mso" x="236.9" y="456.5"/>
<use href="#mso" x="237.8" y="456.9"/>
<use href="#mso" x="238.7" y="456.9"/>
<use href="#mso" x="239.7" y="456.8"/>
<use href="#mso" x="240.6" y="456.9"/>
<use href="#mso" x="241.5" y="456.8"/>
<use href="#mso" x="242.5" y="457.4"/>
<use href="#mso" x="243.4" y="457.4"/>
<use href="#mso" x="244.3" y="457"/>
<use href="#mso" x="245.3" y="457.1"/>
<use href="#mso" x="246.2" y="457.4"/>
<use href="#mso" x="247.1" y="457.3"/>
<use href="#mso" x="248.1" y="457.8"/>
<use href="#mso" x="249" y="457.3"/>
<use href="#mso" x="249.9" y="457.3"/>
<use href="#mso" x="250.9" y="457.9"/>
<use href="#mso" x="251.8" y="457.3"/>
<use href="#mso" x="252.8" y="457.7"/>
<use href="#mso" x="253.7" y="457.5"/>
<use href="#mso" x="254.6" y="458"/>
<use href="#mso" x="255.6" y="457.8"/>
<use href="#mso" x="256.5" y="458"/>
<use href="#mso" x="257.4" y="457.6"/>
<use href="#mso" x="258.4" y="458"/>
<use href="#mso" x="259.3" y="458"/>
<use href="#mso" x="260.2" y="457.9"/>
<use href="#mso" x="261.2" y="458.3"/>
<use href="#mso" x="262.1" y="458.4"/>
<use href="#mso" x="263" y="457.8"/>
<use href="#mso" x="264" y="458"/>
<use href="#mso" x="264.9" y="458.1"/>
<use href="#mso" x="265.8" y="458"/>
<use href="#mso" x="266.8" y="457.9"/>
<use href="#mso" x="267.7" y="458.1"/>
<use href="#mso" x="268.6" y="458.1"/>
<use href="#mso" x="269.6" y="458.6"/>
<use href="#mso" x="270.5" y="458.4"/>
<use href="#mso" x="271.4" y="458.1"/>
<use href="#mso" x="272.4" y="458.4"/>
<use href="#mso" x="273.3" y="458.5"/>
<use href="#mso" x="274.2" y="458.5"/>
<use href="#mso" x="275.2" y="458.3"/>
<use href="#mso" x="276.1" y="458.3"/>
<use href="#mso" x="277" y="458.3"/>
<use href="#mso" x="278" y="459.2"/>
<use href="#mso" x="278.9" y="459"/>
<use href="#mso" x="279.8" y="458.5"/>
<use href="#mso" x="280.8" y="459.1"/>
<use href="#mso" x="281.7" y="459.4"/>
<use href="#mso" x="282.6" y="459"/>
<use href="#mso" x="283.6" y="458.7"/>
<use href="#mso" x="284.5" y="459"/>
<use href="#mso" x="285.4" y="459"/>
<use href="#mso" x="286.4" y="458.9"/>
<use href="#mso" x="287.3" y="459.2"/>
<use href="#mso" x="288.2" y="458.8"/>
<use href="#mso" x="289.2" y="459.6"/>
<use href="#mso" x="290.1" y="459.4"/>
<use href="#mso" x="291" y="459.4"/>
<use href="#mso" x="292" y="459.7"/>
<use href="#mso" x="292.9" y="459.5"/>
<use href="#mso" x="293.8" y="459.1"/>
<use href="#mso" x="294.8" y="459.1"/>
<use href="#mso" x="295.7" y="459.1"/>
<use href="#mso" x="296.6" y="459"/>
<use href="#mso" x="297.6" y="459.7"/>
<use href="#mso" x="298.5" y="459.7"/>
<use href="#mso" x="299.5" y="459.3"/>
<use href="#mso" x="300.4" y="459.2"/>
<use href="#mso" x="301.3" y="459.6"/>
<use href="#mso" x="302.3" y="459.8"/>
<use href="#mso" x="303.2" y="459.9"/>
<use href="#mso" x="304.1" y="459.2"/>
<use href="#mso" x="305.1" y="459.8"/>
<use href="#mso" x="306" y="459.8"/>
<use href="#mso" x="306.9" y="459.8"/>
<use href="#mso" x="307.9" y="459.4"/>
<use href="#mso" x="308.8" y="459.3"/>
<use href="#mso" x="309.7" y="459.9"/>
<use href="#mso" x="310.7" y="459.5"/>
<use href="#mso" x="311.6" y="459.5"/>
<use href="#mso" x="312.5" y="459.7"/>
<use href="#mso" x="313.5" y="459.6"/>
<use href="#mso" x="314.4" y="460"/>
<use href="#mso" x="315.3" y="459.5"/>
<use href="#mso" x="316.3" y="459.4"/>
<use href="#mso" x="317.2" y="459.9"/>
<use href="#mso" x="318.1" y="459.9"/>
<use href="#mso" x="319.1" y="460.1"/>
<use href="#mso" x="320" y="460.1"/>
<use href="#mso" x="320.9" y="460.3"/>
<use href="#mso" x="321.9" y="460.3"/>
<use href="#mso" x="322.8" y="460"/>
<use href="#mso" x="323.7" y="460"/>
<use href="#mso" x="324.7" y="459.7"/>
<use href="#mso" x="325.6" y="459.9"/>
<use href="#mso" x="326.5" y="460.1"/>
<use href="#mso" x="327.5" y="459.7"/>
<use href="#mso" x="328.4" y="460.3"/>
<use href="#mso" x="329.3" y="459.8"/>
<use href="#mso" x="330.3" y="460.1"/>
<use href="#mso" x="331.2" y="460.6"/>
<use href="#mso" x="332.1" y="459.9"/>
<use href="#mso" x="333.1" y="459.8"/>
<use href="#mso" x="334" y="460.2"/>
<use href="#mso" x="334.9" y="460"/>
<use href="#mso" x="335.9" y="460.5"/>
<use href="#mso" x="336.8" y="459.9"/>
<use href="#mso" x="337.7" y="460.7"/>
<use href="#mso" x="338.7" y="460.7"/>
<use href="#mso" x="339.6" y="460.7"/>
<use href="#mso" x="340.5" y="460.4"/>
<use href="#mso" x="341.5" y="460.3"/>
<use href="#mso" x="342.4" y="460.7"/>
<use href="#mso" x="343.3" y="460.6"/>
<use href="#mso" x="344.3" y="460.5"/>
<use href="#mso" x="345.2" y="460.5"/>
<use href="#mso" x="346.2" y="460.6"/>
<use href="#mso" x="347.1" y="460.9"/>
<use href="#mso" x="348" y="461.1"/>
<use href="#mso" x="349" y="461.2"/>
<use href="#mso" x="349.9" y="460.6"/>
<use href="#mso" x="350.8" y="460.8"/>
<use href="#mso" x="351.8" y="461"/>
<use href="#mso" x="352.7" y="461.2"/>
<use href="#mso" x="353.6" y="461"/>
<use href="#mso" x="354.6" y="461"/>
<use href="#mso" x="355.5" y="460.9"/>
<use href="#mso" x="356.4" y="461.2"/>
<use href="#mso" x="357.4" y="461.4"/>
<use href="#mso" x="358.3" y="461.9"/>
<use href="#mso" x="359.2" y="461.9"/>
<use href="#mso" x="360.2" y="461.9"/>
<use href="#mso" x="361.1" y="462.1"/>
<use href="#mso" x="362" y="462.1"/>
<use href="#mso" x="363" y="461.9"/>
<use href="#mso" x="363.9" y="462.1"/>
<use href="#mso" x="364.8" y="461.5"/>
<use href="#mso" x="365.8" y="462.1"/>
<use href="#mso" x="366.7" y="462.1"/>
<use href="#mso" x="367.6" y="461.9"/>
<use href="#mso" x="368.6" y="462.2"/>
<use href="#mso" x="369.5" y="462.6"/>
<use href="#mso" x="370.4" y="462.3"/>
<use href="#mso" x="371.4" y="462.5"/>
<use href="#mso" x="372.3" y="462.2"/>
<use href="#mso" x="373.2" y="462.3"/>
<use href="#mso" x="374.2" y="462.9"/>
<use href="#mso" x="375.1" y="462.2"/>
<use href="#mso" x="376" y="462.4"/>
<use href="#mso" x="377" y="462.9"/>
<use href="#mso" x="377.9" y="462.7"/>
<use href="#mso" x="378.8" y="462.5"/>
<use href="#mso" x="379.8" y="463.1"/>
<use href="#mso" x="380.7" y="462.9"/>
<use href="#mso" x="381.6" y="463.1"/>
<use href="#mso" x="382.6" y="463"/>
<use href="#mso" x="383.5" y="463.2"/>
<use href="#mso" x="384.4" y="463.3"/>
<use href="#mso" x="385.4" y="463.2"/>
<use href="#mso" x="386.3" y="463"/>
<use href="#mso" x="387.2" y="463.1"/>
<use href="#mso" x="388.2" y="463.8"/>
<use href="#mso" x="389.1" y="463.6"/>
<use href="#mso" x="390" y="463.2"/>
<use href="#mso" x="391" y="464"/>
<use href="#mso" x="391.9" y="463.5"/>
<use href="#mso" x="392.9" y="463.4"/>
<use href="#mso" x="393.8" y="463.9"/>
<use href="#mso" x="394.7" y="463.7"/>
<use href="#mso" x="395.7" y="464"/>
<use href="#mso" x="396.6" y="464.1"/>
<use href="#mso" x="397.5" y="463.8"/>
<use href="#mso" x="398.5" y="464.2"/>
<use href="#mso" x="399.4" y="463.9"/>
<use href="#mso" x="400.3" y="464.3"/>
<use href="#mso" x="401.3" y="464.4"/>
<use href="#mso" x="402.2" y="464"/>
<use href="#mso" x="403.1" y="464.4"/>
<use href="#mso" x="404.1" y="464.1"/>
<use href="#mso" x="405" y="464.5"/>
<use href="#mso" x="405.9" y="465"/>
<use href="#mso" x="406.9" y="464.8"/>
<use href="#mso" x="407.8" y="465"/>
<use href="#mso" x="408.7" y="465.1"/>
<use href="#mso" x="409.7" y="464.6"/>
<use href="#mso" x="410.6" y="465.4"/>
<use href="#mso" x="411.5" y="465.2"/>
<use href="#mso" x="412.5" y="464.7"/>
<use href="#mso" x="413.4" y="465.4"/>
<use href="#mso" x="414.3" y="465.1"/>
<use href="#mso" x="415.3" y="465"/>
<use href="#mso" x="416.2" y="465.7"/>
<use href="#mso" x="417.1" y="465.5"/>
<use href="#mso" x="418.1" y="465.7"/>
<use href="#mso" x="419" y="465.2"/>
<use href="#mso" x="419.9" y="465.8"/>
<use href="#mso" x="420.9" y="465.2"/>
<use href="#mso" x="421.8" y="465.5"/>
<use href="#mso" x="422.7" y="465.7"/>
<use href="#mso" x="423.7" y="465.4"/>
<use href="#mso" x="424.6" y="466"/>
<use href="#mso" x="425.5" y="465.7"/>
<use href="#mso" x="426.5" y="465.8"/>
<use href="#mso" x="427.4" y="466.3"/>
<use href="#mso" x="428.3" y="466.1"/>
<use href="#mso" x="429.3" y="466.6"/>
<use href="#mso" x="430.2" y="466.4"/>
<use href="#mso" x="431.1" y="466.7"/>
<use href="#mso" x="432.1" y="466.4"/>
<use href="#mso" x="433" y="466.8"/>
<use href="#mso" x="433.9" y="466.8"/>
<use href="#mso" x="434.9" y="466.3"/>
<use href="#mso" x="435.8" y="466.9"/>
<use href="#mso" x="436.7" y="466.6"/>
<use href="#mso" x="437.7" y="467"/>
<use href="#mso" x="438.6" y="467"/>
<use href="#mso" x="439.6" y="467.2"/>
<use href="#mso" x="440.5" y="466.6"/>
<use href="#mso" x="441.4" y="466.9"/>
<use href="#mso" x="442.4" y="467.3"/>
<use href="#mso" x="443.3" y="467.5"/>
<use href="#mso" x="444.2" y="467.4"/>
<use href="#mso" x="445.2" y="466.8"/>
<use href="#mso" x="446.1" y="467.4"/>
<use href="#mso" x="447" y="467"/>
<use href="#mso" x="448" y="467.5"/>
<use href="#mso" x="448.9" y="467.8"/>
<use href="#mso" x="449.8" y="467.2"/>
<use href="#mso" x="450.8" y="468"/>
<use href="#mso" x="451.7" y="467.8"/>
<use href="#mso" x="452.6" y="467.5"/>
<use href="#mso" x="453.6" y="467.5"/>
<use href="#mso" x="454.5" y="467.8"/>
<use href="#mso" x="455.4" y="468.2"/>
<use href="#mso" x="456.4" y="468.1"/>
<use href="#mso" x="457.3" y="467.7"/>
<use href="#mso" x="458.2" y="467.7"/>
<use href="#mso" x="459.2" y="467.8"/>
<use href="#mso" x="460.1" y="468.5"/>
<use href="#mso" x="461" y="468"/>
<use href="#mso" x="462" y="468.4"/>
<use href="#mso" x="462.9" y="468.2"/>
<use href="#mso" x="463.8" y="468.7"/>
<use href="#mso" x="464.8" y="468.5"/>
<use href="#mso" x="465.7" y="468.3"/>
<use href="#mso" x="466.6" y="469"/>
<use href="#mso" x="467.6" y="468.8"/>
<use href="#mso" x="468.5" y="469"/>
<use href="#mso" x="469.4" y="469.1"/>
<use href="#mso" x="470.4" y="469.3"/>
<use href="#mso" x="471.3" y="468.6"/>
<use href="#mso" x="472.2" y="468.9"/>
<use href="#mso" x="473.2" y="468.8"/>
<use href="#mso" x="474.1" y="469.2"/>
<use href="#mso" x="475" y="469.6"/>
<use href="#mso" x="476" y="469.6"/>
<use href="#mso" x="476.9" y="468.9"/>
<use href="#mso" x="477.8" y="469.1"/>
<use href="#mso" x="478.8" y="469.8"/>
<use href="#mso" x="479.7" y="469.7"/>
<use href="#mso" x="480.6" y="469.5"/>
<use href="#mso" x="481.6" y="469.7"/>
<use href="#mso" x="482.5" y="469.4"/>
<use href="#mso" x="483.4" y="470.1"/>
<use href="#mso" x="484.4" y="469.8"/>
<use href="#mso" x="485.3" y="470.3"/>
<use href="#mso" x="486.3" y="470.1"/>
<use href="#mso" x="487.2" y="469.7"/>
<use href="#mso" x="488.1" y="470"/>
<use href="#mso" x="489.1" y="469.9"/>
<use href="#mso" x="490" y="470.6"/>
<use href="#mso" x="490.9" y="470.4"/>
<use href="#mso" x="491.9" y="469.9"/>
<use href="#mso" x="492.8" y="470.1"/>
<use href="#mso" x="493.7" y="470.4"/>
<use href="#mso" x="494.7" y="470.5"/>
<use href="#mso" x="495.6" y="470.7"/>
<use href="#mso" x="496.5" y="470.6"/>
<use href="#mso" x="497.5" y="470.6"/>
<use href="#mso" x="498.4" y="470.4"/>
<use href="#mso" x="499.3" y="470.9"/>
<use href="#mso" x="500.3" y="470.8"/>
<use href="#mso" x="501.2" y="470.5"/>
<use href="#mso" x="502.1" y="471"/>
<use href="#mso" x="503.1" y="471.5"/>
<use href="#mso" x="504" y="470.8"/>
<use href="#mso" x="504.9" y="470.9"/>
<use href="#mso" x="505.9" y="471.4"/>
<use href="#mso" x="506.8" y="471.1"/>
<use href="#mso" x="507.7" y="471.2"/>
<use href="#mso" x="508.7" y="471.5"/>
<use href="#msb" x="42.6" y="436.1"/>
<use href="#msb" x="43.5" y="436.4"/>
<use href="#msb" x="44.5" y="436.4"/>
<use href="#msb" x="45.4" y="436.8"/>
<use href="#msb" x="46.3" y="436.9"/>
<use href="#msb" x="47.3" y="436"/>
<use href="#msb" x="48.2" y="436.5"/>
<use href="#msb" x="49.1" y="436.7"/>
<use href="#msb" x="50.1" y="436.9"/>
<use href="#msb" x="51" y="436.8"/>
<use href="#msb" x="51.9" y="436.7"/>
<use href="#msb" x="52.9" y="436.7"/>
<use href="#msb" x="53.8" y="436.5"/>
<use href="#msb" x="54.7" y="436.4"/>
<use href="#msb" x="55.7" y="436.9"/>
<use href="#msb" x="56.6" y="437"/>
<use href="#msb" x="57.5" y="437.1"/>
<use href="#msb" x="58.5" y="436.9"/>
<use href="#msb" x="59.4" y="436.6"/>
<use href="#msb" x="60.3" y="437"/>
<use href="#msb" x="61.3" y="437"/>
<use href="#msb" x="62.2" y="436.8"/>
<use href="#msb" x="63.1" y="437"/>
<use href="#msb" x="64.1" y="436.8"/>
<use href="#msb" x="65" y="437"/>
<use href="#msb" x="66" y="436.9"/>
<use href="#msb" x="66.9" y="436.6"/>
<use href="#msb" x="67.8" y="436.8"/>
<use href="#msb" x="68.8" y="436.9"/>
<use href="#msb" x="69.7" y="437.5"/>
<use href="#msb" x="70.6" y="437.1"/>
<use href="#msb" x="71.6" y="437"/>
<use href="#msb" x="72.5" y="436.9"/>
<use href="#msb" x="73.4" y="436.9"/>
<use href="#msb" x="74.4" y="437"/>
<use href="#msb" x="75.3" y="436.9"/>
<use href="#msb" x="76.2" y="436.8"/>
<use href="#msb" x="77.2" y="437.6"/>
<use href="#msb" x="78.1" y="437.2"/>
<use href="#msb" x="79" y="437.2"/>
<use href="#msb" x="80" y="437.4"/>
<use href="#msb" x="80.9" y="437.2"/>
<use href="#msb" x="81.8" y="437.1"/>
<use href="#msb" x="82.8" y="437"/>
<use href="#msb" x="83.7" y="437.2"/>
<use href="#msb" x="84.6" y="437.3"/>
<use href="#msb" x="85.6" y="437.7"/>
<use href="#msb" x="86.5" y="437.5"/>
<use href="#msb" x="87.4" y="437.9"/>
<use href="#msb" x="88.4" y="437.4"/>
<use href="#msb" x="89.3" y="437.9"/>
<use href="#msb" x="90.2" y="437.7"/>
<use href="#msb" x="91.2" y="437.2"/>
<use href="#msb" x="92.1" y="437.4"/>
<use href="#msb" x="93" y="437.7"/>
<use href="#msb" x="94" y="438.1"/>
<use href="#msb" x="94.9" y="437.6"/>
<use href="#msb" x="95.8" y="438"/>
<use href="#msb" x="96.8" y="437.7"/>
<use href="#msb" x="97.7" y="438.1"/>
<use href="#msb" x="98.6" y="437.4"/>
<use href="#msb" x="99.6" y="437.8"/>
<use href="#msb" x="100.5" y="438.2"/>
<use href="#msb" x="101.4" y="437.7"/>
<use href="#msb" x="102.4" y="437.7"/>
<use href="#msb" x="103.3" y="437.5"/>
<use href="#msb" x="104.2" y="437.7"/>
<use href="#msb" x="105.2" y="437.8"/>
<use href="#msb" x="106.1" y="438.2"/>
<use href="#msb" x="107" y="437.8"/>
<use href="#msb" x="108" y="438"/>
<use href="#msb" x="108.9" y="437.8"/>
<use href="#msb" x="109.8" y="438.2"/>
<use href="#msb" x="110.8" y="438.5"/>
<use href="#msb" x="111.7" y="438.3"/>
<use href="#msb" x="112.7" y="437.9"/>
<use href="#msb" x="113.6" y="438.4"/>
<use href="#msb" x="114.5" y="438.7"/>
<use href="#msb" x="115.5" y="438.4"/>
<use href="#msb" x="116.4" y="437.9"/>
<use href="#msb" x="117.3" y="438.6"/>
<use href="#msb" x="118.3" y="438.7"/>
<use href="#msb" x="119.2" y="438.2"/>
<use href="#msb" x="120.1" y="438.1"/>
<use href="#msb" x="121.1" y="438.1"/>
<use href="#msb" x="122" y="438.5"/>
<use href="#msb" x="122.9" y="438.8"/>
<use href="#msb" x="123.9" y="438.6"/>
<use href="#msb" x="124.8" y="438.9"/>
<use href="#msb" x="125.7" y="438.3"/>
<use href="#msb" x="126.7" y="438.4"/>
<use href="#msb" x="127.6" y="438.8"/>
<use href="#msb" x="128.5" y="438.8"/>
<use href="#msb" x="129.5" y="438.6"/>
<use href="#msb" x="130.4" y="438.8"/>
<use href="#msb" x="131.3" y="438.5"/>
<use href="#msb" x="132.3" y="438.3"/>
<use href="#msb" x="133.2" y="438.7"/>
<use href="#msb" x="134.1" y="438.4"/>
<use href="#msb" x="135.1" y="438.9"/>
<use href="#msb" x="136" y="438.7"/>
<use href="#msb" x="136.9" y="438.8"/>
<use href="#msb" x="137.9" y="439"/>
<use href="#msb" x="138.8" y="438.7"/>
<use href="#msb" x="139.7" y="438.9"/>
<use href="#msb" x="140.7" y="438.5"/>
<use href="#msb" x="141.6" y="439.4"/>
<use href="#msb" x="142.5" y="439.1"/>
<use href="#msb" x="143.5" y="439.5"/>
<use href="#msb" x="144.4" y="438.6"/>
<use href="#msb" x="145.3" y="439.2"/>
<use href="#msb" x="146.3" y="439.3"/>
<use href="#msb" x="147.2" y="439"/>
<use href="#msb" x="148.1" y="438.8"/>
<use href="#msb" x="149.1" y="438.9"/>
<use href="#msb" x="150" y="438.9"/>
<use href="#msb" x="150.9" y="439.5"/>
<use href="#msb" x="151.9" y="438.9"/>
<use href="#msb" x="152.8" y="439.6"/>
<use href="#msb" x="153.7" y="439.2"/>
<use href="#msb" x="154.7" y="439.4"/>
<use href="#msb" x="155.6" y="439.4"/>
<use href="#msb" x="156.5" y="439.4"/>
<use href="#msb" x="157.5" y="439.5"/>
<use href="#msb" x="158.4" y="439.5"/>
<use href="#msb" x="159.3" y="439.3"/>
<use href="#msb" x="160.3" y="439.7"/>
<use href="#msb" x="161.2" y="439.3"/>
<use href="#msb" x="162.2" y="439.7"/>
<use href="#msb" x="163.1" y="439.8"/>
<use href="#msb" x="164" y="439.8"/>
<use href="#msb" x="165" y="439.4"/>
<use href="#msb" x="165.9" y="439.9"/>
<use href="#msb" x="166.8" y="440.1"/>
<use href="#msb" x="167.8" y="439.6"/>
<use href="#msb" x="168.7" y="439.5"/>
<use href="#msb" x="169.6" y="439.7"/>
<use href="#msb" x="170.6" y="440.1"/>
<use href="#msb" x="171.5" y="439.4"/>
<use href="#msb" x="172.4" y="439.4"/>
<use href="#msb" x="173.4" y="439.8"/>
<use href="#msb" x="174.3" y="440"/>
<use href="#msb" x="175.2" y="440.1"/>
<use href="#msb" x="176.2" y="439.8"/>
<use href="#msb" x="177.1" y="440.4"/>
<use href="#msb" x="178" y="439.7"/>
<use href="#msb" x="179" y="440.2"/>
<use href="#msb" x="179.9" y="439.6"/>
<use href="#msb" x="180.8" y="439.6"/>
<use href="#msb" x="181.8" y="439.7"/>
<use href="#msb" x="182.7" y="439.7"/>
<use href="#msb" x="183.6" y="440.1"/>
<use href="#msb" x="184.6" y="440.2"/>
<use href="#msb" x="185.5" y="439.9"/>
<use href="#msb" x="186.4" y="440.6"/>
<use href="#msb" x="187.4" y="440.1"/>
<use href="#msb" x="188.3" y="439.9"/>
<use href="#msb" x="189.2" y="440"/>
<use href="#msb" x="190.2" y="440.5"/>
<use href="#msb" x="191.1" y="440.7"/>
<use href="#msb" x="192" y="440"/>
<use href="#msb" x="193" y="439.9"/>
<use href="#msb" x="193.9" y="440.6"/>
<use href="#msb" x="194.8" y="440.2"/>
<use href="#msb" x="195.8" y="440.9"/>
<use href="#msb" x="196.7" y="440.4"/>
<use href="#msb" x="197.6" y="440.6"/>
<use href="#msb" x="198.6" y="440.4"/>
<use href="#msb" x="199.5" y="440.8"/>
<use href="#msb" x="200.4" y="440.5"/>
<use href="#msb" x="201.4" y="440.4"/>
<use href="#msb" x="202.3" y="441"/>
<use href="#msb" x="203.2" y="440.3"/>
<use href="#msb" x="204.2" y="440.9"/>
<use href="#msb" x="205.1" y="440.3"/>
<use href="#msb" x="206.1" y="440.8"/>
<use href="#msb" x="207" y="440.6"/>
<use href="#msb" x="207.9" y="441.1"/>
<use href="#msb" x="208.9" y="440.4"/>
<use href="#msb" x="209.8" y="440.9"/>
<use href="#msb" x="210.7" y="440.7"/>
<use href="#msb" x="211.7" y="441.2"/>
<use href="#msb" x="212.6" y="441.3"/>
<use href="#msb" x="213.5" y="441"/>
<use href="#msb" x="214.5" y="440.7"/>
<use href="#msb" x="215.4" y="440.7"/>
<use href="#msb" x="216.3" y="440.8"/>
<use href="#msb" x="217.3" y="440.9"/>
<use href="#msb" x="218.2" y="440.8"/>
<use href="#msb" x="219.1" y="440.8"/>
<use href="#msb" x="220.1" y="441.3"/>
<use href="#msb" x="221" y="441.2"/>
<use href="#msb" x="221.9" y="440.9"/>
<use href="#msb" x="222.9" y="441.6"/>
<use href="#msb" x="223.8" y="440.9"/>
<use href="#msb" x="224.7" y="441.3"/>
<use href="#msb" x="225.7" y="440.9"/>
<use href="#msb" x="226.6" y="441.6"/>
<use href="#msb" x="227.5" y="441.6"/>
<use href="#msb" x="228.5" y="441.1"/>
<use href="#msb" x="229.4" y="441.5"/>
<use href="#msb" x="230.3" y="441.6"/>
<use href="#msb" x="231.3" y="441.2"/>
<use href="#msb" x="232.2" y="441.2"/>
<use href="#msb" x="233.1" y="441.4"/>
<use href="#msb" x="234.1" y="441.8"/>
<use href="#msb" x="235" y="441.2"/>
<use href="#msb" x="235.9" y="441.7"/>
<use href="#msb" x="236.9" y="441.6"/>
<use href="#msb" x="237.8" y="441.5"/>
<use href="#msb" x="238.7" y="441.6"/>
<use href="#msb" x="239.7" y="441.9"/>
<use href="#msb" x="240.6" y="441.4"/>
<use href="#msb" x="241.5" y="442"/>
<use href="#msb" x="242.5" y="441.5"/>
<use href="#msb" x="243.4" y="441.9"/>
<use href="#msb" x="244.3" y="442"/>
<use href="#msb" x="245.3" y="441.5"/>
<use href="#msb" x="246.2" y="442.1"/>
<use href="#msb" x="247.1" y="442.2"/>
<use href="#msb" x="248.1" y="441.6"/>
<use href="#msb" x="249" y="441.4"/>
<use href="#msb" x="249.9" y="441.5"/>
<use href="#msb" x="250.9" y="442.3"/>
<use href="#msb" x="251.8" y="441.5"/>
<use href="#msb" x="252.8" y="442.3"/>
<use href="#msb" x="253.7" y="441.7"/>
<use href="#msb" x="254.6" y="442.2"/>
<use href="#msb" x="255.6" y="441.7"/>
<use href="#msb" x="256.5" y="441.8"/>
<use href="#msb" x="257.4" y="442.2"/>
<use href="#msb" x="258.4" y="441.7"/>
<use href="#msb" x="259.3" y="442"/>
<use href="#msb" x="260.2" y="442.5"/>
<use href="#msb" x="261.2" y="442.4"/>
<use href="#msb" x="262.1" y="442.5"/>
<use href="#msb" x="263" y="442.7"/>
<use href="#msb" x="264" y="441.8"/>
<use href="#msb" x="264.9" y="442"/>
<use href="#msb" x="265.8" y="442.6"/>
<use href="#msb" x="266.8" y="442.5"/>
<use href="#msb" x="267.7" y="441.9"/>
<use href="#msb" x="268.6" y="442.4"/>
<use href="#msb" x="269.6" y="442.2"/>
<use href="#msb" x="270.5" y="442.4"/>
<use href="#msb" x="271.4" y="442.1"/>
<use href="#msb" x="272.4" y="442"/>
<use href="#msb" x="273.3" y="442.9"/>
<use href="#msb" x="274.2" y="442.4"/>
<use href="#msb" x="275.2" y="442.9"/>
<use href="#msb" x="276.1" y="442.2"/>
<use href="#msb" x="277" y="442.6"/>
<use href="#msb" x="278" y="442.3"/>
<use href="#msb" x="278.9" y="442.6"/>
<use href="#msb" x="279.8" y="442.4"/>
<use href="#msb" x="280.8" y="442.9"/>
<use href="#msb" x="281.7" y="442.4"/>
<use href="#msb" x="282.6" y="443"/>
<use href="#msb" x="283.6" y="442.8"/>
<use href="#msb" x="284.5" y="442.5"/>
<use href="#msb" x="285.4" y="442.7"/>
<use href="#msb" x="286.4" y="442.8"/>
<use href="#msb" x="287.3" y="443.3"/>
<use href="#msb" x="288.2" y="442.8"/>
<use href="#msb" x="289.2" y="442.7"/>
<use href="#msb" x="290.1" y="443.4"/>
<use href="#msb" x="291" y="443.3"/>
<use href="#msb" x="292" y="443.2"/>
<use href="#msb" x="292.9" y="442.8"/>
<use href="#msb" x="293.8" y="442.8"/>
<use href="#msb" x="294.8" y="442.9"/>
<use href="#msb" x="295.7" y="442.7"/>
<use href="#msb" x="296.6" y="442.7"/>
<use href="#msb" x="297.6" y="443.2"/>
<use href="#msb" x="298.5" y="443.1"/>
<use href="#msb" x="299.5" y="443.3"/>
<use href="#msb" x="300.4" y="443.1"/>
<use href="#msb" x="301.3" y="442.8"/>
<use href="#msb" x="302.3" y="443.4"/>
<use href="#msb" x="303.2" y="443.4"/>
<use href="#msb" x="304.1" y="443.4"/>
<use href="#msb" x="305.1" y="443.4"/>
<use href="#msb" x="306" y="443.5"/>
<use href="#msb" x="306.9" y="443.8"/>
<use href="#msb" x="307.9" y="443.8"/>
<use href="#msb" x="308.8" y="443.6"/>
<use href="#msb" x="309.7" y="443.4"/>
<use href="#msb" x="310.7" y="443.3"/>
<use href="#msb" x="311.6" y="443.5"/>
<use href="#msb" x="312.5" y="444"/>
<use href="#msb" x="313.5" y="443.5"/>
<use href="#msb" x="314.4" y="443.5"/>
<use href="#msb" x="315.3" y="443.5"/>
<use href="#msb" x="316.3" y="443.3"/>
<use href="#msb" x="317.2" y="444.1"/>
<use href="#msb" x="318.1" y="443.3"/>
<use href="#msb" x="319.1" y="443.8"/>
<use href="#msb" x="320" y="444.1"/>
<use href="#msb" x="320.9" y="443.6"/>
<use href="#msb" x="321.9" y="443.9"/>
<use href="#msb" x="322.8" y="443.7"/>
<use href="#msb" x="323.7" y="443.6"/>
<use href="#msb" x="324.7" y="443.6"/>
<use href="#msb" x="325.6" y="443.6"/>
<use href="#msb" x="326.5" y="444.2"/>
<use href="#msb" x="327.5" y="444.2"/>
<use href="#msb" x="328.4" y="444.3"/>
<use href="#msb" x="329.3" y="443.6"/>
<use href="#msb" x="330.3" y="444.2"/>
<use href="#msb" x="331.2" y="443.9"/>
<use href="#msb" x="332.1" y="444.2"/>
<use href="#msb" x="333.1" y="444.1"/>
<use href="#msb" x="334" y="444"/>
<use href="#msb" x="334.9" y="444.6"/>
<use href="#msb" x="335.9" y="443.7"/>
<use href="#msb" x="336.8" y="444.4"/>
<use href="#msb" x="337.7" y="444.5"/>
<use href="#msb" x="338.7" y="444.3"/>
<use href="#msb" x="339.6" y="444.4"/>
<use href="#msb" x="340.5" y="444.7"/>
<use href="#msb" x="341.5" y="444.1"/>
<use href="#msb" x="342.4" y="444.5"/>
<use href="#msb" x="343.3" y="444.6"/>
<use href="#msb" x="344.3" y="444.3"/>
<use href="#msb" x="345.2" y="444.6"/>
<use href="#msb" x="346.2" y="444.4"/>
<use href="#msb" x="347.1" y="444.5"/>
<use href="#msb" x="348" y="444.6"/>
<use href="#msb" x="349" y="444.7"/>
<use href="#msb" x="349.9" y="444.4"/>
<use href="#msb" x="350.8" y="444.7"/>
<use href="#msb" x="351.8" y="444.6"/>
<use href="#msb" x="352.7" y="444.4"/>
<use href="#msb" x="353.6" y="444.8"/>
<use href="#msb" x="354.6" y="444.5"/>
<use href="#msb" x="355.5" y="445.1"/>
<use href="#msb" x="356.4" y="444.7"/>
<use href="#msb" x="357.4" y="445"/>
<use href="#msb" x="358.3" y="444.8"/>
<use href="#msb" x="359.2" y="444.8"/>
<use href="#msb" x="360.2" y="444.6"/>
<use href="#msb" x="361.1" y="444.5"/>
<use href="#msb" x="362" y="445.3"/>
<use href="#msb" x="363" y="444.9"/>
<use href="#msb" x="363.9" y="444.9"/>
<use href="#msb" x="364.8" y="445"/>
<use href="#msb" x="365.8" y="445.3"/>
<use href="#msb" x="366.7" y="444.8"/>
<use href="#msb" x="367.6" y="444.7"/>
<use href="#msb" x="368.6" y="445.3"/>
<use href="#msb" x="369.5" y="445"/>
<use href="#msb" x="370.4" y="445.2"/>
<use href="#msb" x="371.4" y="445.4"/>
<use href="#msb" x="372.3" y="445.5"/>
<use href="#msb" x="373.2" y="445.5"/>
<use href="#msb" x="374.2" y="444.8"/>
<use href="#msb" x="375.1" y="445.1"/>
<use href="#msb" x="376" y="445.6"/>
<use href="#msb" x="377" y="445.6"/>
<use href="#msb" x="377.9" y="445"/>
<use href="#msb" x="378.8" y="445"/>
<use href="#msb" x="379.8" y="445.1"/>
<use href="#msb" x="380.7" y="445"/>
<use href="#msb" x="381.6" y="445.3"/>
<use href="#msb" x="382.6" y="445.7"/>
<use href="#msb" x="383.5" y="445.5"/>
<use href="#msb" x="384.4" y="445.4"/>
<use href="#msb" x="385.4" y="445.1"/>
<use href="#msb" x="386.3" y="445.4"/>
<use href="#msb" x="387.2" y="446"/>
<use href="#msb" x="388.2" y="445.8"/>
<use href="#msb" x="389.1" y="445.6"/>
<use href="#msb" x="390" y="445.6"/>
<use href="#msb" x="391" y="445.9"/>
<use href="#msb" x="391.9" y="445.9"/>
<use href="#msb" x="392.9" y="445.4"/>
<use href="#msb" x="393.8" y="445.9"/>
<use href="#msb" x="394.7" y="445.6"/>
<use href="#msb" x="395.7" y="445.8"/>
<use href="#msb" x="396.6" y="445.6"/>
<use href="#msb" x="397.5" y="445.7"/>
<use href="#msb" x="398.5" y="445.7"/>
<use href="#msb" x="399.4" y="445.8"/>
<use href="#msb" x="400.3" y="445.5"/>
<use href="#msb" x="401.3" y="445.7"/>
<use href="#msb" x="402.2" y="446"/>
<use href="#msb" x="403.1" y="445.6"/>
<use href="#msb" x="404.1" y="445.7"/>
<use href="#msb" x="405" y="446.2"/>
<use href="#msb" x="405.9" y="445.9"/>
<use href="#msb" x="406.9" y="445.9"/>
<use href="#msb" x="407.8" y="445.9"/>
<use href="#msb" x="408.7" y="446.4"/>
<use href="#msb" x="409.7" y="445.8"/>
<use href="#msb" x="410.6" y="446.3"/>
<use href="#msb" x="411.5" y="446.5"/>
<use href="#msb" x="412.5" y="446"/>
<use href="#msb" x="413.4" y="446.2"/>
<use href="#msb" x="414.3" y="446.5"/>
<use href="#msb" x="415.3" y="446.4"/>
<use href="#msb" x="416.2" y="446.2"/>
<use href="#msb" x="417.1" y="445.9"/>
<use href="#msb" x="418.1" y="446.3"/>
<use href="#msb" x="419" y="446.3"/>
<use href="#msb" x="419.9" y="446.6"/>
<use href="#msb" x="420.9" y="446.3"/>
<use href="#msb" x="421.8" y="446.4"/>
<use href="#msb" x="422.7" y="446.6"/>
<use href="#msb" x="423.7" y="446.8"/>
<use href="#msb" x="424.6" y="446.4"/>
<use href="#msb" x="425.5" y="446.5"/>
<use href="#msb" x="426.5" y="446.7"/>
<use href="#msb" x="427.4" y="447"/>
<use href="#msb" x="428.3" y="446.4"/>
<use href="#msb" x="429.3" y="447.1"/>
<use href="#msb" x="430.2" y="446.9"/>
<use href="#msb" x="431.1" y="446.6"/>
<use href="#msb" x="432.1" y="446.9"/>
<use href="#msb" x="433" y="446.6"/>
<use href="#msb" x="433.9" y="446.4"/>
<use href="#msb" x="434.9" y="447.1"/>
<use href="#msb" x="435.8" y="446.7"/>
<use href="#msb" x="436.7" y="446.9"/>
<use href="#msb" x="437.7" y="446.9"/>
<use href="#msb" x="438.6" y="447.3"/>
<use href="#msb" x="439.6" y="447.2"/>
<use href="#msb" x="440.5" y="446.6"/>
<use href="#msb" x="441.4" y="447.1"/>
<use href="#msb" x="442.4" y="447"/>
<use href="#msb" x="443.3" y="447"/>
<use href="#msb" x="444.2" y="447.4"/>
<use href="#msb" x="445.2" y="447"/>
<use href="#msb" x="446.1" y="447.1"/>
<use href="#msb" x="447" y="447.5"/>
<use href="#msb" x="448" y="447.1"/>
<use href="#msb" x="448.9" y="447.2"/>
<use href="#msb" x="449.8" y="447.2"/>
<use href="#msb" x="450.8" y="447.5"/>
<use href="#msb" x="451.7" y="447.4"/>
<use href="#msb" x="452.6" y="447.5"/>
<use href="#msb" x="453.6" y="447.2"/>
<use href="#msb" x="454.5" y="446.9"/>
<use href="#msb" x="455.4" y="447.5"/>
<use href="#msb" x="456.4" y="447.5"/>
<use href="#msb" x="457.3" y="447.7"/>
<use href="#msb" x="458.2" y="447.7"/>
<use href="#msb" x="459.2" y="447.1"/>
<use href="#msb" x="460.1" y="447.3"/>
<use href="#msb" x="461" y="447.1"/>
<use href="#msb" x="462" y="447.8"/>
<use href="#msb" x="462.9" y="447.2"/>
<use href="#msb" x="463.8" y="447.2"/>
<use href="#msb" x="464.8" y="447.9"/>
<use href="#msb" x="465.7" y="447.7"/>
<use href="#msb" x="466.6" y="447.3"/>
<use href="#msb" x="467.6" y="447.9"/>
<use href="#msb" x="468.5" y="447.9"/>
<use href="#msb" x="469.4" y="447.7"/>
<use href="#msb" x="470.4" y="447.4"/>
<use href="#msb" x="471.3" y="448"/>
<use href="#msb" x="472.2" y="447.8"/>
<use href="#msb" x="473.2" y="447.9"/>
<use href="#msb" x="474.1" y="448.3"/>
<use href="#msb" x="475" y="448.2"/>
<use href="#msb" x="476" y="448.3"/>
<use href="#msb" x="476.9" y="447.6"/>
<use href="#msb" x="477.8" y="447.8"/>
<use href="#msb" x="478.8" y="448"/>
<use href="#msb" x="479.7" y="447.6"/>
<use href="#msb" x="480.6" y="448.5"/>
<use href="#msb" x="481.6" y="447.9"/>
<use href="#msb" x="482.5" y="447.9"/>
<use href="#msb" x="483.4" y="448"/>
<use href="#msb" x="484.4" y="447.9"/>
<use href="#msb" x="485.3" y="448.5"/>
<use href="#msb" x="486.3" y="448.3"/>
<use href="#msb" x="487.2" y="448.2"/>
<use href="#msb" x="488.1" y="448.2"/>
<use href="#msb" x="489.1" y="447.9"/>
<use href="#msb" x="490" y="448.1"/>
<use href="#msb" x="490.9" y="448.7"/>
<use href="#msb" x="491.9" y="448.6"/>
<use href="#msb" x="492.8" y="448.7"/>
<use href="#msb" x="493.7" y="448.2"/>
<use href="#msb" x="494.7" y="448.2"/>
<use href="#msb" x="495.6" y="448.1"/>
<use href="#msb" x="496.5" y="448.5"/>
<use href="#msb" x="497.5" y="448.4"/>
<use href="#msb" x="498.4" y="448.5"/>
<use href="#msb" x="499.3" y="448.5"/>
<use href="#msb" x="500.3" y="448.7"/>
<use href="#msb" x="501.2" y="448.5"/>
<use href="#msb" x="502.1" y="448.9"/>
<use href="#msb" x="503.1" y="448.4"/>
<use href="#msb" x="504" y="449.1"/>
<use href="#msb" x="504.9" y="448.8"/>
<use href="#msb" x="505.9" y="448.3"/>
<use href="#msb" x="506.8" y="448.6"/>
<use href="#msb" x="507.7" y="448.8"/>
<use href="#msb" x="508.7" y="448.7"/>
<rect x="42" y="378" width="467" height="146.6" fill="none" stroke="#141414" stroke-width="1.8"/>
<use href="#mlo" x="374.4" y="494"/>
<text x="386.8" y="497.9" font-size="11.4" text-anchor="start" font-weight="bold">NFPP@C</text>
<use href="#mlb" x="374.4" y="508"/>
<text x="386.8" y="511.9" font-size="11.4" text-anchor="start" font-weight="bold">NFPP@MX</text>
</svg></body></html>
